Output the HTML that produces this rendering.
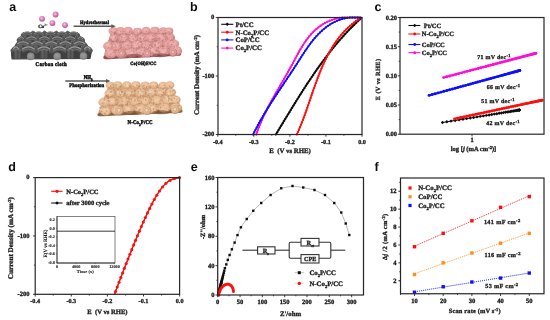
<!DOCTYPE html>
<html><head><meta charset="utf-8"><style>
html,body{margin:0;padding:0;background:#fff;width:550px;height:320px;overflow:hidden}
svg{display:block}
text{text-rendering:geometricPrecision}
</style></head><body>
<svg width="550" height="320" viewBox="0 0 550 320">
<defs><filter id="soft" x="-0.01" y="-0.01" width="1.02" height="1.02"><feGaussianBlur stdDeviation="0.3"/></filter></defs>
<rect width="550" height="320" fill="#fff"/>
<g filter="url(#soft)">
<defs>
<linearGradient id="gArch" x1="0" y1="0" x2="0" y2="1"><stop offset="0" stop-color="#8e8e8e"/><stop offset="0.35" stop-color="#737373"/><stop offset="0.8" stop-color="#555"/><stop offset="1" stop-color="#444"/></linearGradient>
<linearGradient id="gKnob" x1="0" y1="0" x2="1" y2="0"><stop offset="0" stop-color="#3a3a3a"/><stop offset="0.3" stop-color="#626262"/><stop offset="0.5" stop-color="#4e4e4e"/><stop offset="0.7" stop-color="#5c5c5c"/><stop offset="1" stop-color="#333"/></linearGradient>
<radialGradient id="gP" cx="0.45" cy="0.42" r="0.6"><stop offset="0" stop-color="#f0b6b3"/><stop offset="0.65" stop-color="#e39f9c"/><stop offset="1" stop-color="#c07a77"/></radialGradient>
<radialGradient id="gPd" cx="0.42" cy="0.38" r="0.62"><stop offset="0" stop-color="#e8a6a3"/><stop offset="0.55" stop-color="#cf8582"/><stop offset="1" stop-color="#9c5c5a"/></radialGradient>
<radialGradient id="gO" cx="0.45" cy="0.42" r="0.6"><stop offset="0" stop-color="#f4d0ad"/><stop offset="0.65" stop-color="#e6ba93"/><stop offset="1" stop-color="#c39670"/></radialGradient>
<radialGradient id="gOd" cx="0.42" cy="0.38" r="0.62"><stop offset="0" stop-color="#ecc39d"/><stop offset="0.55" stop-color="#d6a67e"/><stop offset="1" stop-color="#9e7552"/></radialGradient>
<radialGradient id="gS" cx="0.42" cy="0.38" r="0.62"><stop offset="0" stop-color="#f6c6e2"/><stop offset="0.55" stop-color="#e07ab8"/><stop offset="1" stop-color="#b8508e"/></radialGradient>
<radialGradient id="gFc" cx="0.45" cy="0.4" r="0.6"><stop offset="0" stop-color="#9c9c9c"/><stop offset="1" stop-color="#7c7c7c"/></radialGradient>
<radialGradient id="gFp" cx="0.45" cy="0.45" r="0.6"><stop offset="0" stop-color="#f2c0bd"/><stop offset="0.55" stop-color="#e2a09d"/><stop offset="1" stop-color="#b06c69"/></radialGradient>
<radialGradient id="gFo" cx="0.45" cy="0.45" r="0.6"><stop offset="0" stop-color="#f5d9bc"/><stop offset="0.55" stop-color="#e6bd96"/><stop offset="1" stop-color="#b38862"/></radialGradient>
</defs>
<polygon points="23.5,32.5 77,32.5 91.5,51 90,58.3 12,58.8 11.5,52" fill="#404040" stroke="#404040" stroke-width="1.2" stroke-linejoin="round"/>
<ellipse cx="33.03" cy="33.8" rx="2.08" ry="3.15" fill="url(#gKnob)"/>
<path d="M31.62 32.07 Q33.03 29.91 34.44 32.07" stroke="#747474" stroke-width="0.8" fill="none"/>
<ellipse cx="44.61" cy="33.8" rx="2.08" ry="3.15" fill="url(#gKnob)"/>
<path d="M43.2 32.07 Q44.61 29.91 46.02 32.07" stroke="#747474" stroke-width="0.8" fill="none"/>
<ellipse cx="56.19" cy="33.8" rx="2.08" ry="3.15" fill="url(#gKnob)"/>
<path d="M54.78 32.07 Q56.19 29.91 57.6 32.07" stroke="#747474" stroke-width="0.8" fill="none"/>
<ellipse cx="67.77" cy="33.8" rx="2.08" ry="3.15" fill="url(#gKnob)"/>
<path d="M66.36 32.07 Q67.77 29.91 69.18 32.07" stroke="#747474" stroke-width="0.8" fill="none"/>
<path d="M22.61 35 Q27.24 31.51 31.87 35" stroke="#545454" stroke-width="3.65" fill="none" stroke-linecap="round"/>
<path d="M22.91 33.5 Q27.24 29.91 31.57 33.5" stroke="#9c9c9c" stroke-width="0.91" fill="none" stroke-linecap="round"/>
<path d="M22.91 35.4 Q27.24 32.31 31.57 35.4" stroke="#6e6e6e" stroke-width="0.83" fill="none" stroke-linecap="round"/>
<path d="M34.19 35 Q38.82 31.51 43.45 35" stroke="#545454" stroke-width="3.65" fill="none" stroke-linecap="round"/>
<path d="M34.49 33.5 Q38.82 29.91 43.15 33.5" stroke="#9c9c9c" stroke-width="0.91" fill="none" stroke-linecap="round"/>
<path d="M34.49 35.4 Q38.82 32.31 43.15 35.4" stroke="#6e6e6e" stroke-width="0.83" fill="none" stroke-linecap="round"/>
<path d="M45.77 35 Q50.4 31.51 55.03 35" stroke="#545454" stroke-width="3.65" fill="none" stroke-linecap="round"/>
<path d="M46.07 33.5 Q50.4 29.91 54.73 33.5" stroke="#9c9c9c" stroke-width="0.91" fill="none" stroke-linecap="round"/>
<path d="M46.07 35.4 Q50.4 32.31 54.73 35.4" stroke="#6e6e6e" stroke-width="0.83" fill="none" stroke-linecap="round"/>
<path d="M57.35 35 Q61.98 31.51 66.61 35" stroke="#545454" stroke-width="3.65" fill="none" stroke-linecap="round"/>
<path d="M57.65 33.5 Q61.98 29.91 66.31 33.5" stroke="#9c9c9c" stroke-width="0.91" fill="none" stroke-linecap="round"/>
<path d="M57.65 35.4 Q61.98 32.31 66.31 35.4" stroke="#6e6e6e" stroke-width="0.83" fill="none" stroke-linecap="round"/>
<path d="M68.93 35 Q73.56 31.51 78.19 35" stroke="#545454" stroke-width="3.65" fill="none" stroke-linecap="round"/>
<path d="M69.23 33.5 Q73.56 29.91 77.89 33.5" stroke="#9c9c9c" stroke-width="0.91" fill="none" stroke-linecap="round"/>
<path d="M69.23 35.4 Q73.56 32.31 77.89 35.4" stroke="#6e6e6e" stroke-width="0.83" fill="none" stroke-linecap="round"/>
<ellipse cx="25.05" cy="38.93" rx="2.28" ry="3.46" fill="url(#gKnob)"/>
<path d="M23.5 37.07 Q25.05 34.7 26.6 37.07" stroke="#747474" stroke-width="0.8" fill="none"/>
<ellipse cx="37.93" cy="38.93" rx="2.28" ry="3.46" fill="url(#gKnob)"/>
<path d="M36.38 37.07 Q37.93 34.7 39.48 37.07" stroke="#747474" stroke-width="0.8" fill="none"/>
<ellipse cx="50.8" cy="38.93" rx="2.28" ry="3.46" fill="url(#gKnob)"/>
<path d="M49.26 37.07 Q50.8 34.7 52.35 37.07" stroke="#747474" stroke-width="0.8" fill="none"/>
<ellipse cx="63.68" cy="38.93" rx="2.28" ry="3.46" fill="url(#gKnob)"/>
<path d="M62.13 37.07 Q63.68 34.7 65.23 37.07" stroke="#747474" stroke-width="0.8" fill="none"/>
<ellipse cx="76.56" cy="38.93" rx="2.28" ry="3.46" fill="url(#gKnob)"/>
<path d="M75.01 37.07 Q76.56 34.7 78.11 37.07" stroke="#747474" stroke-width="0.8" fill="none"/>
<path d="M18.62 40.13 Q21.19 36.4 23.77 40.13" stroke="#545454" stroke-width="4.01" fill="none" stroke-linecap="round"/>
<path d="M18.92 38.63 Q21.19 34.8 23.47 38.63" stroke="#9c9c9c" stroke-width="1" fill="none" stroke-linecap="round"/>
<path d="M18.92 40.53 Q21.19 37.2 23.47 40.53" stroke="#6e6e6e" stroke-width="0.91" fill="none" stroke-linecap="round"/>
<path d="M26.34 40.13 Q31.49 36.4 36.64 40.13" stroke="#545454" stroke-width="4.01" fill="none" stroke-linecap="round"/>
<path d="M26.64 38.63 Q31.49 34.8 36.34 38.63" stroke="#9c9c9c" stroke-width="1" fill="none" stroke-linecap="round"/>
<path d="M26.64 40.53 Q31.49 37.2 36.34 40.53" stroke="#6e6e6e" stroke-width="0.91" fill="none" stroke-linecap="round"/>
<path d="M39.22 40.13 Q44.37 36.4 49.52 40.13" stroke="#545454" stroke-width="4.01" fill="none" stroke-linecap="round"/>
<path d="M39.52 38.63 Q44.37 34.8 49.22 38.63" stroke="#9c9c9c" stroke-width="1" fill="none" stroke-linecap="round"/>
<path d="M39.52 40.53 Q44.37 37.2 49.22 40.53" stroke="#6e6e6e" stroke-width="0.91" fill="none" stroke-linecap="round"/>
<path d="M52.09 40.13 Q57.24 36.4 62.39 40.13" stroke="#545454" stroke-width="4.01" fill="none" stroke-linecap="round"/>
<path d="M52.39 38.63 Q57.24 34.8 62.09 38.63" stroke="#9c9c9c" stroke-width="1" fill="none" stroke-linecap="round"/>
<path d="M52.39 40.53 Q57.24 37.2 62.09 40.53" stroke="#6e6e6e" stroke-width="0.91" fill="none" stroke-linecap="round"/>
<path d="M64.97 40.13 Q70.12 36.4 75.27 40.13" stroke="#545454" stroke-width="4.01" fill="none" stroke-linecap="round"/>
<path d="M65.27 38.63 Q70.12 34.8 74.97 38.63" stroke="#9c9c9c" stroke-width="1" fill="none" stroke-linecap="round"/>
<path d="M65.27 40.53 Q70.12 37.2 74.97 40.53" stroke="#6e6e6e" stroke-width="0.91" fill="none" stroke-linecap="round"/>
<path d="M77.84 40.13 Q80.42 36.4 83 40.13" stroke="#545454" stroke-width="4.01" fill="none" stroke-linecap="round"/>
<path d="M78.14 38.63 Q80.42 34.8 82.7 38.63" stroke="#9c9c9c" stroke-width="1" fill="none" stroke-linecap="round"/>
<path d="M78.14 40.53 Q80.42 37.2 82.7 40.53" stroke="#6e6e6e" stroke-width="0.91" fill="none" stroke-linecap="round"/>
<ellipse cx="29.95" cy="44.06" rx="2.48" ry="3.77" fill="url(#gKnob)"/>
<path d="M28.27 42.07 Q29.95 39.49 31.64 42.07" stroke="#747474" stroke-width="0.8" fill="none"/>
<ellipse cx="44.12" cy="44.06" rx="2.48" ry="3.77" fill="url(#gKnob)"/>
<path d="M42.44 42.07 Q44.12 39.49 45.81 42.07" stroke="#747474" stroke-width="0.8" fill="none"/>
<ellipse cx="58.3" cy="44.06" rx="2.48" ry="3.77" fill="url(#gKnob)"/>
<path d="M56.61 42.07 Q58.3 39.49 59.98 42.07" stroke="#747474" stroke-width="0.8" fill="none"/>
<ellipse cx="72.47" cy="44.06" rx="2.48" ry="3.77" fill="url(#gKnob)"/>
<path d="M70.78 42.07 Q72.47 39.49 74.15 42.07" stroke="#747474" stroke-width="0.8" fill="none"/>
<path d="M17.2 45.26 Q22.87 41.28 28.53 45.26" stroke="#545454" stroke-width="4.36" fill="none" stroke-linecap="round"/>
<path d="M17.5 43.76 Q22.87 39.68 28.23 43.76" stroke="#9c9c9c" stroke-width="1.09" fill="none" stroke-linecap="round"/>
<path d="M17.5 45.66 Q22.87 42.08 28.23 45.66" stroke="#6e6e6e" stroke-width="0.99" fill="none" stroke-linecap="round"/>
<path d="M31.37 45.26 Q37.04 41.28 42.71 45.26" stroke="#545454" stroke-width="4.36" fill="none" stroke-linecap="round"/>
<path d="M31.67 43.76 Q37.04 39.68 42.41 43.76" stroke="#9c9c9c" stroke-width="1.09" fill="none" stroke-linecap="round"/>
<path d="M31.67 45.66 Q37.04 42.08 42.41 45.66" stroke="#6e6e6e" stroke-width="0.99" fill="none" stroke-linecap="round"/>
<path d="M45.54 45.26 Q51.21 41.28 56.88 45.26" stroke="#545454" stroke-width="4.36" fill="none" stroke-linecap="round"/>
<path d="M45.84 43.76 Q51.21 39.68 56.58 43.76" stroke="#9c9c9c" stroke-width="1.09" fill="none" stroke-linecap="round"/>
<path d="M45.84 45.66 Q51.21 42.08 56.58 45.66" stroke="#6e6e6e" stroke-width="0.99" fill="none" stroke-linecap="round"/>
<path d="M59.71 45.26 Q65.38 41.28 71.05 45.26" stroke="#545454" stroke-width="4.36" fill="none" stroke-linecap="round"/>
<path d="M60.01 43.76 Q65.38 39.68 70.75 43.76" stroke="#9c9c9c" stroke-width="1.09" fill="none" stroke-linecap="round"/>
<path d="M60.01 45.66 Q65.38 42.08 70.75 45.66" stroke="#6e6e6e" stroke-width="0.99" fill="none" stroke-linecap="round"/>
<path d="M73.89 45.26 Q79.55 41.28 85.22 45.26" stroke="#545454" stroke-width="4.36" fill="none" stroke-linecap="round"/>
<path d="M74.19 43.76 Q79.55 39.68 84.92 43.76" stroke="#9c9c9c" stroke-width="1.09" fill="none" stroke-linecap="round"/>
<path d="M74.19 45.66 Q79.55 42.08 84.92 45.66" stroke="#6e6e6e" stroke-width="0.99" fill="none" stroke-linecap="round"/>
<ellipse cx="20.6" cy="49.38" rx="2.69" ry="4.09" fill="url(#gKnob)"/>
<path d="M18.77 47.26 Q20.6 44.46 22.43 47.26" stroke="#747474" stroke-width="0.8" fill="none"/>
<ellipse cx="36.11" cy="49.38" rx="2.69" ry="4.09" fill="url(#gKnob)"/>
<path d="M34.28 47.26 Q36.11 44.46 37.94 47.26" stroke="#747474" stroke-width="0.8" fill="none"/>
<ellipse cx="51.63" cy="49.38" rx="2.69" ry="4.09" fill="url(#gKnob)"/>
<path d="M49.8 47.26 Q51.63 44.46 53.46 47.26" stroke="#747474" stroke-width="0.8" fill="none"/>
<ellipse cx="67.15" cy="49.38" rx="2.69" ry="4.09" fill="url(#gKnob)"/>
<path d="M65.32 47.26 Q67.15 44.46 68.98 47.26" stroke="#747474" stroke-width="0.8" fill="none"/>
<ellipse cx="82.66" cy="49.38" rx="2.69" ry="4.09" fill="url(#gKnob)"/>
<path d="M80.83 47.26 Q82.66 44.46 84.49 47.26" stroke="#747474" stroke-width="0.8" fill="none"/>
<path d="M12.84 50.58 Q15.94 46.35 19.05 50.58" stroke="#545454" stroke-width="4.73" fill="none" stroke-linecap="round"/>
<path d="M13.14 49.08 Q15.94 44.75 18.75 49.08" stroke="#9c9c9c" stroke-width="1.18" fill="none" stroke-linecap="round"/>
<path d="M13.14 50.98 Q15.94 47.15 18.75 50.98" stroke="#6e6e6e" stroke-width="1.08" fill="none" stroke-linecap="round"/>
<path d="M22.15 50.58 Q28.36 46.35 34.56 50.58" stroke="#545454" stroke-width="4.73" fill="none" stroke-linecap="round"/>
<path d="M22.45 49.08 Q28.36 44.75 34.26 49.08" stroke="#9c9c9c" stroke-width="1.18" fill="none" stroke-linecap="round"/>
<path d="M22.45 50.98 Q28.36 47.15 34.26 50.98" stroke="#6e6e6e" stroke-width="1.08" fill="none" stroke-linecap="round"/>
<path d="M37.67 50.58 Q43.87 46.35 50.08 50.58" stroke="#545454" stroke-width="4.73" fill="none" stroke-linecap="round"/>
<path d="M37.97 49.08 Q43.87 44.75 49.78 49.08" stroke="#9c9c9c" stroke-width="1.18" fill="none" stroke-linecap="round"/>
<path d="M37.97 50.98 Q43.87 47.15 49.78 50.98" stroke="#6e6e6e" stroke-width="1.08" fill="none" stroke-linecap="round"/>
<path d="M53.18 50.58 Q59.39 46.35 65.59 50.58" stroke="#545454" stroke-width="4.73" fill="none" stroke-linecap="round"/>
<path d="M53.48 49.08 Q59.39 44.75 65.29 49.08" stroke="#9c9c9c" stroke-width="1.18" fill="none" stroke-linecap="round"/>
<path d="M53.48 50.98 Q59.39 47.15 65.29 50.98" stroke="#6e6e6e" stroke-width="1.08" fill="none" stroke-linecap="round"/>
<path d="M68.7 50.58 Q74.9 46.35 81.11 50.58" stroke="#545454" stroke-width="4.73" fill="none" stroke-linecap="round"/>
<path d="M69 49.08 Q74.9 44.75 80.81 49.08" stroke="#9c9c9c" stroke-width="1.18" fill="none" stroke-linecap="round"/>
<path d="M69 50.98 Q74.9 47.15 80.81 50.98" stroke="#6e6e6e" stroke-width="1.08" fill="none" stroke-linecap="round"/>
<path d="M84.21 50.58 Q87.32 46.35 90.42 50.58" stroke="#545454" stroke-width="4.73" fill="none" stroke-linecap="round"/>
<path d="M84.51 49.08 Q87.32 44.75 90.12 49.08" stroke="#9c9c9c" stroke-width="1.18" fill="none" stroke-linecap="round"/>
<path d="M84.51 50.98 Q87.32 47.15 90.12 50.98" stroke="#6e6e6e" stroke-width="1.08" fill="none" stroke-linecap="round"/>
<rect x="12.9" y="49" width="9.4" height="9.6" rx="3.5" fill="url(#gKnob)"/>
<path d="M13.8 50.5 Q17.6 48.4 21.4 50.5" stroke="#808080" stroke-width="0.8" fill="none"/>
<rect x="39.6" y="49" width="9.4" height="9.6" rx="3.5" fill="url(#gKnob)"/>
<path d="M40.5 50.5 Q44.3 48.4 48.1 50.5" stroke="#808080" stroke-width="0.8" fill="none"/>
<rect x="65.9" y="49" width="9.4" height="9.6" rx="3.5" fill="url(#gKnob)"/>
<path d="M66.8 50.5 Q70.6 48.4 74.4 50.5" stroke="#808080" stroke-width="0.8" fill="none"/>
<circle cx="30.7" cy="56.4" r="3.8" fill="url(#gFc)"/>
<circle cx="57.2" cy="56.4" r="3.8" fill="url(#gFc)"/>
<circle cx="83.5" cy="56" r="3.8" fill="url(#gFc)"/>
<polygon points="112.4,31.63 170.22,31.42 179.38,52.38 105.02,55.79" fill="#d48e8b" stroke="#d48e8b" stroke-width="2" stroke-linejoin="round"/>
<polyline points="105.05,57.53 108.77,57.35 112.49,57.17 116.21,56.99 119.93,56.82 123.65,56.64 127.37,56.46 131.09,56.28 134.81,56.11 138.53,55.93 142.25,55.75 145.97,55.57 149.69,55.39 153.41,55.22 157.13,55.04 160.85,54.86 164.57,54.68 168.29,54.51 172.01,54.33 175.73,54.15 179.45,53.97" fill="none" stroke="#8f5250" stroke-width="3.6" stroke-linecap="round"/>
<ellipse cx="113.37" cy="30.97" rx="4.84" ry="3.77" fill="url(#gP)"/>
<ellipse cx="120.46" cy="30.95" rx="4.92" ry="3.84" fill="url(#gP)"/>
<ellipse cx="128.08" cy="30.72" rx="4.93" ry="3.85" fill="url(#gP)"/>
<ellipse cx="137.54" cy="31.05" rx="4.39" ry="3.42" fill="url(#gP)"/>
<ellipse cx="146.03" cy="30.51" rx="4.67" ry="3.64" fill="url(#gP)"/>
<ellipse cx="154.87" cy="30.31" rx="4.46" ry="3.48" fill="url(#gP)"/>
<ellipse cx="163.23" cy="31.02" rx="4.82" ry="3.76" fill="url(#gP)"/>
<ellipse cx="168.92" cy="30.91" rx="4.41" ry="3.44" fill="url(#gP)"/>
<ellipse cx="113.96" cy="38.16" rx="4.77" ry="3.72" fill="url(#gP)"/>
<ellipse cx="123.67" cy="38.06" rx="4.93" ry="3.84" fill="url(#gP)"/>
<ellipse cx="133.21" cy="38.42" rx="4.98" ry="3.89" fill="url(#gP)"/>
<ellipse cx="142.59" cy="37.99" rx="5.26" ry="4.11" fill="url(#gP)"/>
<ellipse cx="151.09" cy="38.15" rx="5.27" ry="4.11" fill="url(#gP)"/>
<ellipse cx="161.41" cy="37.94" rx="4.99" ry="3.89" fill="url(#gP)"/>
<ellipse cx="170.09" cy="37.19" rx="4.88" ry="3.8" fill="url(#gP)"/>
<ellipse cx="108.81" cy="46.07" rx="5.71" ry="4.45" fill="url(#gP)"/>
<ellipse cx="116.51" cy="46.13" rx="5.5" ry="4.29" fill="url(#gP)"/>
<ellipse cx="126.98" cy="45.92" rx="5.61" ry="4.38" fill="url(#gP)"/>
<ellipse cx="137.08" cy="45.34" rx="5.79" ry="4.52" fill="url(#gP)"/>
<ellipse cx="146.87" cy="45.42" rx="5.25" ry="4.09" fill="url(#gP)"/>
<ellipse cx="157.8" cy="44.99" rx="5.24" ry="4.09" fill="url(#gP)"/>
<ellipse cx="167.95" cy="44.29" rx="5.69" ry="4.44" fill="url(#gP)"/>
<ellipse cx="173.78" cy="43.83" rx="5.37" ry="4.19" fill="url(#gP)"/>
<ellipse cx="110.84" cy="53.59" rx="6.34" ry="4.95" fill="url(#gP)"/>
<ellipse cx="121.6" cy="53.72" rx="5.98" ry="4.67" fill="url(#gP)"/>
<ellipse cx="131.71" cy="52.92" rx="6.36" ry="4.96" fill="url(#gP)"/>
<ellipse cx="142.21" cy="52.63" rx="6.38" ry="4.97" fill="url(#gP)"/>
<ellipse cx="153.9" cy="51.59" rx="6.51" ry="5.07" fill="url(#gP)"/>
<ellipse cx="163.77" cy="51.37" rx="6.22" ry="4.85" fill="url(#gP)"/>
<ellipse cx="175.56" cy="50.9" rx="6.49" ry="5.06" fill="url(#gP)"/>
<circle cx="144.53" cy="37.87" r="0.5" fill="#a96461" opacity="0.5"/>
<circle cx="163.14" cy="45.2" r="0.85" fill="#a96461" opacity="0.5"/>
<circle cx="120.54" cy="31.29" r="0.62" fill="#b56e6b" opacity="0.5"/>
<circle cx="135.41" cy="36.1" r="0.52" fill="#b56e6b" opacity="0.5"/>
<circle cx="124.02" cy="47.1" r="0.38" fill="#c07774" opacity="0.5"/>
<circle cx="166.69" cy="30.78" r="0.52" fill="#edb3b0" opacity="0.5"/>
<circle cx="119.62" cy="55.94" r="0.82" fill="#b56e6b" opacity="0.5"/>
<circle cx="151.67" cy="49.6" r="0.43" fill="#f7d2cf" opacity="0.5"/>
<circle cx="133.5" cy="31.52" r="0.5" fill="#edb3b0" opacity="0.5"/>
<circle cx="138.62" cy="55.51" r="0.84" fill="#c07774" opacity="0.5"/>
<circle cx="138.54" cy="42.46" r="0.59" fill="#a96461" opacity="0.5"/>
<circle cx="127.58" cy="40.55" r="0.41" fill="#c07774" opacity="0.5"/>
<circle cx="164.18" cy="42.85" r="0.66" fill="#c07774" opacity="0.5"/>
<circle cx="141.54" cy="38.58" r="0.6" fill="#f7d2cf" opacity="0.5"/>
<circle cx="142.86" cy="43.86" r="0.53" fill="#b56e6b" opacity="0.5"/>
<circle cx="163.1" cy="48.82" r="0.68" fill="#b56e6b" opacity="0.5"/>
<circle cx="158.93" cy="38.86" r="0.77" fill="#a96461" opacity="0.5"/>
<circle cx="124.08" cy="55.72" r="0.83" fill="#a96461" opacity="0.5"/>
<circle cx="131.27" cy="34.63" r="0.59" fill="#f7d2cf" opacity="0.5"/>
<circle cx="159.65" cy="37.93" r="0.58" fill="#a96461" opacity="0.5"/>
<circle cx="164.54" cy="45.65" r="0.52" fill="#a96461" opacity="0.5"/>
<circle cx="152.51" cy="48.31" r="0.53" fill="#edb3b0" opacity="0.5"/>
<circle cx="167.93" cy="50.95" r="0.84" fill="#edb3b0" opacity="0.5"/>
<circle cx="173.41" cy="42.26" r="0.84" fill="#b56e6b" opacity="0.5"/>
<circle cx="121.53" cy="39.58" r="0.49" fill="#edb3b0" opacity="0.5"/>
<circle cx="111.64" cy="48.05" r="0.44" fill="#edb3b0" opacity="0.5"/>
<circle cx="161.56" cy="44.12" r="0.5" fill="#edb3b0" opacity="0.5"/>
<circle cx="146.12" cy="51.81" r="0.71" fill="#a96461" opacity="0.5"/>
<circle cx="111.55" cy="34.34" r="0.66" fill="#edb3b0" opacity="0.5"/>
<circle cx="118.57" cy="50.14" r="0.67" fill="#c07774" opacity="0.5"/>
<circle cx="110.33" cy="42.75" r="0.43" fill="#c07774" opacity="0.5"/>
<circle cx="165.8" cy="32.65" r="0.59" fill="#c07774" opacity="0.5"/>
<circle cx="144.93" cy="40.46" r="0.54" fill="#a96461" opacity="0.5"/>
<circle cx="149.73" cy="44.72" r="0.71" fill="#c07774" opacity="0.5"/>
<circle cx="133.23" cy="39.05" r="0.78" fill="#a96461" opacity="0.5"/>
<circle cx="168.4" cy="46.53" r="0.54" fill="#b56e6b" opacity="0.5"/>
<circle cx="108.96" cy="46.61" r="0.5" fill="#f7d2cf" opacity="0.5"/>
<circle cx="143.17" cy="54.07" r="0.83" fill="#a96461" opacity="0.5"/>
<circle cx="163.21" cy="40.13" r="0.67" fill="#b56e6b" opacity="0.5"/>
<circle cx="133.18" cy="33.67" r="0.54" fill="#b56e6b" opacity="0.5"/>
<circle cx="139.98" cy="35.07" r="0.65" fill="#c07774" opacity="0.5"/>
<circle cx="130.87" cy="53.14" r="0.54" fill="#f7d2cf" opacity="0.5"/>
<circle cx="128.93" cy="53.82" r="0.42" fill="#b56e6b" opacity="0.5"/>
<circle cx="151.93" cy="52.17" r="0.56" fill="#edb3b0" opacity="0.5"/>
<circle cx="174.58" cy="41.64" r="0.84" fill="#edb3b0" opacity="0.5"/>
<circle cx="132.97" cy="54.79" r="0.65" fill="#c07774" opacity="0.5"/>
<circle cx="123.7" cy="55.74" r="0.48" fill="#edb3b0" opacity="0.5"/>
<circle cx="105.42" cy="55.64" r="0.6" fill="#a96461" opacity="0.5"/>
<circle cx="127.07" cy="42.47" r="0.68" fill="#f7d2cf" opacity="0.5"/>
<circle cx="171.3" cy="35.8" r="0.74" fill="#f7d2cf" opacity="0.5"/>
<circle cx="161.11" cy="30.32" r="0.63" fill="#b56e6b" opacity="0.5"/>
<circle cx="124.14" cy="42.47" r="0.47" fill="#f7d2cf" opacity="0.5"/>
<circle cx="126.74" cy="34.06" r="0.5" fill="#a96461" opacity="0.5"/>
<circle cx="149.13" cy="41.84" r="0.79" fill="#b56e6b" opacity="0.5"/>
<circle cx="165.27" cy="30.39" r="0.5" fill="#c07774" opacity="0.5"/>
<circle cx="143.8" cy="38.48" r="0.72" fill="#a96461" opacity="0.5"/>
<circle cx="110.15" cy="39.48" r="0.42" fill="#b56e6b" opacity="0.5"/>
<circle cx="107.05" cy="45.04" r="0.79" fill="#f7d2cf" opacity="0.5"/>
<circle cx="144.03" cy="30.37" r="0.65" fill="#edb3b0" opacity="0.5"/>
<circle cx="156.7" cy="53.5" r="0.78" fill="#edb3b0" opacity="0.5"/>
<circle cx="165.13" cy="41.46" r="0.8" fill="#c07774" opacity="0.5"/>
<circle cx="139.45" cy="49.32" r="0.77" fill="#a96461" opacity="0.5"/>
<circle cx="154.89" cy="40.66" r="0.67" fill="#a96461" opacity="0.5"/>
<circle cx="139.75" cy="37.91" r="0.59" fill="#c07774" opacity="0.5"/>
<circle cx="145.13" cy="42.53" r="0.62" fill="#a96461" opacity="0.5"/>
<circle cx="136.6" cy="43.87" r="0.38" fill="#f7d2cf" opacity="0.5"/>
<circle cx="121.97" cy="51.6" r="0.68" fill="#f7d2cf" opacity="0.5"/>
<circle cx="107.44" cy="49.59" r="0.85" fill="#f7d2cf" opacity="0.5"/>
<circle cx="153.64" cy="31.2" r="0.46" fill="#f7d2cf" opacity="0.5"/>
<circle cx="153.38" cy="53.63" r="0.85" fill="#c07774" opacity="0.5"/>
<circle cx="155.67" cy="40.77" r="0.66" fill="#c07774" opacity="0.5"/>
<circle cx="135.97" cy="34.14" r="0.46" fill="#b56e6b" opacity="0.5"/>
<circle cx="145.89" cy="46.6" r="0.49" fill="#f7d2cf" opacity="0.5"/>
<circle cx="145.81" cy="32.97" r="0.79" fill="#edb3b0" opacity="0.5"/>
<circle cx="116.88" cy="41.53" r="0.69" fill="#a96461" opacity="0.5"/>
<circle cx="140.9" cy="38.97" r="0.81" fill="#a96461" opacity="0.5"/>
<circle cx="117.85" cy="37.87" r="0.67" fill="#b56e6b" opacity="0.5"/>
<circle cx="142.6" cy="53.06" r="0.62" fill="#b56e6b" opacity="0.5"/>
<circle cx="124.11" cy="31.67" r="0.48" fill="#c07774" opacity="0.5"/>
<circle cx="159.13" cy="42.63" r="0.75" fill="#c07774" opacity="0.5"/>
<circle cx="166.5" cy="40.88" r="0.44" fill="#edb3b0" opacity="0.5"/>
<circle cx="157.18" cy="46.09" r="0.64" fill="#f7d2cf" opacity="0.5"/>
<circle cx="107.23" cy="53.37" r="0.65" fill="#b56e6b" opacity="0.5"/>
<circle cx="122.41" cy="53.08" r="0.83" fill="#edb3b0" opacity="0.5"/>
<circle cx="114.5" cy="44.22" r="0.71" fill="#b56e6b" opacity="0.5"/>
<circle cx="113.25" cy="34.07" r="0.69" fill="#edb3b0" opacity="0.5"/>
<circle cx="124.07" cy="33.06" r="0.76" fill="#edb3b0" opacity="0.5"/>
<circle cx="116.25" cy="46.67" r="0.77" fill="#a96461" opacity="0.5"/>
<circle cx="126.14" cy="54.31" r="0.75" fill="#a96461" opacity="0.5"/>
<circle cx="133.1" cy="48.65" r="0.67" fill="#a96461" opacity="0.5"/>
<circle cx="162.35" cy="40.5" r="0.61" fill="#a96461" opacity="0.5"/>
<circle cx="148.33" cy="44.34" r="0.55" fill="#c07774" opacity="0.5"/>
<circle cx="116.67" cy="30.89" r="0.45" fill="#c07774" opacity="0.5"/>
<circle cx="141.43" cy="53.79" r="0.35" fill="#a96461" opacity="0.5"/>
<circle cx="139.89" cy="52.65" r="0.81" fill="#b56e6b" opacity="0.5"/>
<circle cx="129.63" cy="42.01" r="0.43" fill="#c07774" opacity="0.5"/>
<circle cx="118.83" cy="39.97" r="0.78" fill="#edb3b0" opacity="0.5"/>
<circle cx="139.68" cy="44.06" r="0.49" fill="#f7d2cf" opacity="0.5"/>
<circle cx="119.41" cy="37.64" r="0.37" fill="#c07774" opacity="0.5"/>
<circle cx="167.89" cy="38.22" r="0.51" fill="#a96461" opacity="0.5"/>
<circle cx="114.42" cy="30.59" r="0.59" fill="#edb3b0" opacity="0.5"/>
<circle cx="169.21" cy="32.79" r="0.5" fill="#a96461" opacity="0.5"/>
<circle cx="154.7" cy="48.02" r="0.37" fill="#c07774" opacity="0.5"/>
<circle cx="156.92" cy="44.11" r="0.66" fill="#f7d2cf" opacity="0.5"/>
<circle cx="171.81" cy="46.84" r="0.44" fill="#a96461" opacity="0.5"/>
<circle cx="132.78" cy="31.73" r="0.43" fill="#edb3b0" opacity="0.5"/>
<circle cx="123.26" cy="47.69" r="0.67" fill="#f7d2cf" opacity="0.5"/>
<circle cx="136.88" cy="54.98" r="0.58" fill="#f7d2cf" opacity="0.5"/>
<circle cx="138.55" cy="47.39" r="0.37" fill="#c07774" opacity="0.5"/>
<circle cx="145.98" cy="54.91" r="0.63" fill="#b56e6b" opacity="0.5"/>
<circle cx="173.91" cy="47" r="0.8" fill="#c07774" opacity="0.5"/>
<circle cx="141.51" cy="53.75" r="0.69" fill="#f7d2cf" opacity="0.5"/>
<circle cx="151.69" cy="42.34" r="0.37" fill="#f7d2cf" opacity="0.5"/>
<circle cx="164.4" cy="40.75" r="0.79" fill="#f7d2cf" opacity="0.5"/>
<circle cx="170.17" cy="34.61" r="0.67" fill="#b56e6b" opacity="0.5"/>
<circle cx="121.37" cy="36.19" r="0.75" fill="#a96461" opacity="0.5"/>
<circle cx="110.32" cy="56.48" r="0.65" fill="#c07774" opacity="0.5"/>
<circle cx="164.35" cy="35.15" r="0.57" fill="#f7d2cf" opacity="0.5"/>
<circle cx="132.03" cy="40.95" r="0.61" fill="#edb3b0" opacity="0.5"/>
<circle cx="118.97" cy="30.33" r="0.69" fill="#a96461" opacity="0.5"/>
<circle cx="172.59" cy="53.89" r="0.41" fill="#b56e6b" opacity="0.5"/>
<circle cx="129.67" cy="32.28" r="0.76" fill="#a96461" opacity="0.5"/>
<circle cx="129.65" cy="33.38" r="0.59" fill="#f7d2cf" opacity="0.5"/>
<circle cx="156.66" cy="49.67" r="0.68" fill="#b56e6b" opacity="0.5"/>
<circle cx="126.3" cy="42.9" r="0.37" fill="#c07774" opacity="0.5"/>
<circle cx="121.92" cy="37.57" r="0.79" fill="#a96461" opacity="0.5"/>
<circle cx="110.52" cy="50.72" r="0.73" fill="#edb3b0" opacity="0.5"/>
<circle cx="146.39" cy="52.53" r="0.64" fill="#c07774" opacity="0.5"/>
<circle cx="137.77" cy="50.88" r="0.71" fill="#f7d2cf" opacity="0.5"/>
<circle cx="154.6" cy="36.59" r="0.63" fill="#edb3b0" opacity="0.5"/>
<circle cx="129.81" cy="37.97" r="0.48" fill="#c07774" opacity="0.5"/>
<circle cx="153.03" cy="37.05" r="0.62" fill="#f7d2cf" opacity="0.5"/>
<circle cx="155.85" cy="30.68" r="0.38" fill="#f7d2cf" opacity="0.5"/>
<circle cx="116.98" cy="39.54" r="0.82" fill="#a96461" opacity="0.5"/>
<circle cx="148.7" cy="35.76" r="0.41" fill="#edb3b0" opacity="0.5"/>
<circle cx="121.71" cy="39.48" r="0.64" fill="#c07774" opacity="0.5"/>
<circle cx="165.8" cy="47.55" r="0.48" fill="#f7d2cf" opacity="0.5"/>
<circle cx="149.42" cy="45.74" r="0.57" fill="#c07774" opacity="0.5"/>
<circle cx="174.5" cy="48.86" r="0.52" fill="#f7d2cf" opacity="0.5"/>
<circle cx="137.99" cy="35.83" r="0.57" fill="#b56e6b" opacity="0.5"/>
<circle cx="137.71" cy="49.62" r="0.62" fill="#c07774" opacity="0.5"/>
<circle cx="175.02" cy="44.07" r="0.41" fill="#f7d2cf" opacity="0.5"/>
<circle cx="167.23" cy="46.49" r="0.84" fill="#c07774" opacity="0.5"/>
<circle cx="108.98" cy="45.62" r="0.7" fill="#edb3b0" opacity="0.5"/>
<circle cx="131.75" cy="42.02" r="0.49" fill="#c07774" opacity="0.5"/>
<circle cx="120.88" cy="44.88" r="0.73" fill="#a96461" opacity="0.5"/>
<circle cx="160.65" cy="38.91" r="0.76" fill="#c07774" opacity="0.5"/>
<circle cx="154.55" cy="52.48" r="0.66" fill="#f7d2cf" opacity="0.5"/>
<circle cx="135.15" cy="33.68" r="0.6" fill="#c07774" opacity="0.5"/>
<circle cx="112.12" cy="34.59" r="0.73" fill="#f7d2cf" opacity="0.5"/>
<circle cx="125.53" cy="54.09" r="0.59" fill="#a96461" opacity="0.5"/>
<circle cx="139.71" cy="43.59" r="0.75" fill="#f7d2cf" opacity="0.5"/>
<circle cx="133.76" cy="30.26" r="0.65" fill="#b56e6b" opacity="0.5"/>
<circle cx="151.05" cy="50.25" r="0.51" fill="#f7d2cf" opacity="0.5"/>
<circle cx="110.44" cy="38.46" r="0.6" fill="#edb3b0" opacity="0.5"/>
<circle cx="145.24" cy="47.39" r="0.84" fill="#edb3b0" opacity="0.5"/>
<circle cx="166.22" cy="52.34" r="0.69" fill="#b56e6b" opacity="0.5"/>
<circle cx="144.77" cy="50.14" r="0.83" fill="#a96461" opacity="0.5"/>
<circle cx="106.71" cy="50.89" r="0.49" fill="#c07774" opacity="0.5"/>
<circle cx="115.16" cy="32.35" r="0.66" fill="#a96461" opacity="0.5"/>
<circle cx="169.95" cy="52.59" r="0.5" fill="#edb3b0" opacity="0.5"/>
<circle cx="169.49" cy="36.53" r="0.39" fill="#c07774" opacity="0.5"/>
<circle cx="160.14" cy="46.35" r="0.8" fill="#a96461" opacity="0.5"/>
<circle cx="156.12" cy="50.67" r="0.66" fill="#b56e6b" opacity="0.5"/>
<circle cx="121.59" cy="43.65" r="0.47" fill="#f7d2cf" opacity="0.5"/>
<circle cx="174.9" cy="42.83" r="0.83" fill="#edb3b0" opacity="0.5"/>
<circle cx="153.08" cy="39.34" r="0.8" fill="#b56e6b" opacity="0.5"/>
<circle cx="170.96" cy="44.62" r="0.51" fill="#edb3b0" opacity="0.5"/>
<circle cx="168.09" cy="51.41" r="0.47" fill="#a96461" opacity="0.5"/>
<circle cx="115.35" cy="37.88" r="0.75" fill="#a96461" opacity="0.5"/>
<circle cx="109.85" cy="55.58" r="0.67" fill="#f7d2cf" opacity="0.5"/>
<circle cx="158.61" cy="35.47" r="0.63" fill="#f7d2cf" opacity="0.5"/>
<circle cx="150.92" cy="45.92" r="0.71" fill="#b56e6b" opacity="0.5"/>
<circle cx="136.04" cy="40.91" r="0.65" fill="#b56e6b" opacity="0.5"/>
<circle cx="124.38" cy="41" r="0.65" fill="#f7d2cf" opacity="0.5"/>
<circle cx="171.15" cy="34.42" r="0.42" fill="#f7d2cf" opacity="0.5"/>
<circle cx="127.51" cy="44.49" r="0.44" fill="#b56e6b" opacity="0.5"/>
<circle cx="119.98" cy="45.75" r="0.71" fill="#a96461" opacity="0.5"/>
<circle cx="111.58" cy="43.07" r="0.83" fill="#b56e6b" opacity="0.5"/>
<circle cx="128.49" cy="52.13" r="0.81" fill="#edb3b0" opacity="0.5"/>
<circle cx="122.35" cy="48.36" r="0.77" fill="#edb3b0" opacity="0.5"/>
<circle cx="106.07" cy="48.28" r="0.4" fill="#f7d2cf" opacity="0.5"/>
<circle cx="117.17" cy="46.4" r="0.64" fill="#f7d2cf" opacity="0.5"/>
<circle cx="137.69" cy="38.25" r="0.71" fill="#c07774" opacity="0.5"/>
<circle cx="174.76" cy="52.76" r="0.53" fill="#f7d2cf" opacity="0.5"/>
<circle cx="161.5" cy="34.73" r="0.54" fill="#a96461" opacity="0.5"/>
<circle cx="138.95" cy="47.35" r="0.47" fill="#f7d2cf" opacity="0.5"/>
<circle cx="171.92" cy="41.05" r="0.41" fill="#f7d2cf" opacity="0.5"/>
<circle cx="148.12" cy="39.36" r="0.6" fill="#f7d2cf" opacity="0.5"/>
<circle cx="177.62" cy="52.34" r="0.6" fill="#f7d2cf" opacity="0.5"/>
<circle cx="173.74" cy="46.9" r="0.41" fill="#f7d2cf" opacity="0.5"/>
<circle cx="140.21" cy="39" r="0.81" fill="#c07774" opacity="0.5"/>
<circle cx="133.82" cy="37.49" r="0.67" fill="#edb3b0" opacity="0.5"/>
<circle cx="157.84" cy="32.16" r="0.5" fill="#f7d2cf" opacity="0.5"/>
<circle cx="129.88" cy="52.01" r="0.57" fill="#b56e6b" opacity="0.5"/>
<circle cx="120.63" cy="56.01" r="0.68" fill="#a96461" opacity="0.5"/>
<circle cx="113.74" cy="37.3" r="0.63" fill="#f7d2cf" opacity="0.5"/>
<circle cx="137.14" cy="34.61" r="0.78" fill="#edb3b0" opacity="0.5"/>
<circle cx="124.32" cy="41.9" r="0.76" fill="#c07774" opacity="0.5"/>
<circle cx="105.63" cy="50.82" r="0.76" fill="#a96461" opacity="0.5"/>
<circle cx="108.27" cy="45.25" r="0.78" fill="#edb3b0" opacity="0.5"/>
<circle cx="109.75" cy="56.14" r="0.84" fill="#c07774" opacity="0.5"/>
<circle cx="137.79" cy="42.06" r="0.83" fill="#f7d2cf" opacity="0.5"/>
<circle cx="149.44" cy="50.97" r="0.6" fill="#edb3b0" opacity="0.5"/>
<circle cx="111.61" cy="40.6" r="0.57" fill="#b56e6b" opacity="0.5"/>
<circle cx="149.25" cy="52.56" r="0.67" fill="#b56e6b" opacity="0.5"/>
<circle cx="113.02" cy="30.64" r="0.76" fill="#edb3b0" opacity="0.5"/>
<circle cx="163.64" cy="40.44" r="0.36" fill="#edb3b0" opacity="0.5"/>
<circle cx="161.41" cy="34.03" r="0.42" fill="#a96461" opacity="0.5"/>
<circle cx="160.68" cy="40.26" r="0.85" fill="#f7d2cf" opacity="0.5"/>
<circle cx="122.5" cy="41.12" r="0.42" fill="#a96461" opacity="0.5"/>
<circle cx="132.98" cy="30.06" r="0.73" fill="#f7d2cf" opacity="0.5"/>
<circle cx="157.28" cy="31.88" r="0.37" fill="#edb3b0" opacity="0.5"/>
<circle cx="135.7" cy="33.84" r="0.72" fill="#f7d2cf" opacity="0.5"/>
<circle cx="141.16" cy="38.06" r="0.42" fill="#edb3b0" opacity="0.5"/>
<circle cx="122.11" cy="54.22" r="0.37" fill="#b56e6b" opacity="0.5"/>
<circle cx="120.31" cy="41.38" r="0.42" fill="#a96461" opacity="0.5"/>
<circle cx="151.77" cy="38.28" r="0.43" fill="#c07774" opacity="0.5"/>
<circle cx="143.64" cy="54.65" r="0.4" fill="#b56e6b" opacity="0.5"/>
<circle cx="114.1" cy="47.24" r="0.5" fill="#a96461" opacity="0.5"/>
<circle cx="170.17" cy="43.06" r="0.83" fill="#edb3b0" opacity="0.5"/>
<circle cx="123.64" cy="44.96" r="0.36" fill="#a96461" opacity="0.5"/>
<circle cx="108.96" cy="40.46" r="0.59" fill="#c07774" opacity="0.5"/>
<circle cx="153.74" cy="30.2" r="0.56" fill="#c07774" opacity="0.5"/>
<circle cx="142.16" cy="45.47" r="0.38" fill="#a96461" opacity="0.5"/>
<circle cx="141.32" cy="30.97" r="0.79" fill="#edb3b0" opacity="0.5"/>
<circle cx="161.16" cy="43.57" r="0.58" fill="#edb3b0" opacity="0.5"/>
<circle cx="153.98" cy="52.91" r="0.63" fill="#a96461" opacity="0.5"/>
<circle cx="126.04" cy="45.27" r="0.82" fill="#b56e6b" opacity="0.5"/>
<circle cx="173.58" cy="37.11" r="0.65" fill="#c07774" opacity="0.5"/>
<circle cx="154.93" cy="45.91" r="0.72" fill="#f7d2cf" opacity="0.5"/>
<circle cx="143.57" cy="39.81" r="0.5" fill="#b56e6b" opacity="0.5"/>
<circle cx="145.94" cy="50.87" r="0.58" fill="#c07774" opacity="0.5"/>
<circle cx="114.8" cy="30.1" r="0.45" fill="#b56e6b" opacity="0.5"/>
<circle cx="138.48" cy="31.53" r="0.41" fill="#f7d2cf" opacity="0.5"/>
<circle cx="167.38" cy="38.95" r="0.48" fill="#a96461" opacity="0.5"/>
<circle cx="125.48" cy="50.52" r="0.48" fill="#f7d2cf" opacity="0.5"/>
<circle cx="165.29" cy="45.1" r="0.43" fill="#edb3b0" opacity="0.5"/>
<circle cx="162.9" cy="47.04" r="0.79" fill="#b56e6b" opacity="0.5"/>
<circle cx="137.5" cy="52.95" r="0.65" fill="#c07774" opacity="0.5"/>
<circle cx="147.13" cy="52.64" r="0.63" fill="#a96461" opacity="0.5"/>
<circle cx="111.27" cy="31.18" r="0.6" fill="#b56e6b" opacity="0.5"/>
<circle cx="164.01" cy="30.95" r="0.56" fill="#b56e6b" opacity="0.5"/>
<circle cx="135.7" cy="43.64" r="0.66" fill="#edb3b0" opacity="0.5"/>
<circle cx="120.86" cy="55.04" r="0.7" fill="#f7d2cf" opacity="0.5"/>
<circle cx="157.31" cy="44.52" r="0.38" fill="#f7d2cf" opacity="0.5"/>
<circle cx="139.06" cy="46.54" r="0.71" fill="#b56e6b" opacity="0.5"/>
<circle cx="111.13" cy="47.33" r="0.41" fill="#a96461" opacity="0.5"/>
<circle cx="158.02" cy="36.31" r="0.5" fill="#a96461" opacity="0.5"/>
<circle cx="166.57" cy="37.73" r="0.58" fill="#edb3b0" opacity="0.5"/>
<circle cx="119.35" cy="35.76" r="0.51" fill="#a96461" opacity="0.5"/>
<circle cx="149.34" cy="41.41" r="0.53" fill="#c07774" opacity="0.5"/>
<circle cx="113.17" cy="41.44" r="0.61" fill="#b56e6b" opacity="0.5"/>
<circle cx="134.72" cy="35.06" r="0.43" fill="#edb3b0" opacity="0.5"/>
<circle cx="142.35" cy="53.7" r="0.81" fill="#a96461" opacity="0.5"/>
<circle cx="118.43" cy="37.14" r="0.6" fill="#edb3b0" opacity="0.5"/>
<circle cx="170.41" cy="35.13" r="0.68" fill="#c07774" opacity="0.5"/>
<circle cx="136.1" cy="50.11" r="0.5" fill="#a96461" opacity="0.5"/>
<circle cx="116.05" cy="36.95" r="0.77" fill="#a96461" opacity="0.5"/>
<circle cx="142.85" cy="42.31" r="0.83" fill="#f7d2cf" opacity="0.5"/>
<circle cx="113.8" cy="50.61" r="0.4" fill="#a96461" opacity="0.5"/>
<circle cx="165.76" cy="36.82" r="0.44" fill="#b56e6b" opacity="0.5"/>
<circle cx="161.07" cy="43.21" r="0.67" fill="#c07774" opacity="0.5"/>
<circle cx="156.05" cy="36.39" r="0.78" fill="#edb3b0" opacity="0.5"/>
<circle cx="166.73" cy="37.47" r="0.71" fill="#a96461" opacity="0.5"/>
<circle cx="135.38" cy="52.33" r="0.38" fill="#f7d2cf" opacity="0.5"/>
<circle cx="114.92" cy="31.06" r="0.75" fill="#f7d2cf" opacity="0.5"/>
<circle cx="169.15" cy="42.09" r="0.58" fill="#f7d2cf" opacity="0.5"/>
<circle cx="112.69" cy="41.36" r="0.62" fill="#b56e6b" opacity="0.5"/>
<circle cx="152.86" cy="46.9" r="0.82" fill="#a96461" opacity="0.5"/>
<circle cx="172.23" cy="41.05" r="0.44" fill="#f7d2cf" opacity="0.5"/>
<circle cx="123.85" cy="46.17" r="0.39" fill="#f7d2cf" opacity="0.5"/>
<circle cx="175.77" cy="42.78" r="0.41" fill="#edb3b0" opacity="0.5"/>
<circle cx="128.5" cy="41.83" r="0.37" fill="#edb3b0" opacity="0.5"/>
<circle cx="171.71" cy="53.49" r="0.54" fill="#c07774" opacity="0.5"/>
<circle cx="152.36" cy="52.83" r="0.79" fill="#a96461" opacity="0.5"/>
<circle cx="154.37" cy="31.75" r="0.38" fill="#a96461" opacity="0.5"/>
<circle cx="171.75" cy="41.06" r="0.63" fill="#edb3b0" opacity="0.5"/>
<circle cx="163.13" cy="45.41" r="0.49" fill="#a96461" opacity="0.5"/>
<circle cx="157.34" cy="36.26" r="0.55" fill="#edb3b0" opacity="0.5"/>
<circle cx="154.4" cy="32.42" r="0.45" fill="#b56e6b" opacity="0.5"/>
<circle cx="156.19" cy="47.95" r="0.57" fill="#f7d2cf" opacity="0.5"/>
<circle cx="124.28" cy="36.58" r="0.71" fill="#f7d2cf" opacity="0.5"/>
<circle cx="125.1" cy="42.18" r="0.75" fill="#c07774" opacity="0.5"/>
<circle cx="140.36" cy="37.57" r="0.66" fill="#a96461" opacity="0.5"/>
<circle cx="155.58" cy="43.36" r="0.41" fill="#b56e6b" opacity="0.5"/>
<circle cx="159.08" cy="38.2" r="0.59" fill="#b56e6b" opacity="0.5"/>
<circle cx="167.93" cy="51.07" r="0.81" fill="#b56e6b" opacity="0.5"/>
<circle cx="127.16" cy="38.73" r="0.42" fill="#a96461" opacity="0.5"/>
<circle cx="136.26" cy="40.63" r="0.49" fill="#c07774" opacity="0.5"/>
<circle cx="118.79" cy="55.2" r="0.35" fill="#f7d2cf" opacity="0.5"/>
<circle cx="170.76" cy="37.41" r="0.68" fill="#edb3b0" opacity="0.5"/>
<circle cx="136.17" cy="51.48" r="0.52" fill="#edb3b0" opacity="0.5"/>
<circle cx="157.77" cy="42.37" r="0.74" fill="#b56e6b" opacity="0.5"/>
<circle cx="107.67" cy="45.66" r="0.62" fill="#f7d2cf" opacity="0.5"/>
<circle cx="140.54" cy="41.84" r="0.37" fill="#a96461" opacity="0.5"/>
<circle cx="144.15" cy="42.07" r="0.72" fill="#f7d2cf" opacity="0.5"/>
<circle cx="120.43" cy="34.54" r="0.47" fill="#b56e6b" opacity="0.5"/>
<circle cx="165.46" cy="45.71" r="0.56" fill="#edb3b0" opacity="0.5"/>
<circle cx="167.87" cy="45.5" r="0.45" fill="#f7d2cf" opacity="0.5"/>
<circle cx="125.04" cy="31.76" r="0.54" fill="#b56e6b" opacity="0.5"/>
<circle cx="146.76" cy="35.59" r="0.54" fill="#f7d2cf" opacity="0.5"/>
<circle cx="149.11" cy="48.93" r="0.74" fill="#edb3b0" opacity="0.5"/>
<circle cx="159.29" cy="51.86" r="0.77" fill="#b56e6b" opacity="0.5"/>
<circle cx="119.64" cy="31.51" r="0.44" fill="#f7d2cf" opacity="0.5"/>
<circle cx="121.75" cy="34.56" r="0.8" fill="#edb3b0" opacity="0.5"/>
<circle cx="139.54" cy="37.36" r="0.36" fill="#f7d2cf" opacity="0.5"/>
<circle cx="163.73" cy="48.62" r="0.58" fill="#b56e6b" opacity="0.5"/>
<circle cx="150.24" cy="45.05" r="0.45" fill="#b56e6b" opacity="0.5"/>
<circle cx="152" cy="41.01" r="0.45" fill="#b56e6b" opacity="0.5"/>
<circle cx="112.83" cy="39.16" r="0.62" fill="#f7d2cf" opacity="0.5"/>
<circle cx="166.01" cy="34.12" r="0.35" fill="#edb3b0" opacity="0.5"/>
<circle cx="136.87" cy="37.68" r="0.55" fill="#edb3b0" opacity="0.5"/>
<circle cx="158.34" cy="32.79" r="0.69" fill="#edb3b0" opacity="0.5"/>
<circle cx="122.6" cy="40.63" r="0.42" fill="#edb3b0" opacity="0.5"/>
<circle cx="171.56" cy="36.48" r="0.73" fill="#b56e6b" opacity="0.5"/>
<circle cx="156.64" cy="51.19" r="0.73" fill="#a96461" opacity="0.5"/>
<circle cx="170.38" cy="51.99" r="0.76" fill="#edb3b0" opacity="0.5"/>
<circle cx="169.8" cy="43.38" r="0.72" fill="#edb3b0" opacity="0.5"/>
<circle cx="120.9" cy="45.4" r="0.45" fill="#f7d2cf" opacity="0.5"/>
<circle cx="144.59" cy="51.2" r="0.67" fill="#a96461" opacity="0.5"/>
<circle cx="155.84" cy="40.64" r="0.66" fill="#c07774" opacity="0.5"/>
<circle cx="119.62" cy="44.44" r="0.82" fill="#edb3b0" opacity="0.5"/>
<circle cx="159.54" cy="47.14" r="0.83" fill="#edb3b0" opacity="0.5"/>
<circle cx="163.64" cy="37.86" r="0.59" fill="#f7d2cf" opacity="0.5"/>
<circle cx="132" cy="55.54" r="0.53" fill="#b56e6b" opacity="0.5"/>
<circle cx="166.57" cy="36.33" r="0.58" fill="#b56e6b" opacity="0.5"/>
<circle cx="171.52" cy="44.47" r="0.56" fill="#b56e6b" opacity="0.5"/>
<circle cx="134.33" cy="44.39" r="0.46" fill="#f7d2cf" opacity="0.5"/>
<circle cx="126.79" cy="51.32" r="0.74" fill="#f7d2cf" opacity="0.5"/>
<circle cx="140.35" cy="32.12" r="0.51" fill="#b56e6b" opacity="0.5"/>
<circle cx="113.91" cy="38.75" r="0.51" fill="#c07774" opacity="0.5"/>
<circle cx="168.32" cy="48.71" r="0.66" fill="#a96461" opacity="0.5"/>
<circle cx="163.48" cy="52.54" r="0.73" fill="#f7d2cf" opacity="0.5"/>
<circle cx="168.67" cy="46.34" r="0.37" fill="#f7d2cf" opacity="0.5"/>
<circle cx="142.62" cy="41.88" r="0.5" fill="#edb3b0" opacity="0.5"/>
<circle cx="136.49" cy="45.79" r="0.39" fill="#b56e6b" opacity="0.5"/>
<circle cx="152.77" cy="36.02" r="0.77" fill="#a96461" opacity="0.5"/>
<circle cx="146.88" cy="31.82" r="0.5" fill="#edb3b0" opacity="0.5"/>
<circle cx="114.78" cy="39.28" r="0.39" fill="#edb3b0" opacity="0.5"/>
<circle cx="131.37" cy="35.42" r="0.58" fill="#f7d2cf" opacity="0.5"/>
<circle cx="111.92" cy="53.14" r="0.37" fill="#a96461" opacity="0.5"/>
<circle cx="175.67" cy="46.55" r="0.65" fill="#f7d2cf" opacity="0.5"/>
<circle cx="167.17" cy="37.4" r="0.76" fill="#edb3b0" opacity="0.5"/>
<circle cx="141.76" cy="38.79" r="0.4" fill="#b56e6b" opacity="0.5"/>
<circle cx="142.92" cy="52.34" r="0.68" fill="#edb3b0" opacity="0.5"/>
<circle cx="149.41" cy="40.11" r="0.41" fill="#edb3b0" opacity="0.5"/>
<circle cx="112.76" cy="38.7" r="0.5" fill="#f7d2cf" opacity="0.5"/>
<circle cx="132.32" cy="45.59" r="0.4" fill="#b56e6b" opacity="0.5"/>
<circle cx="110.51" cy="33.89" r="0.37" fill="#a96461" opacity="0.5"/>
<circle cx="113.31" cy="50.24" r="0.38" fill="#f7d2cf" opacity="0.5"/>
<circle cx="112.1" cy="46.85" r="0.57" fill="#a96461" opacity="0.5"/>
<circle cx="123.49" cy="41.42" r="0.43" fill="#a96461" opacity="0.5"/>
<circle cx="129.81" cy="48.01" r="0.63" fill="#b56e6b" opacity="0.5"/>
<circle cx="134.56" cy="42" r="0.77" fill="#edb3b0" opacity="0.5"/>
<circle cx="119.6" cy="42.6" r="0.77" fill="#a96461" opacity="0.5"/>
<circle cx="113.73" cy="41.76" r="0.54" fill="#a96461" opacity="0.5"/>
<circle cx="163.91" cy="52.91" r="0.55" fill="#f7d2cf" opacity="0.5"/>
<circle cx="169.89" cy="53.96" r="0.42" fill="#c07774" opacity="0.5"/>
<circle cx="162.73" cy="43.14" r="0.49" fill="#a96461" opacity="0.5"/>
<circle cx="119.62" cy="40.93" r="0.51" fill="#edb3b0" opacity="0.5"/>
<circle cx="122.13" cy="34.12" r="0.61" fill="#b56e6b" opacity="0.5"/>
<circle cx="116.09" cy="40.12" r="0.76" fill="#c07774" opacity="0.5"/>
<circle cx="151.77" cy="36.03" r="0.79" fill="#edb3b0" opacity="0.5"/>
<circle cx="151.51" cy="30.65" r="0.74" fill="#f7d2cf" opacity="0.5"/>
<circle cx="128.76" cy="38.83" r="0.52" fill="#b56e6b" opacity="0.5"/>
<circle cx="162.33" cy="30.3" r="0.6" fill="#c07774" opacity="0.5"/>
<circle cx="126.04" cy="43.78" r="0.81" fill="#f7d2cf" opacity="0.5"/>
<circle cx="174.14" cy="37.77" r="0.46" fill="#a96461" opacity="0.5"/>
<circle cx="138.6" cy="30.83" r="0.73" fill="#f7d2cf" opacity="0.5"/>
<circle cx="113.65" cy="48.59" r="0.47" fill="#f7d2cf" opacity="0.5"/>
<circle cx="114.25" cy="32.96" r="0.81" fill="#b56e6b" opacity="0.5"/>
<circle cx="166.81" cy="48.87" r="0.56" fill="#a96461" opacity="0.5"/>
<circle cx="159.76" cy="37.45" r="0.44" fill="#edb3b0" opacity="0.5"/>
<circle cx="156.88" cy="42.05" r="0.73" fill="#f7d2cf" opacity="0.5"/>
<circle cx="139.54" cy="35.91" r="0.71" fill="#f7d2cf" opacity="0.5"/>
<circle cx="159.75" cy="52.33" r="0.46" fill="#b56e6b" opacity="0.5"/>
<circle cx="151.61" cy="32.4" r="0.37" fill="#edb3b0" opacity="0.5"/>
<circle cx="125.32" cy="42.01" r="0.72" fill="#f7d2cf" opacity="0.5"/>
<circle cx="169.55" cy="37.6" r="0.83" fill="#c07774" opacity="0.5"/>
<circle cx="141.11" cy="51.26" r="0.65" fill="#f7d2cf" opacity="0.5"/>
<circle cx="129.7" cy="40.21" r="0.48" fill="#a96461" opacity="0.5"/>
<circle cx="120.82" cy="52.2" r="0.5" fill="#b56e6b" opacity="0.5"/>
<circle cx="120" cy="30.24" r="0.45" fill="#b56e6b" opacity="0.5"/>
<circle cx="170.55" cy="43.45" r="0.46" fill="#f7d2cf" opacity="0.5"/>
<circle cx="120.75" cy="47.57" r="0.46" fill="#b56e6b" opacity="0.5"/>
<circle cx="162.86" cy="33.34" r="0.41" fill="#c07774" opacity="0.5"/>
<circle cx="148.62" cy="47.63" r="0.59" fill="#b56e6b" opacity="0.5"/>
<circle cx="168.33" cy="45.08" r="0.39" fill="#a96461" opacity="0.5"/>
<circle cx="120.28" cy="42.35" r="0.68" fill="#b56e6b" opacity="0.5"/>
<circle cx="154.47" cy="45.8" r="0.59" fill="#b56e6b" opacity="0.5"/>
<circle cx="143.73" cy="51.2" r="0.36" fill="#a96461" opacity="0.5"/>
<circle cx="120.25" cy="34.24" r="0.54" fill="#a96461" opacity="0.5"/>
<circle cx="167.46" cy="50.53" r="0.67" fill="#b56e6b" opacity="0.5"/>
<circle cx="116.76" cy="41.91" r="0.67" fill="#b56e6b" opacity="0.5"/>
<circle cx="158.98" cy="44.93" r="0.81" fill="#f7d2cf" opacity="0.5"/>
<circle cx="119.51" cy="44.49" r="0.48" fill="#c07774" opacity="0.5"/>
<circle cx="118.86" cy="40.65" r="0.39" fill="#a96461" opacity="0.5"/>
<circle cx="131.22" cy="48" r="0.47" fill="#b56e6b" opacity="0.5"/>
<circle cx="150.13" cy="53.55" r="0.57" fill="#edb3b0" opacity="0.5"/>
<circle cx="125.08" cy="42.6" r="0.84" fill="#edb3b0" opacity="0.5"/>
<circle cx="135.03" cy="52.91" r="0.82" fill="#edb3b0" opacity="0.5"/>
<circle cx="108.36" cy="56.66" r="0.66" fill="#edb3b0" opacity="0.5"/>
<circle cx="110.27" cy="43.66" r="0.52" fill="#a96461" opacity="0.5"/>
<circle cx="153.92" cy="39.07" r="0.75" fill="#b56e6b" opacity="0.5"/>
<circle cx="152.6" cy="34.02" r="0.7" fill="#edb3b0" opacity="0.5"/>
<circle cx="157.13" cy="47.31" r="0.63" fill="#c07774" opacity="0.5"/>
<circle cx="162.38" cy="46.04" r="0.73" fill="#a96461" opacity="0.5"/>
<circle cx="122.93" cy="42.97" r="0.78" fill="#b56e6b" opacity="0.5"/>
<circle cx="118" cy="51.54" r="0.82" fill="#edb3b0" opacity="0.5"/>
<circle cx="137.82" cy="44.48" r="0.51" fill="#c07774" opacity="0.5"/>
<circle cx="158.63" cy="53.49" r="0.41" fill="#f7d2cf" opacity="0.5"/>
<circle cx="138.02" cy="41.96" r="0.78" fill="#f7d2cf" opacity="0.5"/>
<circle cx="117.43" cy="42.97" r="0.69" fill="#b56e6b" opacity="0.5"/>
<circle cx="118.91" cy="32.98" r="0.76" fill="#f7d2cf" opacity="0.5"/>
<circle cx="112.18" cy="41.49" r="0.82" fill="#c07774" opacity="0.5"/>
<circle cx="158.53" cy="38.14" r="0.62" fill="#edb3b0" opacity="0.5"/>
<circle cx="153.84" cy="45.76" r="0.71" fill="#a96461" opacity="0.5"/>
<circle cx="174.15" cy="41.65" r="0.77" fill="#edb3b0" opacity="0.5"/>
<circle cx="167.55" cy="37.72" r="0.51" fill="#b56e6b" opacity="0.5"/>
<circle cx="141.27" cy="31.07" r="0.62" fill="#c07774" opacity="0.5"/>
<circle cx="123.23" cy="55.53" r="0.76" fill="#c07774" opacity="0.5"/>
<circle cx="123.34" cy="47.56" r="0.6" fill="#b56e6b" opacity="0.5"/>
<circle cx="168.6" cy="35.55" r="0.48" fill="#edb3b0" opacity="0.5"/>
<circle cx="133.01" cy="30" r="0.75" fill="#f7d2cf" opacity="0.5"/>
<circle cx="124.37" cy="37.55" r="0.82" fill="#c07774" opacity="0.5"/>
<circle cx="132.06" cy="36.47" r="0.4" fill="#a96461" opacity="0.5"/>
<circle cx="145.32" cy="36.36" r="0.61" fill="#b56e6b" opacity="0.5"/>
<circle cx="126.85" cy="33.77" r="0.4" fill="#f7d2cf" opacity="0.5"/>
<circle cx="128.84" cy="33.79" r="0.51" fill="#c07774" opacity="0.5"/>
<circle cx="168.63" cy="31.03" r="0.54" fill="#edb3b0" opacity="0.5"/>
<circle cx="113.28" cy="52.34" r="0.71" fill="#b56e6b" opacity="0.5"/>
<circle cx="159.69" cy="49.85" r="0.51" fill="#f7d2cf" opacity="0.5"/>
<circle cx="145.18" cy="33.48" r="0.53" fill="#c07774" opacity="0.5"/>
<circle cx="176.98" cy="50.47" r="0.39" fill="#a96461" opacity="0.5"/>
<circle cx="136.69" cy="43.34" r="0.59" fill="#edb3b0" opacity="0.5"/>
<circle cx="160.69" cy="54.26" r="0.5" fill="#f7d2cf" opacity="0.5"/>
<circle cx="159.44" cy="35.94" r="0.4" fill="#edb3b0" opacity="0.5"/>
<circle cx="147.82" cy="46.07" r="0.66" fill="#b56e6b" opacity="0.5"/>
<circle cx="143.62" cy="47.01" r="0.61" fill="#edb3b0" opacity="0.5"/>
<circle cx="133" cy="33.81" r="0.36" fill="#f7d2cf" opacity="0.5"/>
<circle cx="149.6" cy="40.3" r="0.52" fill="#edb3b0" opacity="0.5"/>
<circle cx="124.02" cy="38.26" r="0.48" fill="#edb3b0" opacity="0.5"/>
<circle cx="122.94" cy="42.86" r="0.38" fill="#a96461" opacity="0.5"/>
<circle cx="110.77" cy="53.94" r="0.62" fill="#b56e6b" opacity="0.5"/>
<circle cx="174.76" cy="40.18" r="0.82" fill="#edb3b0" opacity="0.5"/>
<circle cx="151.39" cy="31.25" r="0.61" fill="#edb3b0" opacity="0.5"/>
<circle cx="164.77" cy="33.61" r="0.47" fill="#a96461" opacity="0.5"/>
<circle cx="111.5" cy="44.07" r="0.46" fill="#c07774" opacity="0.5"/>
<circle cx="176.49" cy="52.96" r="0.64" fill="#edb3b0" opacity="0.5"/>
<circle cx="166.45" cy="40.67" r="0.78" fill="#c07774" opacity="0.5"/>
<circle cx="140.83" cy="52.52" r="0.39" fill="#a96461" opacity="0.5"/>
<circle cx="139.19" cy="47.03" r="0.77" fill="#a96461" opacity="0.5"/>
<circle cx="173.64" cy="47.26" r="0.61" fill="#f7d2cf" opacity="0.5"/>
<circle cx="152.25" cy="39.19" r="0.69" fill="#a96461" opacity="0.5"/>
<circle cx="110.99" cy="39.41" r="0.74" fill="#a96461" opacity="0.5"/>
<circle cx="165.07" cy="39.17" r="0.54" fill="#edb3b0" opacity="0.5"/>
<circle cx="125.94" cy="40.8" r="0.65" fill="#c07774" opacity="0.5"/>
<circle cx="161.41" cy="52.77" r="0.52" fill="#f7d2cf" opacity="0.5"/>
<circle cx="108.46" cy="51.01" r="0.73" fill="#edb3b0" opacity="0.5"/>
<circle cx="149.6" cy="41.87" r="0.56" fill="#f7d2cf" opacity="0.5"/>
<circle cx="121.84" cy="35.81" r="0.63" fill="#f7d2cf" opacity="0.5"/>
<circle cx="133.54" cy="38.12" r="0.52" fill="#c07774" opacity="0.5"/>
<circle cx="135.82" cy="37.16" r="0.6" fill="#a96461" opacity="0.5"/>
<circle cx="117.24" cy="53.49" r="0.73" fill="#f7d2cf" opacity="0.5"/>
<circle cx="130.68" cy="32.26" r="0.53" fill="#edb3b0" opacity="0.5"/>
<circle cx="128.28" cy="37.89" r="0.51" fill="#b56e6b" opacity="0.5"/>
<circle cx="156.54" cy="48.82" r="0.59" fill="#c07774" opacity="0.5"/>
<circle cx="172.06" cy="40.39" r="0.82" fill="#a96461" opacity="0.5"/>
<circle cx="150.42" cy="44.68" r="0.45" fill="#b56e6b" opacity="0.5"/>
<circle cx="136.15" cy="34.03" r="0.7" fill="#f7d2cf" opacity="0.5"/>
<circle cx="147.31" cy="47.54" r="0.77" fill="#f7d2cf" opacity="0.5"/>
<circle cx="167.35" cy="43.43" r="0.69" fill="#edb3b0" opacity="0.5"/>
<circle cx="165.73" cy="32.73" r="0.46" fill="#b56e6b" opacity="0.5"/>
<circle cx="172.55" cy="34.32" r="0.84" fill="#b56e6b" opacity="0.5"/>
<circle cx="128.82" cy="48.17" r="0.65" fill="#c07774" opacity="0.5"/>
<circle cx="154.59" cy="33.4" r="0.49" fill="#edb3b0" opacity="0.5"/>
<circle cx="150.61" cy="48.36" r="0.71" fill="#a96461" opacity="0.5"/>
<circle cx="129.95" cy="30.9" r="0.68" fill="#a96461" opacity="0.5"/>
<circle cx="139.8" cy="44.31" r="0.48" fill="#c07774" opacity="0.5"/>
<circle cx="114.91" cy="32.94" r="0.4" fill="#b56e6b" opacity="0.5"/>
<circle cx="135.28" cy="46.61" r="0.78" fill="#f7d2cf" opacity="0.5"/>
<circle cx="175.31" cy="41.69" r="0.37" fill="#edb3b0" opacity="0.5"/>
<circle cx="148.27" cy="38.03" r="0.48" fill="#b56e6b" opacity="0.5"/>
<circle cx="169.06" cy="53.84" r="0.45" fill="#b56e6b" opacity="0.5"/>
<circle cx="174.4" cy="46.82" r="0.42" fill="#edb3b0" opacity="0.5"/>
<circle cx="156.94" cy="38.56" r="0.66" fill="#c07774" opacity="0.5"/>
<circle cx="147.58" cy="35.86" r="0.54" fill="#f7d2cf" opacity="0.5"/>
<circle cx="114.97" cy="50.29" r="0.8" fill="#c07774" opacity="0.5"/>
<circle cx="137.63" cy="31.93" r="0.4" fill="#f7d2cf" opacity="0.5"/>
<circle cx="142.69" cy="35.3" r="0.84" fill="#b56e6b" opacity="0.5"/>
<circle cx="122.18" cy="49.27" r="0.6" fill="#edb3b0" opacity="0.5"/>
<circle cx="141.16" cy="32.78" r="0.62" fill="#c07774" opacity="0.5"/>
<circle cx="150.32" cy="52.7" r="0.77" fill="#b56e6b" opacity="0.5"/>
<circle cx="111.09" cy="33.77" r="0.67" fill="#edb3b0" opacity="0.5"/>
<circle cx="118.93" cy="30.89" r="0.56" fill="#f7d2cf" opacity="0.5"/>
<circle cx="176.3" cy="43.89" r="0.68" fill="#edb3b0" opacity="0.5"/>
<circle cx="141.34" cy="50.72" r="0.76" fill="#a96461" opacity="0.5"/>
<circle cx="140.34" cy="53.88" r="0.41" fill="#edb3b0" opacity="0.5"/>
<circle cx="159.2" cy="53.13" r="0.45" fill="#f7d2cf" opacity="0.5"/>
<circle cx="163.16" cy="42.91" r="0.51" fill="#c07774" opacity="0.5"/>
<circle cx="153.63" cy="45.88" r="0.52" fill="#f7d2cf" opacity="0.5"/>
<circle cx="134.46" cy="33.21" r="0.39" fill="#f7d2cf" opacity="0.5"/>
<circle cx="163.39" cy="33.51" r="0.8" fill="#c07774" opacity="0.5"/>
<circle cx="170.26" cy="40.4" r="0.54" fill="#a96461" opacity="0.5"/>
<circle cx="147.74" cy="34.77" r="0.39" fill="#c07774" opacity="0.5"/>
<circle cx="154.73" cy="54.14" r="0.48" fill="#a96461" opacity="0.5"/>
<circle cx="159.64" cy="52.17" r="0.54" fill="#b56e6b" opacity="0.5"/>
<circle cx="166.28" cy="37.69" r="0.65" fill="#c07774" opacity="0.5"/>
<circle cx="119.03" cy="35.39" r="0.37" fill="#c07774" opacity="0.5"/>
<circle cx="108.28" cy="40.17" r="0.6" fill="#a96461" opacity="0.5"/>
<circle cx="141.23" cy="41.47" r="0.69" fill="#f7d2cf" opacity="0.5"/>
<circle cx="128.95" cy="45.14" r="0.37" fill="#b56e6b" opacity="0.5"/>
<circle cx="165" cy="31.51" r="0.63" fill="#f7d2cf" opacity="0.5"/>
<circle cx="161.41" cy="32.33" r="0.59" fill="#f7d2cf" opacity="0.5"/>
<circle cx="171.89" cy="50.26" r="0.8" fill="#b56e6b" opacity="0.5"/>
<circle cx="150.28" cy="51.36" r="0.54" fill="#c07774" opacity="0.5"/>
<circle cx="113.63" cy="50.48" r="0.59" fill="#c07774" opacity="0.5"/>
<circle cx="126.33" cy="39.54" r="0.58" fill="#b56e6b" opacity="0.5"/>
<circle cx="119.83" cy="56.06" r="0.79" fill="#c07774" opacity="0.5"/>
<circle cx="115.36" cy="45.81" r="0.36" fill="#edb3b0" opacity="0.5"/>
<circle cx="171.01" cy="52.31" r="0.45" fill="#edb3b0" opacity="0.5"/>
<circle cx="122.35" cy="44.39" r="0.82" fill="#edb3b0" opacity="0.5"/>
<circle cx="118.59" cy="40.23" r="0.44" fill="#a96461" opacity="0.5"/>
<circle cx="144.6" cy="47.41" r="0.84" fill="#a96461" opacity="0.5"/>
<circle cx="131.78" cy="51.62" r="0.44" fill="#a96461" opacity="0.5"/>
<circle cx="137.08" cy="34.28" r="0.75" fill="#c07774" opacity="0.5"/>
<circle cx="107.94" cy="56.2" r="0.62" fill="#b56e6b" opacity="0.5"/>
<circle cx="178.78" cy="48.81" r="0.8" fill="#f7d2cf" opacity="0.5"/>
<circle cx="170.7" cy="32.88" r="0.48" fill="#c07774" opacity="0.5"/>
<circle cx="159.22" cy="36.5" r="0.82" fill="#edb3b0" opacity="0.5"/>
<circle cx="169.13" cy="35.41" r="0.74" fill="#edb3b0" opacity="0.5"/>
<circle cx="124.53" cy="34.63" r="0.48" fill="#c07774" opacity="0.5"/>
<circle cx="158.8" cy="38.97" r="0.7" fill="#c07774" opacity="0.5"/>
<circle cx="136.94" cy="30.8" r="0.52" fill="#a96461" opacity="0.5"/>
<circle cx="124.37" cy="32.92" r="0.71" fill="#f7d2cf" opacity="0.5"/>
<circle cx="158.25" cy="44.13" r="0.69" fill="#a96461" opacity="0.5"/>
<circle cx="155.05" cy="44.87" r="0.75" fill="#a96461" opacity="0.5"/>
<circle cx="139" cy="42.64" r="0.39" fill="#b56e6b" opacity="0.5"/>
<circle cx="158.58" cy="50.41" r="0.59" fill="#b56e6b" opacity="0.5"/>
<circle cx="176.62" cy="53.7" r="0.83" fill="#a96461" opacity="0.5"/>
<circle cx="113.14" cy="31.97" r="0.56" fill="#a96461" opacity="0.5"/>
<circle cx="132.1" cy="55.77" r="0.4" fill="#c07774" opacity="0.5"/>
<circle cx="125.72" cy="33.34" r="0.84" fill="#c07774" opacity="0.5"/>
<circle cx="115.24" cy="32.13" r="0.66" fill="#a96461" opacity="0.5"/>
<circle cx="114.5" cy="52.27" r="0.79" fill="#b56e6b" opacity="0.5"/>
<circle cx="158.46" cy="47.91" r="0.67" fill="#a96461" opacity="0.5"/>
<circle cx="116.58" cy="37.62" r="0.57" fill="#edb3b0" opacity="0.5"/>
<circle cx="163.19" cy="45.29" r="0.41" fill="#f7d2cf" opacity="0.5"/>
<circle cx="173.21" cy="38.69" r="0.6" fill="#c07774" opacity="0.5"/>
<circle cx="126.6" cy="34.27" r="0.56" fill="#a96461" opacity="0.5"/>
<circle cx="171.96" cy="44.46" r="0.7" fill="#a96461" opacity="0.5"/>
<circle cx="113.76" cy="38.94" r="0.76" fill="#edb3b0" opacity="0.5"/>
<circle cx="155.22" cy="45.58" r="0.8" fill="#b56e6b" opacity="0.5"/>
<circle cx="148.15" cy="39.61" r="0.79" fill="#b56e6b" opacity="0.5"/>
<circle cx="128.8" cy="30.73" r="0.61" fill="#edb3b0" opacity="0.5"/>
<circle cx="108.44" cy="43.52" r="0.67" fill="#f7d2cf" opacity="0.5"/>
<circle cx="130.45" cy="36.2" r="0.63" fill="#edb3b0" opacity="0.5"/>
<circle cx="127.88" cy="42.3" r="0.74" fill="#edb3b0" opacity="0.5"/>
<circle cx="131.08" cy="46.04" r="0.42" fill="#b56e6b" opacity="0.5"/>
<circle cx="166.39" cy="36.19" r="0.44" fill="#c07774" opacity="0.5"/>
<circle cx="171.46" cy="46.74" r="0.48" fill="#c07774" opacity="0.5"/>
<circle cx="141.1" cy="41.46" r="0.84" fill="#c07774" opacity="0.5"/>
<circle cx="135.79" cy="43.53" r="0.44" fill="#c07774" opacity="0.5"/>
<circle cx="162.17" cy="44.34" r="0.74" fill="#f7d2cf" opacity="0.5"/>
<circle cx="172.29" cy="34.89" r="0.66" fill="#edb3b0" opacity="0.5"/>
<circle cx="175.81" cy="44.51" r="0.42" fill="#f7d2cf" opacity="0.5"/>
<circle cx="137.73" cy="48.03" r="0.8" fill="#c07774" opacity="0.5"/>
<circle cx="156.53" cy="41.17" r="0.68" fill="#a96461" opacity="0.5"/>
<circle cx="110.34" cy="48.9" r="0.74" fill="#c07774" opacity="0.5"/>
<circle cx="156.33" cy="40.8" r="0.6" fill="#a96461" opacity="0.5"/>
<circle cx="114.6" cy="33.91" r="0.7" fill="#a96461" opacity="0.5"/>
<circle cx="168.83" cy="33.51" r="0.39" fill="#f7d2cf" opacity="0.5"/>
<circle cx="124.08" cy="52.69" r="0.47" fill="#c07774" opacity="0.5"/>
<circle cx="161.45" cy="49.05" r="0.56" fill="#edb3b0" opacity="0.5"/>
<circle cx="141.03" cy="40.04" r="0.5" fill="#edb3b0" opacity="0.5"/>
<circle cx="125.83" cy="30.21" r="0.36" fill="#c07774" opacity="0.5"/>
<circle cx="164.03" cy="36.58" r="0.82" fill="#b56e6b" opacity="0.5"/>
<circle cx="111.33" cy="46.84" r="0.46" fill="#edb3b0" opacity="0.5"/>
<circle cx="112.74" cy="44.93" r="0.67" fill="#b56e6b" opacity="0.5"/>
<circle cx="166.64" cy="35.95" r="0.55" fill="#edb3b0" opacity="0.5"/>
<circle cx="118.51" cy="51.3" r="0.78" fill="#b56e6b" opacity="0.5"/>
<circle cx="168.25" cy="34.78" r="0.69" fill="#b56e6b" opacity="0.5"/>
<circle cx="173.64" cy="37.7" r="0.57" fill="#b56e6b" opacity="0.5"/>
<circle cx="162.76" cy="33.39" r="0.83" fill="#a96461" opacity="0.5"/>
<circle cx="154.34" cy="36.53" r="0.63" fill="#b56e6b" opacity="0.5"/>
<circle cx="122.3" cy="31.35" r="0.74" fill="#c07774" opacity="0.5"/>
<circle cx="133.72" cy="51.23" r="0.79" fill="#a96461" opacity="0.5"/>
<circle cx="109.48" cy="38.5" r="0.79" fill="#c07774" opacity="0.5"/>
<circle cx="175.16" cy="39.79" r="0.52" fill="#c07774" opacity="0.5"/>
<circle cx="134.75" cy="36.36" r="0.5" fill="#b56e6b" opacity="0.5"/>
<circle cx="141.22" cy="33.35" r="0.68" fill="#c07774" opacity="0.5"/>
<circle cx="155.1" cy="50.03" r="0.6" fill="#b56e6b" opacity="0.5"/>
<circle cx="136.82" cy="46.99" r="0.69" fill="#f7d2cf" opacity="0.5"/>
<circle cx="125.48" cy="49.89" r="0.43" fill="#a96461" opacity="0.5"/>
<circle cx="160.31" cy="35.06" r="0.7" fill="#f7d2cf" opacity="0.5"/>
<circle cx="158.35" cy="38.36" r="0.61" fill="#c07774" opacity="0.5"/>
<circle cx="133.91" cy="52.44" r="0.49" fill="#c07774" opacity="0.5"/>
<circle cx="128.74" cy="41.47" r="0.44" fill="#f7d2cf" opacity="0.5"/>
<circle cx="117.2" cy="30.48" r="0.65" fill="#a96461" opacity="0.5"/>
<circle cx="137.3" cy="43.73" r="0.61" fill="#a96461" opacity="0.5"/>
<circle cx="132.25" cy="40.54" r="0.76" fill="#f7d2cf" opacity="0.5"/>
<circle cx="125.38" cy="52.96" r="0.45" fill="#c07774" opacity="0.5"/>
<circle cx="161.33" cy="42.34" r="0.73" fill="#f7d2cf" opacity="0.5"/>
<circle cx="115.67" cy="51.93" r="0.48" fill="#c07774" opacity="0.5"/>
<circle cx="161.98" cy="48.56" r="0.5" fill="#b56e6b" opacity="0.5"/>
<circle cx="133.62" cy="48.92" r="0.38" fill="#a96461" opacity="0.5"/>
<circle cx="163.89" cy="34.35" r="0.82" fill="#a96461" opacity="0.5"/>
<circle cx="172.24" cy="53.84" r="0.64" fill="#c07774" opacity="0.5"/>
<circle cx="158.52" cy="47.27" r="0.81" fill="#c07774" opacity="0.5"/>
<circle cx="147.4" cy="51.12" r="0.74" fill="#edb3b0" opacity="0.5"/>
<circle cx="142.19" cy="47.6" r="0.46" fill="#c07774" opacity="0.5"/>
<circle cx="166.97" cy="44.16" r="0.85" fill="#c07774" opacity="0.5"/>
<circle cx="161.13" cy="44.85" r="0.62" fill="#a96461" opacity="0.5"/>
<circle cx="123.02" cy="38.58" r="0.61" fill="#edb3b0" opacity="0.5"/>
<circle cx="108.48" cy="47.37" r="0.66" fill="#b56e6b" opacity="0.5"/>
<circle cx="141.17" cy="41.57" r="0.66" fill="#a96461" opacity="0.5"/>
<circle cx="141.27" cy="52.94" r="0.74" fill="#f7d2cf" opacity="0.5"/>
<circle cx="158.36" cy="47.62" r="0.44" fill="#c07774" opacity="0.5"/>
<circle cx="171.62" cy="50.51" r="0.83" fill="#c07774" opacity="0.5"/>
<circle cx="122.06" cy="51.47" r="0.55" fill="#c07774" opacity="0.5"/>
<circle cx="111.23" cy="34.81" r="0.7" fill="#c07774" opacity="0.5"/>
<circle cx="131.59" cy="45.52" r="0.56" fill="#c07774" opacity="0.5"/>
<circle cx="123.67" cy="46.51" r="0.62" fill="#b56e6b" opacity="0.5"/>
<circle cx="173.5" cy="40.85" r="0.55" fill="#c07774" opacity="0.5"/>
<circle cx="114.92" cy="31.98" r="0.69" fill="#b56e6b" opacity="0.5"/>
<circle cx="146.45" cy="47.32" r="0.67" fill="#c07774" opacity="0.5"/>
<circle cx="136.74" cy="40.05" r="0.43" fill="#edb3b0" opacity="0.5"/>
<circle cx="164.63" cy="45.54" r="0.35" fill="#a96461" opacity="0.5"/>
<circle cx="125.99" cy="48.37" r="0.63" fill="#a96461" opacity="0.5"/>
<circle cx="146.53" cy="31.41" r="0.73" fill="#b56e6b" opacity="0.5"/>
<circle cx="126.93" cy="48.87" r="0.42" fill="#f7d2cf" opacity="0.5"/>
<circle cx="177.42" cy="53.19" r="0.46" fill="#a96461" opacity="0.5"/>
<circle cx="112.47" cy="35.07" r="0.44" fill="#b56e6b" opacity="0.5"/>
<circle cx="130.82" cy="33.23" r="0.39" fill="#f7d2cf" opacity="0.5"/>
<circle cx="154.3" cy="38.81" r="0.56" fill="#a96461" opacity="0.5"/>
<circle cx="115.96" cy="41.48" r="0.52" fill="#b56e6b" opacity="0.5"/>
<circle cx="150.62" cy="46.14" r="0.5" fill="#f7d2cf" opacity="0.5"/>
<circle cx="157.89" cy="50.75" r="0.81" fill="#c07774" opacity="0.5"/>
<circle cx="131.53" cy="45.81" r="0.41" fill="#a96461" opacity="0.5"/>
<circle cx="123.07" cy="52.75" r="0.43" fill="#a96461" opacity="0.5"/>
<circle cx="136.86" cy="35.02" r="0.61" fill="#c07774" opacity="0.5"/>
<circle cx="125.08" cy="41.88" r="0.66" fill="#b56e6b" opacity="0.5"/>
<circle cx="176.31" cy="46.25" r="0.49" fill="#b56e6b" opacity="0.5"/>
<circle cx="128.02" cy="45.69" r="0.82" fill="#a96461" opacity="0.5"/>
<circle cx="161.02" cy="34.67" r="0.5" fill="#f7d2cf" opacity="0.5"/>
<circle cx="170.32" cy="44.01" r="0.53" fill="#edb3b0" opacity="0.5"/>
<circle cx="138.83" cy="47.81" r="0.84" fill="#b56e6b" opacity="0.5"/>
<circle cx="162.88" cy="46.76" r="0.69" fill="#b56e6b" opacity="0.5"/>
<circle cx="136.44" cy="48.08" r="0.79" fill="#a96461" opacity="0.5"/>
<circle cx="167.55" cy="46.94" r="0.53" fill="#edb3b0" opacity="0.5"/>
<circle cx="111.8" cy="37.54" r="0.77" fill="#edb3b0" opacity="0.5"/>
<circle cx="165.77" cy="53.41" r="0.41" fill="#c07774" opacity="0.5"/>
<circle cx="160.89" cy="40.54" r="0.51" fill="#c07774" opacity="0.5"/>
<circle cx="157.33" cy="41.45" r="0.45" fill="#edb3b0" opacity="0.5"/>
<circle cx="123.17" cy="45.65" r="0.63" fill="#f7d2cf" opacity="0.5"/>
<circle cx="107.85" cy="48.36" r="0.61" fill="#b56e6b" opacity="0.5"/>
<circle cx="164.24" cy="49.95" r="0.52" fill="#edb3b0" opacity="0.5"/>
<circle cx="110.33" cy="42.73" r="0.45" fill="#f7d2cf" opacity="0.5"/>
<circle cx="168.3" cy="31.79" r="0.7" fill="#a96461" opacity="0.5"/>
<circle cx="129.8" cy="48.86" r="0.4" fill="#c07774" opacity="0.5"/>
<circle cx="144.2" cy="34.15" r="0.61" fill="#c07774" opacity="0.5"/>
<circle cx="153.43" cy="45.82" r="0.77" fill="#f7d2cf" opacity="0.5"/>
<circle cx="143.18" cy="44.79" r="0.6" fill="#edb3b0" opacity="0.5"/>
<circle cx="130.9" cy="50.85" r="0.37" fill="#f7d2cf" opacity="0.5"/>
<circle cx="109.74" cy="42.72" r="0.55" fill="#f7d2cf" opacity="0.5"/>
<circle cx="115.44" cy="45.41" r="0.64" fill="#c07774" opacity="0.5"/>
<circle cx="168.35" cy="34.63" r="0.85" fill="#edb3b0" opacity="0.5"/>
<circle cx="145.66" cy="53.68" r="0.58" fill="#c07774" opacity="0.5"/>
<circle cx="157.96" cy="35.24" r="0.77" fill="#f7d2cf" opacity="0.5"/>
<circle cx="136.82" cy="42.96" r="0.71" fill="#f7d2cf" opacity="0.5"/>
<circle cx="135.05" cy="34.85" r="0.5" fill="#b56e6b" opacity="0.5"/>
<circle cx="126.27" cy="36.58" r="0.64" fill="#b56e6b" opacity="0.5"/>
<circle cx="140.89" cy="52.47" r="0.41" fill="#c07774" opacity="0.5"/>
<circle cx="145" cy="44.97" r="0.43" fill="#f7d2cf" opacity="0.5"/>
<circle cx="117.73" cy="30.73" r="0.56" fill="#f7d2cf" opacity="0.5"/>
<circle cx="166.03" cy="50.19" r="0.72" fill="#f7d2cf" opacity="0.5"/>
<circle cx="114.23" cy="45.18" r="0.78" fill="#f7d2cf" opacity="0.5"/>
<circle cx="174.06" cy="47.12" r="0.62" fill="#a96461" opacity="0.5"/>
<circle cx="171.59" cy="32.55" r="0.63" fill="#c07774" opacity="0.5"/>
<circle cx="126.1" cy="50.35" r="0.5" fill="#edb3b0" opacity="0.5"/>
<circle cx="172.38" cy="52.32" r="0.59" fill="#b56e6b" opacity="0.5"/>
<circle cx="169.09" cy="34.3" r="0.63" fill="#a96461" opacity="0.5"/>
<circle cx="126.87" cy="40.39" r="0.62" fill="#f7d2cf" opacity="0.5"/>
<circle cx="166.94" cy="34.32" r="0.58" fill="#f7d2cf" opacity="0.5"/>
<circle cx="117.84" cy="48.94" r="0.78" fill="#edb3b0" opacity="0.5"/>
<circle cx="165.6" cy="32.07" r="0.39" fill="#a96461" opacity="0.5"/>
<circle cx="152.37" cy="48.32" r="0.53" fill="#f7d2cf" opacity="0.5"/>
<circle cx="131.65" cy="50.34" r="0.55" fill="#b56e6b" opacity="0.5"/>
<circle cx="117.35" cy="37.7" r="0.46" fill="#b56e6b" opacity="0.5"/>
<circle cx="113.66" cy="45.67" r="0.44" fill="#edb3b0" opacity="0.5"/>
<circle cx="163.06" cy="53.01" r="0.38" fill="#f7d2cf" opacity="0.5"/>
<circle cx="110.36" cy="54.5" r="0.42" fill="#a96461" opacity="0.5"/>
<circle cx="109.98" cy="56.37" r="0.72" fill="#c07774" opacity="0.5"/>
<circle cx="138.03" cy="50.86" r="0.37" fill="#f7d2cf" opacity="0.5"/>
<circle cx="139.22" cy="49.77" r="0.71" fill="#f7d2cf" opacity="0.5"/>
<circle cx="145.69" cy="44.81" r="0.8" fill="#b56e6b" opacity="0.5"/>
<circle cx="167.87" cy="42.79" r="0.83" fill="#c07774" opacity="0.5"/>
<circle cx="167.5" cy="45.42" r="0.5" fill="#c07774" opacity="0.5"/>
<circle cx="167.16" cy="36.81" r="0.6" fill="#c07774" opacity="0.5"/>
<ellipse cx="134.5" cy="55.8" rx="8.26" ry="2.0" fill="#7a3c3a" opacity="0.55"/>
<ellipse cx="160.3" cy="55.2" rx="8.26" ry="2.0" fill="#7a3c3a" opacity="0.55"/>
<circle cx="121.6" cy="53.6" r="4.0" fill="url(#gFp)"/>
<circle cx="121.3" cy="53.3" r="1.8" fill="none" stroke="#7a3c3a" stroke-width="0.6" opacity="0.35"/>
<circle cx="147.4" cy="53.6" r="4.0" fill="url(#gFp)"/>
<circle cx="147.1" cy="53.3" r="1.8" fill="none" stroke="#7a3c3a" stroke-width="0.6" opacity="0.35"/>
<circle cx="173.2" cy="52.4" r="4.0" fill="url(#gFp)"/>
<circle cx="172.9" cy="52.1" r="1.8" fill="none" stroke="#7a3c3a" stroke-width="0.6" opacity="0.35"/>
<polygon points="109.31,86.18 170.22,85.97 180.69,109.25 99.28,112.66" fill="#d9a67d" stroke="#d9a67d" stroke-width="2" stroke-linejoin="round"/>
<polyline points="99.2,114.53 103.28,114.35 107.36,114.17 111.44,113.99 115.52,113.82 119.6,113.64 123.68,113.46 127.76,113.28 131.84,113.11 135.92,112.93 140,112.75 144.08,112.57 148.16,112.39 152.24,112.22 156.32,112.04 160.4,111.86 164.48,111.68 168.56,111.51 172.64,111.33 176.72,111.15 180.8,110.97" fill="none" stroke="#8c6242" stroke-width="3.6" stroke-linecap="round"/>
<ellipse cx="110.22" cy="85.15" rx="4.41" ry="3.44" fill="url(#gO)"/>
<ellipse cx="117.76" cy="84.84" rx="4.64" ry="3.62" fill="url(#gO)"/>
<ellipse cx="126.95" cy="84.89" rx="4.68" ry="3.65" fill="url(#gO)"/>
<ellipse cx="135.78" cy="84.84" rx="4.56" ry="3.56" fill="url(#gO)"/>
<ellipse cx="145.04" cy="85.15" rx="4.79" ry="3.74" fill="url(#gO)"/>
<ellipse cx="153.54" cy="84.97" rx="4.39" ry="3.42" fill="url(#gO)"/>
<ellipse cx="163.12" cy="85.5" rx="4.7" ry="3.67" fill="url(#gO)"/>
<ellipse cx="169.58" cy="85.06" rx="4.8" ry="3.75" fill="url(#gO)"/>
<ellipse cx="109.74" cy="93.51" rx="5.26" ry="4.1" fill="url(#gO)"/>
<ellipse cx="120.53" cy="93.45" rx="4.84" ry="3.77" fill="url(#gO)"/>
<ellipse cx="130.01" cy="93.11" rx="4.98" ry="3.88" fill="url(#gO)"/>
<ellipse cx="140.7" cy="92.94" rx="5.42" ry="4.22" fill="url(#gO)"/>
<ellipse cx="150.82" cy="92.65" rx="5.05" ry="3.94" fill="url(#gO)"/>
<ellipse cx="160.39" cy="92.46" rx="5.08" ry="3.96" fill="url(#gO)"/>
<ellipse cx="170.93" cy="92.37" rx="5.21" ry="4.06" fill="url(#gO)"/>
<ellipse cx="104.3" cy="102.25" rx="5.94" ry="4.63" fill="url(#gO)"/>
<ellipse cx="112.8" cy="101.55" rx="5.3" ry="4.13" fill="url(#gO)"/>
<ellipse cx="124.12" cy="101.24" rx="5.3" ry="4.13" fill="url(#gO)"/>
<ellipse cx="134.98" cy="101.65" rx="5.56" ry="4.34" fill="url(#gO)"/>
<ellipse cx="145.78" cy="101.11" rx="5.3" ry="4.14" fill="url(#gO)"/>
<ellipse cx="156.91" cy="100.42" rx="5.71" ry="4.46" fill="url(#gO)"/>
<ellipse cx="168.28" cy="100" rx="5.67" ry="4.42" fill="url(#gO)"/>
<ellipse cx="175.17" cy="99.87" rx="5.44" ry="4.25" fill="url(#gO)"/>
<ellipse cx="105.78" cy="110.94" rx="5.79" ry="4.52" fill="url(#gO)"/>
<ellipse cx="117.22" cy="110.43" rx="5.89" ry="4.6" fill="url(#gO)"/>
<ellipse cx="128.9" cy="109.23" rx="6" ry="4.68" fill="url(#gO)"/>
<ellipse cx="140.77" cy="109.2" rx="6.36" ry="4.96" fill="url(#gO)"/>
<ellipse cx="151.86" cy="108.54" rx="6.43" ry="5.02" fill="url(#gO)"/>
<ellipse cx="164.25" cy="108.16" rx="6.03" ry="4.71" fill="url(#gO)"/>
<ellipse cx="176.52" cy="107.79" rx="5.7" ry="4.45" fill="url(#gO)"/>
<circle cx="160.96" cy="93.22" r="0.41" fill="#f0c9a3" opacity="0.5"/>
<circle cx="120.53" cy="92.21" r="0.5" fill="#fbe3c8" opacity="0.5"/>
<circle cx="123.83" cy="99.28" r="0.36" fill="#fbe3c8" opacity="0.5"/>
<circle cx="162.65" cy="106.13" r="0.52" fill="#f0c9a3" opacity="0.5"/>
<circle cx="160.91" cy="99.64" r="0.56" fill="#fbe3c8" opacity="0.5"/>
<circle cx="117.33" cy="112.31" r="0.6" fill="#f0c9a3" opacity="0.5"/>
<circle cx="174.33" cy="99.12" r="0.68" fill="#b98a63" opacity="0.5"/>
<circle cx="113.11" cy="109" r="0.36" fill="#a67852" opacity="0.5"/>
<circle cx="175.51" cy="105.71" r="0.82" fill="#a67852" opacity="0.5"/>
<circle cx="177.11" cy="100.26" r="0.37" fill="#fbe3c8" opacity="0.5"/>
<circle cx="135.96" cy="106.53" r="0.66" fill="#a67852" opacity="0.5"/>
<circle cx="173.01" cy="93.7" r="0.59" fill="#b98a63" opacity="0.5"/>
<circle cx="121.28" cy="112.07" r="0.5" fill="#aa7c55" opacity="0.5"/>
<circle cx="112.14" cy="96.73" r="0.7" fill="#b98a63" opacity="0.5"/>
<circle cx="158.8" cy="94.73" r="0.68" fill="#b98a63" opacity="0.5"/>
<circle cx="122.66" cy="101.59" r="0.6" fill="#aa7c55" opacity="0.5"/>
<circle cx="113.9" cy="85.83" r="0.41" fill="#aa7c55" opacity="0.5"/>
<circle cx="164.17" cy="106.42" r="0.74" fill="#b98a63" opacity="0.5"/>
<circle cx="122.05" cy="84.78" r="0.59" fill="#b98a63" opacity="0.5"/>
<circle cx="146.77" cy="99.46" r="0.44" fill="#fbe3c8" opacity="0.5"/>
<circle cx="138.48" cy="110.92" r="0.38" fill="#aa7c55" opacity="0.5"/>
<circle cx="151.37" cy="100.31" r="0.79" fill="#aa7c55" opacity="0.5"/>
<circle cx="143.2" cy="98.95" r="0.67" fill="#aa7c55" opacity="0.5"/>
<circle cx="164.36" cy="107.96" r="0.62" fill="#aa7c55" opacity="0.5"/>
<circle cx="124.14" cy="105.2" r="0.4" fill="#b98a63" opacity="0.5"/>
<circle cx="154.48" cy="96.74" r="0.79" fill="#f0c9a3" opacity="0.5"/>
<circle cx="157.69" cy="102.8" r="0.54" fill="#fbe3c8" opacity="0.5"/>
<circle cx="165.74" cy="90.54" r="0.66" fill="#aa7c55" opacity="0.5"/>
<circle cx="163.92" cy="85.36" r="0.39" fill="#aa7c55" opacity="0.5"/>
<circle cx="107.09" cy="96.54" r="0.38" fill="#aa7c55" opacity="0.5"/>
<circle cx="116.09" cy="102.1" r="0.39" fill="#b98a63" opacity="0.5"/>
<circle cx="103.74" cy="102.94" r="0.62" fill="#aa7c55" opacity="0.5"/>
<circle cx="101.94" cy="107.44" r="0.39" fill="#a67852" opacity="0.5"/>
<circle cx="126.75" cy="97.67" r="0.65" fill="#f0c9a3" opacity="0.5"/>
<circle cx="180.35" cy="110.23" r="0.4" fill="#b98a63" opacity="0.5"/>
<circle cx="129.45" cy="90.99" r="0.45" fill="#b98a63" opacity="0.5"/>
<circle cx="121.41" cy="87.61" r="0.39" fill="#fbe3c8" opacity="0.5"/>
<circle cx="149.26" cy="86.66" r="0.72" fill="#fbe3c8" opacity="0.5"/>
<circle cx="137.45" cy="99.05" r="0.79" fill="#a67852" opacity="0.5"/>
<circle cx="113.1" cy="84.56" r="0.69" fill="#aa7c55" opacity="0.5"/>
<circle cx="106.41" cy="91.93" r="0.36" fill="#aa7c55" opacity="0.5"/>
<circle cx="107.93" cy="107.93" r="0.8" fill="#fbe3c8" opacity="0.5"/>
<circle cx="138.11" cy="93.24" r="0.67" fill="#b98a63" opacity="0.5"/>
<circle cx="151.8" cy="88.01" r="0.75" fill="#fbe3c8" opacity="0.5"/>
<circle cx="178.18" cy="104.99" r="0.82" fill="#f0c9a3" opacity="0.5"/>
<circle cx="171.34" cy="108.83" r="0.36" fill="#fbe3c8" opacity="0.5"/>
<circle cx="135.46" cy="96.14" r="0.6" fill="#a67852" opacity="0.5"/>
<circle cx="127.49" cy="108.27" r="0.57" fill="#f0c9a3" opacity="0.5"/>
<circle cx="110.34" cy="93.28" r="0.66" fill="#f0c9a3" opacity="0.5"/>
<circle cx="144.85" cy="96.58" r="0.51" fill="#b98a63" opacity="0.5"/>
<circle cx="110.89" cy="87.12" r="0.62" fill="#a67852" opacity="0.5"/>
<circle cx="115.39" cy="105.11" r="0.82" fill="#b98a63" opacity="0.5"/>
<circle cx="105.02" cy="113.14" r="0.65" fill="#aa7c55" opacity="0.5"/>
<circle cx="174.24" cy="102.04" r="0.46" fill="#f0c9a3" opacity="0.5"/>
<circle cx="142.8" cy="93.72" r="0.68" fill="#fbe3c8" opacity="0.5"/>
<circle cx="134.46" cy="90.82" r="0.73" fill="#a67852" opacity="0.5"/>
<circle cx="162.1" cy="97.88" r="0.71" fill="#f0c9a3" opacity="0.5"/>
<circle cx="123.74" cy="99.74" r="0.46" fill="#fbe3c8" opacity="0.5"/>
<circle cx="173.78" cy="92.63" r="0.42" fill="#fbe3c8" opacity="0.5"/>
<circle cx="117.7" cy="87.2" r="0.67" fill="#f0c9a3" opacity="0.5"/>
<circle cx="131.34" cy="109.58" r="0.78" fill="#aa7c55" opacity="0.5"/>
<circle cx="140.46" cy="94.38" r="0.45" fill="#a67852" opacity="0.5"/>
<circle cx="171.31" cy="99.39" r="0.74" fill="#aa7c55" opacity="0.5"/>
<circle cx="118.17" cy="89.4" r="0.69" fill="#a67852" opacity="0.5"/>
<circle cx="104.46" cy="98.63" r="0.8" fill="#f0c9a3" opacity="0.5"/>
<circle cx="157.48" cy="91.77" r="0.61" fill="#b98a63" opacity="0.5"/>
<circle cx="138.2" cy="112.26" r="0.52" fill="#b98a63" opacity="0.5"/>
<circle cx="157.45" cy="93.8" r="0.38" fill="#aa7c55" opacity="0.5"/>
<circle cx="124.14" cy="94.31" r="0.44" fill="#aa7c55" opacity="0.5"/>
<circle cx="161.61" cy="102.41" r="0.58" fill="#fbe3c8" opacity="0.5"/>
<circle cx="127.26" cy="105.74" r="0.8" fill="#b98a63" opacity="0.5"/>
<circle cx="120.57" cy="90.28" r="0.56" fill="#aa7c55" opacity="0.5"/>
<circle cx="169.46" cy="111.04" r="0.6" fill="#a67852" opacity="0.5"/>
<circle cx="104.44" cy="108.3" r="0.79" fill="#f0c9a3" opacity="0.5"/>
<circle cx="134.98" cy="104.88" r="0.63" fill="#b98a63" opacity="0.5"/>
<circle cx="175.19" cy="109.86" r="0.8" fill="#fbe3c8" opacity="0.5"/>
<circle cx="123.31" cy="91.53" r="0.83" fill="#f0c9a3" opacity="0.5"/>
<circle cx="116.38" cy="99.86" r="0.52" fill="#aa7c55" opacity="0.5"/>
<circle cx="116.46" cy="113.31" r="0.38" fill="#fbe3c8" opacity="0.5"/>
<circle cx="166.79" cy="99.88" r="0.68" fill="#b98a63" opacity="0.5"/>
<circle cx="127.24" cy="104.59" r="0.5" fill="#a67852" opacity="0.5"/>
<circle cx="106.34" cy="96.44" r="0.58" fill="#b98a63" opacity="0.5"/>
<circle cx="169.68" cy="85.5" r="0.77" fill="#b98a63" opacity="0.5"/>
<circle cx="170.11" cy="103.26" r="0.81" fill="#aa7c55" opacity="0.5"/>
<circle cx="130.48" cy="105.89" r="0.43" fill="#aa7c55" opacity="0.5"/>
<circle cx="129.83" cy="111.67" r="0.42" fill="#f0c9a3" opacity="0.5"/>
<circle cx="133.26" cy="105.55" r="0.4" fill="#aa7c55" opacity="0.5"/>
<circle cx="174.56" cy="98.05" r="0.54" fill="#a67852" opacity="0.5"/>
<circle cx="162.21" cy="107.3" r="0.36" fill="#aa7c55" opacity="0.5"/>
<circle cx="120.19" cy="86.11" r="0.58" fill="#aa7c55" opacity="0.5"/>
<circle cx="168.14" cy="87.12" r="0.45" fill="#fbe3c8" opacity="0.5"/>
<circle cx="155.04" cy="91.31" r="0.46" fill="#a67852" opacity="0.5"/>
<circle cx="115.07" cy="102.94" r="0.54" fill="#a67852" opacity="0.5"/>
<circle cx="149.59" cy="93.27" r="0.63" fill="#b98a63" opacity="0.5"/>
<circle cx="102.54" cy="106.43" r="0.39" fill="#b98a63" opacity="0.5"/>
<circle cx="119.83" cy="91.9" r="0.53" fill="#f0c9a3" opacity="0.5"/>
<circle cx="144.46" cy="103.97" r="0.4" fill="#fbe3c8" opacity="0.5"/>
<circle cx="133.19" cy="96.46" r="0.38" fill="#b98a63" opacity="0.5"/>
<circle cx="145.27" cy="98.47" r="0.53" fill="#f0c9a3" opacity="0.5"/>
<circle cx="153.42" cy="108.93" r="0.71" fill="#a67852" opacity="0.5"/>
<circle cx="140.98" cy="95.8" r="0.84" fill="#b98a63" opacity="0.5"/>
<circle cx="126.15" cy="97.5" r="0.57" fill="#a67852" opacity="0.5"/>
<circle cx="174.59" cy="95.5" r="0.38" fill="#fbe3c8" opacity="0.5"/>
<circle cx="128.76" cy="105.12" r="0.56" fill="#b98a63" opacity="0.5"/>
<circle cx="130.18" cy="95.05" r="0.6" fill="#f0c9a3" opacity="0.5"/>
<circle cx="154.68" cy="86.13" r="0.75" fill="#fbe3c8" opacity="0.5"/>
<circle cx="150.35" cy="96" r="0.5" fill="#fbe3c8" opacity="0.5"/>
<circle cx="110.73" cy="92.04" r="0.84" fill="#b98a63" opacity="0.5"/>
<circle cx="178.63" cy="110.14" r="0.65" fill="#b98a63" opacity="0.5"/>
<circle cx="119.61" cy="104.93" r="0.41" fill="#aa7c55" opacity="0.5"/>
<circle cx="145.03" cy="89.96" r="0.4" fill="#aa7c55" opacity="0.5"/>
<circle cx="140.41" cy="103.69" r="0.84" fill="#b98a63" opacity="0.5"/>
<circle cx="108.02" cy="99.88" r="0.42" fill="#a67852" opacity="0.5"/>
<circle cx="160.21" cy="108.46" r="0.5" fill="#b98a63" opacity="0.5"/>
<circle cx="122.84" cy="105.38" r="0.67" fill="#aa7c55" opacity="0.5"/>
<circle cx="125.39" cy="103.9" r="0.38" fill="#f0c9a3" opacity="0.5"/>
<circle cx="142.41" cy="104.14" r="0.39" fill="#fbe3c8" opacity="0.5"/>
<circle cx="160.68" cy="107.13" r="0.39" fill="#a67852" opacity="0.5"/>
<circle cx="138.23" cy="100.87" r="0.65" fill="#aa7c55" opacity="0.5"/>
<circle cx="176.3" cy="97.17" r="0.62" fill="#f0c9a3" opacity="0.5"/>
<circle cx="173.27" cy="99.61" r="0.7" fill="#fbe3c8" opacity="0.5"/>
<circle cx="135.18" cy="100.84" r="0.7" fill="#aa7c55" opacity="0.5"/>
<circle cx="157.59" cy="88.98" r="0.77" fill="#fbe3c8" opacity="0.5"/>
<circle cx="126.42" cy="105.46" r="0.83" fill="#aa7c55" opacity="0.5"/>
<circle cx="174.99" cy="92.86" r="0.43" fill="#b98a63" opacity="0.5"/>
<circle cx="177.61" cy="102.61" r="0.52" fill="#a67852" opacity="0.5"/>
<circle cx="106.36" cy="107.5" r="0.8" fill="#a67852" opacity="0.5"/>
<circle cx="171.6" cy="91.11" r="0.65" fill="#fbe3c8" opacity="0.5"/>
<circle cx="159.82" cy="86.26" r="0.47" fill="#f0c9a3" opacity="0.5"/>
<circle cx="125.11" cy="95.21" r="0.37" fill="#aa7c55" opacity="0.5"/>
<circle cx="116.29" cy="108.54" r="0.64" fill="#fbe3c8" opacity="0.5"/>
<circle cx="106.27" cy="107.21" r="0.35" fill="#a67852" opacity="0.5"/>
<circle cx="171.17" cy="105.01" r="0.72" fill="#f0c9a3" opacity="0.5"/>
<circle cx="117.48" cy="86.94" r="0.41" fill="#fbe3c8" opacity="0.5"/>
<circle cx="163.65" cy="88.63" r="0.48" fill="#a67852" opacity="0.5"/>
<circle cx="116.4" cy="104.6" r="0.6" fill="#b98a63" opacity="0.5"/>
<circle cx="142.55" cy="95.75" r="0.58" fill="#a67852" opacity="0.5"/>
<circle cx="133.45" cy="86.9" r="0.84" fill="#a67852" opacity="0.5"/>
<circle cx="155.12" cy="89.39" r="0.65" fill="#fbe3c8" opacity="0.5"/>
<circle cx="131.19" cy="97.33" r="0.65" fill="#fbe3c8" opacity="0.5"/>
<circle cx="162.01" cy="94.8" r="0.8" fill="#aa7c55" opacity="0.5"/>
<circle cx="128.36" cy="90.71" r="0.53" fill="#b98a63" opacity="0.5"/>
<circle cx="167.88" cy="86.61" r="0.35" fill="#fbe3c8" opacity="0.5"/>
<circle cx="145.37" cy="110.63" r="0.69" fill="#b98a63" opacity="0.5"/>
<circle cx="143.33" cy="102.55" r="0.66" fill="#fbe3c8" opacity="0.5"/>
<circle cx="121.39" cy="101.2" r="0.53" fill="#b98a63" opacity="0.5"/>
<circle cx="125.76" cy="90.33" r="0.43" fill="#aa7c55" opacity="0.5"/>
<circle cx="160.93" cy="87.68" r="0.63" fill="#b98a63" opacity="0.5"/>
<circle cx="159.24" cy="84.87" r="0.65" fill="#b98a63" opacity="0.5"/>
<circle cx="149" cy="95.46" r="0.71" fill="#f0c9a3" opacity="0.5"/>
<circle cx="154.37" cy="100.43" r="0.39" fill="#f0c9a3" opacity="0.5"/>
<circle cx="116.66" cy="87.55" r="0.43" fill="#aa7c55" opacity="0.5"/>
<circle cx="138.22" cy="91.7" r="0.82" fill="#a67852" opacity="0.5"/>
<circle cx="109.35" cy="101.43" r="0.67" fill="#a67852" opacity="0.5"/>
<circle cx="99.89" cy="107.73" r="0.72" fill="#aa7c55" opacity="0.5"/>
<circle cx="141.79" cy="107.97" r="0.45" fill="#a67852" opacity="0.5"/>
<circle cx="153.63" cy="102.57" r="0.77" fill="#b98a63" opacity="0.5"/>
<circle cx="115.3" cy="106.55" r="0.71" fill="#fbe3c8" opacity="0.5"/>
<circle cx="100.67" cy="109.97" r="0.72" fill="#fbe3c8" opacity="0.5"/>
<circle cx="163.54" cy="92.4" r="0.62" fill="#a67852" opacity="0.5"/>
<circle cx="134.58" cy="112.04" r="0.69" fill="#b98a63" opacity="0.5"/>
<circle cx="140.61" cy="86.99" r="0.46" fill="#fbe3c8" opacity="0.5"/>
<circle cx="102.31" cy="109.04" r="0.71" fill="#b98a63" opacity="0.5"/>
<circle cx="152.32" cy="100.59" r="0.74" fill="#fbe3c8" opacity="0.5"/>
<circle cx="143.23" cy="91.82" r="0.42" fill="#a67852" opacity="0.5"/>
<circle cx="103.91" cy="105" r="0.73" fill="#b98a63" opacity="0.5"/>
<circle cx="156.46" cy="109.74" r="0.47" fill="#aa7c55" opacity="0.5"/>
<circle cx="109.11" cy="85.97" r="0.7" fill="#fbe3c8" opacity="0.5"/>
<circle cx="129.94" cy="86.47" r="0.85" fill="#b98a63" opacity="0.5"/>
<circle cx="151.68" cy="99.86" r="0.62" fill="#f0c9a3" opacity="0.5"/>
<circle cx="125.51" cy="105.26" r="0.65" fill="#f0c9a3" opacity="0.5"/>
<circle cx="119.58" cy="98.02" r="0.57" fill="#a67852" opacity="0.5"/>
<circle cx="137.84" cy="90.23" r="0.43" fill="#f0c9a3" opacity="0.5"/>
<circle cx="112.16" cy="95.39" r="0.52" fill="#b98a63" opacity="0.5"/>
<circle cx="149.49" cy="102.83" r="0.38" fill="#b98a63" opacity="0.5"/>
<circle cx="128.81" cy="111.89" r="0.77" fill="#aa7c55" opacity="0.5"/>
<circle cx="113.38" cy="92.5" r="0.46" fill="#f0c9a3" opacity="0.5"/>
<circle cx="160.4" cy="95.08" r="0.67" fill="#a67852" opacity="0.5"/>
<circle cx="164.45" cy="98.14" r="0.53" fill="#a67852" opacity="0.5"/>
<circle cx="115.17" cy="109.91" r="0.52" fill="#fbe3c8" opacity="0.5"/>
<circle cx="172.7" cy="108.89" r="0.84" fill="#f0c9a3" opacity="0.5"/>
<circle cx="133.76" cy="94.64" r="0.68" fill="#aa7c55" opacity="0.5"/>
<circle cx="156.32" cy="89.33" r="0.48" fill="#f0c9a3" opacity="0.5"/>
<circle cx="177" cy="104.77" r="0.47" fill="#f0c9a3" opacity="0.5"/>
<circle cx="120.74" cy="110.66" r="0.38" fill="#f0c9a3" opacity="0.5"/>
<circle cx="134.82" cy="93.55" r="0.41" fill="#f0c9a3" opacity="0.5"/>
<circle cx="148.63" cy="109.85" r="0.52" fill="#a67852" opacity="0.5"/>
<circle cx="104.43" cy="98.49" r="0.56" fill="#b98a63" opacity="0.5"/>
<circle cx="107.7" cy="95.2" r="0.53" fill="#f0c9a3" opacity="0.5"/>
<circle cx="144.26" cy="104.76" r="0.52" fill="#f0c9a3" opacity="0.5"/>
<circle cx="168.69" cy="84.81" r="0.47" fill="#b98a63" opacity="0.5"/>
<circle cx="179.24" cy="110.55" r="0.65" fill="#f0c9a3" opacity="0.5"/>
<circle cx="108.14" cy="96.86" r="0.83" fill="#b98a63" opacity="0.5"/>
<circle cx="130.41" cy="95.35" r="0.77" fill="#aa7c55" opacity="0.5"/>
<circle cx="164.68" cy="87.44" r="0.38" fill="#a67852" opacity="0.5"/>
<circle cx="146.39" cy="92.93" r="0.82" fill="#aa7c55" opacity="0.5"/>
<circle cx="131.53" cy="98.75" r="0.57" fill="#a67852" opacity="0.5"/>
<circle cx="130.64" cy="94.11" r="0.39" fill="#fbe3c8" opacity="0.5"/>
<circle cx="107.55" cy="97.61" r="0.8" fill="#b98a63" opacity="0.5"/>
<circle cx="159.18" cy="90.35" r="0.82" fill="#b98a63" opacity="0.5"/>
<circle cx="153.38" cy="100.05" r="0.8" fill="#aa7c55" opacity="0.5"/>
<circle cx="129.68" cy="86.07" r="0.41" fill="#a67852" opacity="0.5"/>
<circle cx="116.04" cy="84.77" r="0.6" fill="#b98a63" opacity="0.5"/>
<circle cx="160.15" cy="102.27" r="0.46" fill="#f0c9a3" opacity="0.5"/>
<circle cx="103.96" cy="109.96" r="0.38" fill="#f0c9a3" opacity="0.5"/>
<circle cx="163.06" cy="105.38" r="0.75" fill="#aa7c55" opacity="0.5"/>
<circle cx="120.32" cy="94.92" r="0.73" fill="#a67852" opacity="0.5"/>
<circle cx="107.92" cy="93.96" r="0.68" fill="#fbe3c8" opacity="0.5"/>
<circle cx="148.46" cy="84.48" r="0.4" fill="#fbe3c8" opacity="0.5"/>
<circle cx="125.24" cy="103.29" r="0.74" fill="#fbe3c8" opacity="0.5"/>
<circle cx="179.33" cy="103.82" r="0.58" fill="#a67852" opacity="0.5"/>
<circle cx="178.9" cy="106.7" r="0.47" fill="#f0c9a3" opacity="0.5"/>
<circle cx="140.97" cy="100.09" r="0.62" fill="#fbe3c8" opacity="0.5"/>
<circle cx="153.96" cy="85.78" r="0.76" fill="#aa7c55" opacity="0.5"/>
<circle cx="107.82" cy="85.85" r="0.39" fill="#a67852" opacity="0.5"/>
<circle cx="110.46" cy="85.94" r="0.82" fill="#b98a63" opacity="0.5"/>
<circle cx="143.33" cy="95.33" r="0.64" fill="#b98a63" opacity="0.5"/>
<circle cx="120.1" cy="112.94" r="0.84" fill="#aa7c55" opacity="0.5"/>
<circle cx="154.94" cy="90.9" r="0.47" fill="#b98a63" opacity="0.5"/>
<circle cx="136.1" cy="105.88" r="0.81" fill="#fbe3c8" opacity="0.5"/>
<circle cx="168.92" cy="97.58" r="0.39" fill="#f0c9a3" opacity="0.5"/>
<circle cx="125.87" cy="85.15" r="0.39" fill="#fbe3c8" opacity="0.5"/>
<circle cx="121.11" cy="100.54" r="0.47" fill="#f0c9a3" opacity="0.5"/>
<circle cx="159.73" cy="108.3" r="0.66" fill="#fbe3c8" opacity="0.5"/>
<circle cx="112.44" cy="95.45" r="0.41" fill="#b98a63" opacity="0.5"/>
<circle cx="158.3" cy="104.85" r="0.38" fill="#b98a63" opacity="0.5"/>
<circle cx="119.22" cy="107.72" r="0.78" fill="#fbe3c8" opacity="0.5"/>
<circle cx="108.54" cy="98.32" r="0.8" fill="#aa7c55" opacity="0.5"/>
<circle cx="119.56" cy="94.54" r="0.52" fill="#a67852" opacity="0.5"/>
<circle cx="139.56" cy="110.62" r="0.83" fill="#a67852" opacity="0.5"/>
<circle cx="105.22" cy="113.86" r="0.69" fill="#a67852" opacity="0.5"/>
<circle cx="163.99" cy="92.42" r="0.42" fill="#aa7c55" opacity="0.5"/>
<circle cx="114.57" cy="97.69" r="0.64" fill="#a67852" opacity="0.5"/>
<circle cx="112.42" cy="105.43" r="0.59" fill="#a67852" opacity="0.5"/>
<circle cx="114.17" cy="100.11" r="0.73" fill="#f0c9a3" opacity="0.5"/>
<circle cx="134.42" cy="101.59" r="0.76" fill="#b98a63" opacity="0.5"/>
<circle cx="140.76" cy="87.24" r="0.73" fill="#fbe3c8" opacity="0.5"/>
<circle cx="137.06" cy="85.39" r="0.83" fill="#aa7c55" opacity="0.5"/>
<circle cx="125.88" cy="102.3" r="0.39" fill="#b98a63" opacity="0.5"/>
<circle cx="170.14" cy="85.6" r="0.7" fill="#f0c9a3" opacity="0.5"/>
<circle cx="152.68" cy="96.3" r="0.54" fill="#aa7c55" opacity="0.5"/>
<circle cx="172.06" cy="103.15" r="0.83" fill="#aa7c55" opacity="0.5"/>
<circle cx="151.03" cy="105.69" r="0.7" fill="#aa7c55" opacity="0.5"/>
<circle cx="112.4" cy="99.85" r="0.79" fill="#f0c9a3" opacity="0.5"/>
<circle cx="113.4" cy="99.78" r="0.37" fill="#f0c9a3" opacity="0.5"/>
<circle cx="175.54" cy="108.21" r="0.67" fill="#b98a63" opacity="0.5"/>
<circle cx="111.29" cy="110.3" r="0.75" fill="#f0c9a3" opacity="0.5"/>
<circle cx="115.4" cy="92.34" r="0.61" fill="#aa7c55" opacity="0.5"/>
<circle cx="140.76" cy="96.3" r="0.77" fill="#b98a63" opacity="0.5"/>
<circle cx="134.5" cy="96.05" r="0.45" fill="#aa7c55" opacity="0.5"/>
<circle cx="104.53" cy="105.23" r="0.44" fill="#fbe3c8" opacity="0.5"/>
<circle cx="143.93" cy="85.35" r="0.83" fill="#b98a63" opacity="0.5"/>
<circle cx="173.8" cy="106.52" r="0.39" fill="#a67852" opacity="0.5"/>
<circle cx="132.95" cy="93.18" r="0.53" fill="#fbe3c8" opacity="0.5"/>
<circle cx="161.87" cy="103.36" r="0.44" fill="#f0c9a3" opacity="0.5"/>
<circle cx="166.88" cy="89.42" r="0.67" fill="#a67852" opacity="0.5"/>
<circle cx="109.47" cy="108.5" r="0.57" fill="#a67852" opacity="0.5"/>
<circle cx="127.64" cy="101.79" r="0.84" fill="#aa7c55" opacity="0.5"/>
<circle cx="155.8" cy="95.41" r="0.69" fill="#aa7c55" opacity="0.5"/>
<circle cx="116.66" cy="112.41" r="0.49" fill="#a67852" opacity="0.5"/>
<circle cx="171.08" cy="95.49" r="0.72" fill="#aa7c55" opacity="0.5"/>
<circle cx="116.03" cy="97.67" r="0.37" fill="#fbe3c8" opacity="0.5"/>
<circle cx="145.99" cy="100.28" r="0.79" fill="#a67852" opacity="0.5"/>
<circle cx="103.23" cy="101.43" r="0.58" fill="#b98a63" opacity="0.5"/>
<circle cx="141.49" cy="96.59" r="0.57" fill="#fbe3c8" opacity="0.5"/>
<circle cx="160.16" cy="104.78" r="0.58" fill="#aa7c55" opacity="0.5"/>
<circle cx="171.39" cy="87.86" r="0.78" fill="#b98a63" opacity="0.5"/>
<circle cx="177.98" cy="105.41" r="0.64" fill="#aa7c55" opacity="0.5"/>
<circle cx="135.94" cy="112.02" r="0.39" fill="#b98a63" opacity="0.5"/>
<circle cx="166.91" cy="100.25" r="0.55" fill="#f0c9a3" opacity="0.5"/>
<circle cx="149.97" cy="100.79" r="0.6" fill="#aa7c55" opacity="0.5"/>
<circle cx="132.93" cy="97.1" r="0.39" fill="#aa7c55" opacity="0.5"/>
<circle cx="167.84" cy="102.8" r="0.44" fill="#f0c9a3" opacity="0.5"/>
<circle cx="106.27" cy="103.8" r="0.57" fill="#b98a63" opacity="0.5"/>
<circle cx="153.64" cy="103.77" r="0.73" fill="#aa7c55" opacity="0.5"/>
<circle cx="142.7" cy="85.11" r="0.44" fill="#a67852" opacity="0.5"/>
<circle cx="132.45" cy="91.08" r="0.4" fill="#aa7c55" opacity="0.5"/>
<circle cx="171.76" cy="102.04" r="0.57" fill="#fbe3c8" opacity="0.5"/>
<circle cx="152.14" cy="99.16" r="0.55" fill="#f0c9a3" opacity="0.5"/>
<circle cx="134.7" cy="100.52" r="0.52" fill="#b98a63" opacity="0.5"/>
<circle cx="125.51" cy="84.7" r="0.57" fill="#aa7c55" opacity="0.5"/>
<circle cx="108.87" cy="107.4" r="0.54" fill="#b98a63" opacity="0.5"/>
<circle cx="118.67" cy="96.6" r="0.61" fill="#aa7c55" opacity="0.5"/>
<circle cx="140.7" cy="89.87" r="0.83" fill="#a67852" opacity="0.5"/>
<circle cx="155.75" cy="106.43" r="0.38" fill="#aa7c55" opacity="0.5"/>
<circle cx="138.94" cy="103.6" r="0.68" fill="#a67852" opacity="0.5"/>
<circle cx="110.32" cy="96.91" r="0.37" fill="#b98a63" opacity="0.5"/>
<circle cx="167.5" cy="100.67" r="0.51" fill="#fbe3c8" opacity="0.5"/>
<circle cx="144.17" cy="85.26" r="0.55" fill="#b98a63" opacity="0.5"/>
<circle cx="151.01" cy="86.17" r="0.79" fill="#f0c9a3" opacity="0.5"/>
<circle cx="140.43" cy="91.68" r="0.77" fill="#fbe3c8" opacity="0.5"/>
<circle cx="162.69" cy="102.33" r="0.68" fill="#f0c9a3" opacity="0.5"/>
<circle cx="119.3" cy="106.02" r="0.79" fill="#aa7c55" opacity="0.5"/>
<circle cx="124.28" cy="105.49" r="0.68" fill="#fbe3c8" opacity="0.5"/>
<circle cx="154.43" cy="109.15" r="0.6" fill="#f0c9a3" opacity="0.5"/>
<circle cx="131.81" cy="100.95" r="0.78" fill="#b98a63" opacity="0.5"/>
<circle cx="121.65" cy="93.11" r="0.71" fill="#f0c9a3" opacity="0.5"/>
<circle cx="137.76" cy="100.83" r="0.65" fill="#aa7c55" opacity="0.5"/>
<circle cx="131.91" cy="88.71" r="0.61" fill="#aa7c55" opacity="0.5"/>
<circle cx="154.46" cy="85.31" r="0.81" fill="#fbe3c8" opacity="0.5"/>
<circle cx="137.81" cy="102.04" r="0.76" fill="#fbe3c8" opacity="0.5"/>
<circle cx="174.29" cy="110.5" r="0.47" fill="#a67852" opacity="0.5"/>
<circle cx="144.21" cy="88" r="0.76" fill="#aa7c55" opacity="0.5"/>
<circle cx="105.37" cy="93.5" r="0.54" fill="#fbe3c8" opacity="0.5"/>
<circle cx="133.7" cy="109.84" r="0.69" fill="#b98a63" opacity="0.5"/>
<circle cx="170.7" cy="91.36" r="0.76" fill="#a67852" opacity="0.5"/>
<circle cx="170.47" cy="101.56" r="0.82" fill="#fbe3c8" opacity="0.5"/>
<circle cx="144.46" cy="104.99" r="0.47" fill="#a67852" opacity="0.5"/>
<circle cx="106.99" cy="97.75" r="0.81" fill="#b98a63" opacity="0.5"/>
<circle cx="176.02" cy="104.07" r="0.66" fill="#a67852" opacity="0.5"/>
<circle cx="139.45" cy="105.2" r="0.55" fill="#aa7c55" opacity="0.5"/>
<circle cx="164.65" cy="87.89" r="0.53" fill="#f0c9a3" opacity="0.5"/>
<circle cx="155.54" cy="93.13" r="0.39" fill="#b98a63" opacity="0.5"/>
<circle cx="175.38" cy="93.79" r="0.4" fill="#f0c9a3" opacity="0.5"/>
<circle cx="110.78" cy="96.6" r="0.73" fill="#aa7c55" opacity="0.5"/>
<circle cx="131.98" cy="91.65" r="0.8" fill="#aa7c55" opacity="0.5"/>
<circle cx="109.51" cy="107.23" r="0.38" fill="#f0c9a3" opacity="0.5"/>
<circle cx="106.91" cy="107.31" r="0.84" fill="#f0c9a3" opacity="0.5"/>
<circle cx="161.04" cy="99.19" r="0.77" fill="#aa7c55" opacity="0.5"/>
<circle cx="173.15" cy="94.97" r="0.64" fill="#a67852" opacity="0.5"/>
<circle cx="162.74" cy="89.05" r="0.76" fill="#b98a63" opacity="0.5"/>
<circle cx="137.72" cy="103.86" r="0.4" fill="#b98a63" opacity="0.5"/>
<circle cx="130.14" cy="102.71" r="0.64" fill="#a67852" opacity="0.5"/>
<circle cx="156.1" cy="107.08" r="0.64" fill="#b98a63" opacity="0.5"/>
<circle cx="114.44" cy="94.37" r="0.43" fill="#f0c9a3" opacity="0.5"/>
<circle cx="161.52" cy="106.82" r="0.39" fill="#aa7c55" opacity="0.5"/>
<circle cx="175.51" cy="95.38" r="0.54" fill="#f0c9a3" opacity="0.5"/>
<circle cx="174.92" cy="104.43" r="0.69" fill="#fbe3c8" opacity="0.5"/>
<circle cx="131.73" cy="106" r="0.58" fill="#a67852" opacity="0.5"/>
<circle cx="108.4" cy="100.52" r="0.43" fill="#a67852" opacity="0.5"/>
<circle cx="147.71" cy="91.82" r="0.41" fill="#fbe3c8" opacity="0.5"/>
<circle cx="157.2" cy="86.79" r="0.45" fill="#b98a63" opacity="0.5"/>
<circle cx="128.37" cy="90.02" r="0.4" fill="#aa7c55" opacity="0.5"/>
<circle cx="155.64" cy="87.56" r="0.69" fill="#f0c9a3" opacity="0.5"/>
<circle cx="158.37" cy="109.36" r="0.82" fill="#b98a63" opacity="0.5"/>
<circle cx="164.97" cy="89.07" r="0.84" fill="#fbe3c8" opacity="0.5"/>
<circle cx="121.53" cy="92.23" r="0.64" fill="#a67852" opacity="0.5"/>
<circle cx="122.37" cy="106.21" r="0.78" fill="#a67852" opacity="0.5"/>
<circle cx="145.42" cy="99.45" r="0.68" fill="#aa7c55" opacity="0.5"/>
<circle cx="147.83" cy="84.88" r="0.52" fill="#f0c9a3" opacity="0.5"/>
<circle cx="148.45" cy="100.01" r="0.43" fill="#aa7c55" opacity="0.5"/>
<circle cx="164.72" cy="88.16" r="0.77" fill="#a67852" opacity="0.5"/>
<circle cx="104.89" cy="100.74" r="0.51" fill="#aa7c55" opacity="0.5"/>
<circle cx="110.97" cy="111.92" r="0.73" fill="#b98a63" opacity="0.5"/>
<circle cx="102.68" cy="107.77" r="0.63" fill="#fbe3c8" opacity="0.5"/>
<circle cx="110.84" cy="91.26" r="0.4" fill="#aa7c55" opacity="0.5"/>
<circle cx="122.24" cy="95.78" r="0.4" fill="#fbe3c8" opacity="0.5"/>
<circle cx="172.99" cy="98.05" r="0.59" fill="#a67852" opacity="0.5"/>
<circle cx="148.6" cy="86.84" r="0.68" fill="#aa7c55" opacity="0.5"/>
<circle cx="160.2" cy="107.73" r="0.54" fill="#aa7c55" opacity="0.5"/>
<circle cx="122.12" cy="87.05" r="0.41" fill="#f0c9a3" opacity="0.5"/>
<circle cx="158.13" cy="108.46" r="0.8" fill="#fbe3c8" opacity="0.5"/>
<circle cx="177.5" cy="109.31" r="0.71" fill="#a67852" opacity="0.5"/>
<circle cx="137.96" cy="105.64" r="0.53" fill="#aa7c55" opacity="0.5"/>
<circle cx="156.16" cy="104.63" r="0.82" fill="#aa7c55" opacity="0.5"/>
<circle cx="154.36" cy="90.24" r="0.39" fill="#a67852" opacity="0.5"/>
<circle cx="124.34" cy="108.56" r="0.53" fill="#aa7c55" opacity="0.5"/>
<circle cx="115.47" cy="100.76" r="0.75" fill="#a67852" opacity="0.5"/>
<circle cx="108.52" cy="96.39" r="0.79" fill="#aa7c55" opacity="0.5"/>
<circle cx="99.9" cy="108.4" r="0.71" fill="#f0c9a3" opacity="0.5"/>
<circle cx="149.38" cy="85.39" r="0.8" fill="#fbe3c8" opacity="0.5"/>
<circle cx="158.8" cy="86.29" r="0.5" fill="#b98a63" opacity="0.5"/>
<circle cx="142.73" cy="98.56" r="0.44" fill="#fbe3c8" opacity="0.5"/>
<circle cx="151.41" cy="99.52" r="0.5" fill="#aa7c55" opacity="0.5"/>
<circle cx="144.97" cy="110.9" r="0.53" fill="#f0c9a3" opacity="0.5"/>
<circle cx="138.27" cy="110.54" r="0.62" fill="#b98a63" opacity="0.5"/>
<circle cx="121.14" cy="99.02" r="0.83" fill="#b98a63" opacity="0.5"/>
<circle cx="114" cy="101.16" r="0.48" fill="#f0c9a3" opacity="0.5"/>
<circle cx="127.36" cy="104.02" r="0.72" fill="#a67852" opacity="0.5"/>
<circle cx="101.31" cy="109.29" r="0.69" fill="#fbe3c8" opacity="0.5"/>
<circle cx="155.74" cy="91.22" r="0.71" fill="#b98a63" opacity="0.5"/>
<circle cx="111.58" cy="84.89" r="0.53" fill="#aa7c55" opacity="0.5"/>
<circle cx="142.69" cy="91.77" r="0.8" fill="#b98a63" opacity="0.5"/>
<circle cx="155.84" cy="97.46" r="0.52" fill="#f0c9a3" opacity="0.5"/>
<circle cx="124.16" cy="94.93" r="0.68" fill="#b98a63" opacity="0.5"/>
<circle cx="132.54" cy="95.32" r="0.52" fill="#a67852" opacity="0.5"/>
<circle cx="165.18" cy="94.07" r="0.59" fill="#a67852" opacity="0.5"/>
<circle cx="125.3" cy="92.99" r="0.77" fill="#b98a63" opacity="0.5"/>
<circle cx="166.35" cy="108.04" r="0.46" fill="#b98a63" opacity="0.5"/>
<circle cx="150.18" cy="100.92" r="0.56" fill="#f0c9a3" opacity="0.5"/>
<circle cx="127.2" cy="86.39" r="0.81" fill="#fbe3c8" opacity="0.5"/>
<circle cx="121.08" cy="89.41" r="0.41" fill="#aa7c55" opacity="0.5"/>
<circle cx="130.12" cy="101.15" r="0.63" fill="#f0c9a3" opacity="0.5"/>
<circle cx="167.21" cy="110.65" r="0.55" fill="#fbe3c8" opacity="0.5"/>
<circle cx="172.53" cy="105.94" r="0.75" fill="#f0c9a3" opacity="0.5"/>
<circle cx="147.47" cy="97.24" r="0.54" fill="#b98a63" opacity="0.5"/>
<circle cx="154.66" cy="97.69" r="0.51" fill="#f0c9a3" opacity="0.5"/>
<circle cx="149.22" cy="111.12" r="0.7" fill="#aa7c55" opacity="0.5"/>
<circle cx="155.35" cy="110.42" r="0.59" fill="#f0c9a3" opacity="0.5"/>
<circle cx="138.42" cy="100.85" r="0.42" fill="#fbe3c8" opacity="0.5"/>
<circle cx="117.18" cy="111.28" r="0.47" fill="#a67852" opacity="0.5"/>
<circle cx="153.82" cy="88.89" r="0.76" fill="#f0c9a3" opacity="0.5"/>
<circle cx="136.96" cy="101.7" r="0.43" fill="#b98a63" opacity="0.5"/>
<circle cx="126.95" cy="89.8" r="0.36" fill="#aa7c55" opacity="0.5"/>
<circle cx="101.85" cy="111.16" r="0.46" fill="#aa7c55" opacity="0.5"/>
<circle cx="137.11" cy="89.06" r="0.61" fill="#f0c9a3" opacity="0.5"/>
<circle cx="167.99" cy="105.6" r="0.4" fill="#f0c9a3" opacity="0.5"/>
<circle cx="115.77" cy="93.95" r="0.79" fill="#b98a63" opacity="0.5"/>
<circle cx="126.85" cy="97.93" r="0.72" fill="#a67852" opacity="0.5"/>
<circle cx="174.51" cy="108.74" r="0.81" fill="#fbe3c8" opacity="0.5"/>
<circle cx="117.61" cy="91.58" r="0.65" fill="#fbe3c8" opacity="0.5"/>
<circle cx="132.5" cy="88.15" r="0.46" fill="#aa7c55" opacity="0.5"/>
<circle cx="106.53" cy="95.48" r="0.68" fill="#a67852" opacity="0.5"/>
<circle cx="147.58" cy="87.3" r="0.63" fill="#fbe3c8" opacity="0.5"/>
<circle cx="131.26" cy="95.06" r="0.82" fill="#a67852" opacity="0.5"/>
<circle cx="137.1" cy="104.37" r="0.77" fill="#b98a63" opacity="0.5"/>
<circle cx="126.24" cy="99.64" r="0.63" fill="#b98a63" opacity="0.5"/>
<circle cx="157.66" cy="110.84" r="0.7" fill="#b98a63" opacity="0.5"/>
<circle cx="120.79" cy="94.54" r="0.6" fill="#aa7c55" opacity="0.5"/>
<circle cx="143.88" cy="105.99" r="0.44" fill="#aa7c55" opacity="0.5"/>
<circle cx="126.98" cy="94.59" r="0.64" fill="#a67852" opacity="0.5"/>
<circle cx="154.17" cy="98.13" r="0.79" fill="#f0c9a3" opacity="0.5"/>
<circle cx="162.14" cy="109.49" r="0.58" fill="#f0c9a3" opacity="0.5"/>
<circle cx="128.22" cy="86.55" r="0.67" fill="#fbe3c8" opacity="0.5"/>
<circle cx="118.36" cy="91.99" r="0.81" fill="#fbe3c8" opacity="0.5"/>
<circle cx="149.77" cy="107.42" r="0.56" fill="#fbe3c8" opacity="0.5"/>
<circle cx="140.54" cy="102.04" r="0.64" fill="#fbe3c8" opacity="0.5"/>
<circle cx="160.53" cy="107.15" r="0.7" fill="#aa7c55" opacity="0.5"/>
<circle cx="115.9" cy="99.25" r="0.67" fill="#a67852" opacity="0.5"/>
<circle cx="161.96" cy="102.73" r="0.85" fill="#f0c9a3" opacity="0.5"/>
<circle cx="172.59" cy="91.05" r="0.76" fill="#aa7c55" opacity="0.5"/>
<circle cx="145.87" cy="96.77" r="0.65" fill="#aa7c55" opacity="0.5"/>
<circle cx="113.57" cy="107.05" r="0.59" fill="#b98a63" opacity="0.5"/>
<circle cx="161.09" cy="90.23" r="0.64" fill="#a67852" opacity="0.5"/>
<circle cx="120.35" cy="86.39" r="0.84" fill="#a67852" opacity="0.5"/>
<circle cx="121.69" cy="105.35" r="0.76" fill="#aa7c55" opacity="0.5"/>
<circle cx="120.85" cy="89.94" r="0.52" fill="#b98a63" opacity="0.5"/>
<circle cx="156.77" cy="91.98" r="0.51" fill="#b98a63" opacity="0.5"/>
<circle cx="168.42" cy="96.65" r="0.55" fill="#f0c9a3" opacity="0.5"/>
<circle cx="104.88" cy="101.78" r="0.85" fill="#fbe3c8" opacity="0.5"/>
<circle cx="126.83" cy="93.22" r="0.55" fill="#f0c9a3" opacity="0.5"/>
<circle cx="121.81" cy="100.64" r="0.63" fill="#a67852" opacity="0.5"/>
<circle cx="170" cy="105.72" r="0.78" fill="#a67852" opacity="0.5"/>
<circle cx="179.09" cy="102.92" r="0.48" fill="#f0c9a3" opacity="0.5"/>
<circle cx="130.75" cy="91.47" r="0.38" fill="#a67852" opacity="0.5"/>
<circle cx="148.41" cy="90.63" r="0.65" fill="#b98a63" opacity="0.5"/>
<circle cx="175.76" cy="109.35" r="0.56" fill="#b98a63" opacity="0.5"/>
<circle cx="122.04" cy="98.43" r="0.55" fill="#aa7c55" opacity="0.5"/>
<circle cx="173.8" cy="103.1" r="0.6" fill="#a67852" opacity="0.5"/>
<circle cx="159.58" cy="98.7" r="0.75" fill="#f0c9a3" opacity="0.5"/>
<circle cx="176.89" cy="99.67" r="0.57" fill="#aa7c55" opacity="0.5"/>
<circle cx="111.34" cy="91.47" r="0.66" fill="#aa7c55" opacity="0.5"/>
<circle cx="108.19" cy="94.56" r="0.66" fill="#a67852" opacity="0.5"/>
<circle cx="114.49" cy="85.76" r="0.5" fill="#fbe3c8" opacity="0.5"/>
<circle cx="129.88" cy="87.81" r="0.4" fill="#b98a63" opacity="0.5"/>
<circle cx="126.88" cy="84.65" r="0.81" fill="#fbe3c8" opacity="0.5"/>
<circle cx="104.08" cy="107.05" r="0.7" fill="#a67852" opacity="0.5"/>
<circle cx="104.2" cy="99.99" r="0.7" fill="#a67852" opacity="0.5"/>
<circle cx="119.9" cy="105.56" r="0.69" fill="#b98a63" opacity="0.5"/>
<circle cx="140.91" cy="89.21" r="0.61" fill="#b98a63" opacity="0.5"/>
<circle cx="152.07" cy="86.27" r="0.42" fill="#aa7c55" opacity="0.5"/>
<circle cx="132.46" cy="88.91" r="0.72" fill="#f0c9a3" opacity="0.5"/>
<circle cx="157.14" cy="107.82" r="0.54" fill="#f0c9a3" opacity="0.5"/>
<circle cx="107.21" cy="95.25" r="0.6" fill="#a67852" opacity="0.5"/>
<circle cx="130.34" cy="90.92" r="0.63" fill="#b98a63" opacity="0.5"/>
<circle cx="144.76" cy="109.87" r="0.5" fill="#f0c9a3" opacity="0.5"/>
<circle cx="109.04" cy="87.81" r="0.73" fill="#a67852" opacity="0.5"/>
<circle cx="159.24" cy="86.83" r="0.66" fill="#f0c9a3" opacity="0.5"/>
<circle cx="176.55" cy="107.06" r="0.45" fill="#aa7c55" opacity="0.5"/>
<circle cx="108.1" cy="85.95" r="0.55" fill="#fbe3c8" opacity="0.5"/>
<circle cx="140.96" cy="87.21" r="0.64" fill="#f0c9a3" opacity="0.5"/>
<circle cx="144.37" cy="88.41" r="0.5" fill="#f0c9a3" opacity="0.5"/>
<circle cx="114.09" cy="91.58" r="0.62" fill="#b98a63" opacity="0.5"/>
<circle cx="162.83" cy="87.06" r="0.39" fill="#f0c9a3" opacity="0.5"/>
<circle cx="123.28" cy="100.13" r="0.58" fill="#aa7c55" opacity="0.5"/>
<circle cx="163.28" cy="91.18" r="0.63" fill="#f0c9a3" opacity="0.5"/>
<circle cx="164.33" cy="106.64" r="0.72" fill="#fbe3c8" opacity="0.5"/>
<circle cx="125.65" cy="89.64" r="0.38" fill="#fbe3c8" opacity="0.5"/>
<circle cx="149.75" cy="102.67" r="0.58" fill="#aa7c55" opacity="0.5"/>
<circle cx="109.74" cy="105.34" r="0.61" fill="#aa7c55" opacity="0.5"/>
<circle cx="167.44" cy="105.09" r="0.83" fill="#f0c9a3" opacity="0.5"/>
<circle cx="153.07" cy="104.64" r="0.74" fill="#aa7c55" opacity="0.5"/>
<circle cx="151.43" cy="98.04" r="0.6" fill="#f0c9a3" opacity="0.5"/>
<circle cx="107.13" cy="96.1" r="0.79" fill="#a67852" opacity="0.5"/>
<circle cx="112.64" cy="89.87" r="0.62" fill="#fbe3c8" opacity="0.5"/>
<circle cx="138.4" cy="85.37" r="0.73" fill="#f0c9a3" opacity="0.5"/>
<circle cx="146.28" cy="108.66" r="0.49" fill="#aa7c55" opacity="0.5"/>
<circle cx="121.44" cy="91.66" r="0.57" fill="#b98a63" opacity="0.5"/>
<circle cx="152.51" cy="107.93" r="0.37" fill="#fbe3c8" opacity="0.5"/>
<circle cx="178.91" cy="106.01" r="0.48" fill="#a67852" opacity="0.5"/>
<circle cx="99.95" cy="107.37" r="0.57" fill="#aa7c55" opacity="0.5"/>
<circle cx="116.72" cy="85.01" r="0.8" fill="#b98a63" opacity="0.5"/>
<circle cx="122.96" cy="112.37" r="0.5" fill="#fbe3c8" opacity="0.5"/>
<circle cx="147.2" cy="102.32" r="0.44" fill="#b98a63" opacity="0.5"/>
<circle cx="170.77" cy="92.56" r="0.5" fill="#b98a63" opacity="0.5"/>
<circle cx="148.1" cy="93.79" r="0.63" fill="#aa7c55" opacity="0.5"/>
<circle cx="154.43" cy="100.43" r="0.39" fill="#f0c9a3" opacity="0.5"/>
<circle cx="179.41" cy="105.37" r="0.52" fill="#a67852" opacity="0.5"/>
<circle cx="106.91" cy="108.21" r="0.53" fill="#fbe3c8" opacity="0.5"/>
<circle cx="141.53" cy="89.57" r="0.68" fill="#f0c9a3" opacity="0.5"/>
<circle cx="135.05" cy="90.41" r="0.68" fill="#aa7c55" opacity="0.5"/>
<circle cx="133.06" cy="87.58" r="0.78" fill="#fbe3c8" opacity="0.5"/>
<circle cx="176.91" cy="108.75" r="0.77" fill="#aa7c55" opacity="0.5"/>
<circle cx="107.07" cy="113.65" r="0.78" fill="#fbe3c8" opacity="0.5"/>
<circle cx="130.21" cy="107.49" r="0.49" fill="#aa7c55" opacity="0.5"/>
<circle cx="121.72" cy="109.59" r="0.38" fill="#fbe3c8" opacity="0.5"/>
<circle cx="139.09" cy="109.82" r="0.83" fill="#aa7c55" opacity="0.5"/>
<circle cx="121.95" cy="91.69" r="0.85" fill="#aa7c55" opacity="0.5"/>
<circle cx="160.38" cy="95.15" r="0.84" fill="#f0c9a3" opacity="0.5"/>
<circle cx="145.71" cy="111.08" r="0.66" fill="#a67852" opacity="0.5"/>
<circle cx="134.38" cy="95.51" r="0.45" fill="#a67852" opacity="0.5"/>
<circle cx="145.86" cy="110.74" r="0.43" fill="#aa7c55" opacity="0.5"/>
<circle cx="156.45" cy="94.07" r="0.43" fill="#a67852" opacity="0.5"/>
<circle cx="163.27" cy="92.79" r="0.47" fill="#a67852" opacity="0.5"/>
<circle cx="148.65" cy="110.97" r="0.74" fill="#b98a63" opacity="0.5"/>
<circle cx="143.18" cy="87.31" r="0.35" fill="#fbe3c8" opacity="0.5"/>
<circle cx="125.62" cy="89.86" r="0.56" fill="#fbe3c8" opacity="0.5"/>
<circle cx="135.09" cy="110.79" r="0.68" fill="#aa7c55" opacity="0.5"/>
<circle cx="159.83" cy="100.96" r="0.51" fill="#aa7c55" opacity="0.5"/>
<circle cx="106.23" cy="104.06" r="0.72" fill="#f0c9a3" opacity="0.5"/>
<circle cx="153.85" cy="95.62" r="0.38" fill="#f0c9a3" opacity="0.5"/>
<circle cx="139.89" cy="99.43" r="0.81" fill="#fbe3c8" opacity="0.5"/>
<circle cx="105.28" cy="107.35" r="0.55" fill="#aa7c55" opacity="0.5"/>
<circle cx="172.07" cy="109.44" r="0.55" fill="#b98a63" opacity="0.5"/>
<circle cx="125.62" cy="104.31" r="0.83" fill="#b98a63" opacity="0.5"/>
<circle cx="144.84" cy="89.43" r="0.64" fill="#b98a63" opacity="0.5"/>
<circle cx="106.46" cy="111.05" r="0.84" fill="#aa7c55" opacity="0.5"/>
<circle cx="154.03" cy="97.93" r="0.49" fill="#b98a63" opacity="0.5"/>
<circle cx="149.04" cy="92.84" r="0.59" fill="#fbe3c8" opacity="0.5"/>
<circle cx="104.71" cy="107.3" r="0.79" fill="#f0c9a3" opacity="0.5"/>
<circle cx="170.16" cy="98.02" r="0.53" fill="#aa7c55" opacity="0.5"/>
<circle cx="156.07" cy="86.77" r="0.67" fill="#b98a63" opacity="0.5"/>
<circle cx="127.7" cy="99.15" r="0.63" fill="#f0c9a3" opacity="0.5"/>
<circle cx="162.4" cy="94.73" r="0.68" fill="#b98a63" opacity="0.5"/>
<circle cx="158" cy="96" r="0.36" fill="#f0c9a3" opacity="0.5"/>
<circle cx="168.28" cy="98.56" r="0.55" fill="#aa7c55" opacity="0.5"/>
<circle cx="138.81" cy="86.36" r="0.73" fill="#a67852" opacity="0.5"/>
<circle cx="167.29" cy="98.88" r="0.81" fill="#fbe3c8" opacity="0.5"/>
<circle cx="137.66" cy="88.92" r="0.7" fill="#a67852" opacity="0.5"/>
<circle cx="169.41" cy="98.1" r="0.56" fill="#b98a63" opacity="0.5"/>
<circle cx="171.69" cy="86.26" r="0.5" fill="#f0c9a3" opacity="0.5"/>
<circle cx="167.83" cy="87.81" r="0.51" fill="#aa7c55" opacity="0.5"/>
<circle cx="168.59" cy="96.04" r="0.62" fill="#aa7c55" opacity="0.5"/>
<circle cx="116.07" cy="95.49" r="0.46" fill="#f0c9a3" opacity="0.5"/>
<circle cx="169.89" cy="86.47" r="0.82" fill="#a67852" opacity="0.5"/>
<circle cx="141.45" cy="92.99" r="0.54" fill="#fbe3c8" opacity="0.5"/>
<circle cx="116.45" cy="107.69" r="0.73" fill="#b98a63" opacity="0.5"/>
<circle cx="103.64" cy="101.85" r="0.51" fill="#fbe3c8" opacity="0.5"/>
<circle cx="167.71" cy="108.52" r="0.77" fill="#f0c9a3" opacity="0.5"/>
<circle cx="140.29" cy="109.28" r="0.72" fill="#b98a63" opacity="0.5"/>
<circle cx="110.85" cy="99.32" r="0.41" fill="#fbe3c8" opacity="0.5"/>
<circle cx="166.02" cy="110.51" r="0.64" fill="#f0c9a3" opacity="0.5"/>
<circle cx="124.56" cy="94.07" r="0.73" fill="#b98a63" opacity="0.5"/>
<circle cx="140.03" cy="94.26" r="0.41" fill="#f0c9a3" opacity="0.5"/>
<circle cx="145.69" cy="92.28" r="0.83" fill="#a67852" opacity="0.5"/>
<circle cx="169.09" cy="96.24" r="0.7" fill="#f0c9a3" opacity="0.5"/>
<circle cx="110.68" cy="111.09" r="0.74" fill="#aa7c55" opacity="0.5"/>
<circle cx="176.21" cy="103.95" r="0.67" fill="#fbe3c8" opacity="0.5"/>
<circle cx="174.03" cy="90.49" r="0.77" fill="#aa7c55" opacity="0.5"/>
<circle cx="145.44" cy="92.15" r="0.59" fill="#b98a63" opacity="0.5"/>
<circle cx="146.81" cy="87.65" r="0.81" fill="#a67852" opacity="0.5"/>
<circle cx="128.7" cy="98.44" r="0.7" fill="#b98a63" opacity="0.5"/>
<circle cx="175.22" cy="106.26" r="0.67" fill="#a67852" opacity="0.5"/>
<circle cx="149.51" cy="98.35" r="0.61" fill="#aa7c55" opacity="0.5"/>
<circle cx="169.01" cy="98.88" r="0.82" fill="#aa7c55" opacity="0.5"/>
<circle cx="133.89" cy="103.17" r="0.81" fill="#f0c9a3" opacity="0.5"/>
<circle cx="166.44" cy="93.53" r="0.49" fill="#fbe3c8" opacity="0.5"/>
<circle cx="143.75" cy="96.94" r="0.77" fill="#b98a63" opacity="0.5"/>
<circle cx="106.69" cy="106.2" r="0.41" fill="#fbe3c8" opacity="0.5"/>
<circle cx="160.39" cy="100.07" r="0.62" fill="#aa7c55" opacity="0.5"/>
<circle cx="130.07" cy="106.87" r="0.37" fill="#b98a63" opacity="0.5"/>
<circle cx="119.87" cy="85.33" r="0.72" fill="#fbe3c8" opacity="0.5"/>
<circle cx="181.08" cy="109.6" r="0.75" fill="#aa7c55" opacity="0.5"/>
<circle cx="117.25" cy="104.17" r="0.71" fill="#aa7c55" opacity="0.5"/>
<circle cx="97.99" cy="113.38" r="0.72" fill="#fbe3c8" opacity="0.5"/>
<circle cx="167.65" cy="85.83" r="0.42" fill="#f0c9a3" opacity="0.5"/>
<circle cx="126" cy="110.23" r="0.43" fill="#aa7c55" opacity="0.5"/>
<circle cx="119.41" cy="103.73" r="0.84" fill="#fbe3c8" opacity="0.5"/>
<circle cx="104.55" cy="113.23" r="0.39" fill="#aa7c55" opacity="0.5"/>
<circle cx="168.47" cy="100.4" r="0.63" fill="#aa7c55" opacity="0.5"/>
<circle cx="138.97" cy="100.15" r="0.44" fill="#aa7c55" opacity="0.5"/>
<circle cx="108.64" cy="95.41" r="0.39" fill="#b98a63" opacity="0.5"/>
<circle cx="165.99" cy="92.48" r="0.64" fill="#a67852" opacity="0.5"/>
<circle cx="114.67" cy="89.41" r="0.36" fill="#a67852" opacity="0.5"/>
<circle cx="168.41" cy="100.81" r="0.56" fill="#b98a63" opacity="0.5"/>
<circle cx="103.8" cy="107.4" r="0.52" fill="#aa7c55" opacity="0.5"/>
<circle cx="146.05" cy="91.68" r="0.58" fill="#fbe3c8" opacity="0.5"/>
<circle cx="149.87" cy="86.2" r="0.62" fill="#a67852" opacity="0.5"/>
<circle cx="126.13" cy="93.81" r="0.52" fill="#fbe3c8" opacity="0.5"/>
<circle cx="164.18" cy="90.65" r="0.71" fill="#fbe3c8" opacity="0.5"/>
<circle cx="115.49" cy="84.69" r="0.43" fill="#fbe3c8" opacity="0.5"/>
<circle cx="146.51" cy="86.77" r="0.55" fill="#aa7c55" opacity="0.5"/>
<circle cx="140.14" cy="111.85" r="0.41" fill="#f0c9a3" opacity="0.5"/>
<circle cx="120.6" cy="108.39" r="0.54" fill="#b98a63" opacity="0.5"/>
<circle cx="114.43" cy="84.88" r="0.36" fill="#fbe3c8" opacity="0.5"/>
<circle cx="106.88" cy="99.69" r="0.36" fill="#b98a63" opacity="0.5"/>
<circle cx="141.34" cy="88.23" r="0.68" fill="#fbe3c8" opacity="0.5"/>
<circle cx="125.47" cy="101.89" r="0.8" fill="#b98a63" opacity="0.5"/>
<circle cx="124.09" cy="109.6" r="0.6" fill="#f0c9a3" opacity="0.5"/>
<circle cx="122.99" cy="91.99" r="0.64" fill="#a67852" opacity="0.5"/>
<circle cx="104.14" cy="102.46" r="0.36" fill="#a67852" opacity="0.5"/>
<circle cx="124.99" cy="112.26" r="0.65" fill="#a67852" opacity="0.5"/>
<circle cx="162.7" cy="91.65" r="0.44" fill="#b98a63" opacity="0.5"/>
<circle cx="141.51" cy="102.24" r="0.73" fill="#aa7c55" opacity="0.5"/>
<circle cx="150.81" cy="87.14" r="0.79" fill="#a67852" opacity="0.5"/>
<circle cx="124.82" cy="93.59" r="0.64" fill="#aa7c55" opacity="0.5"/>
<circle cx="148.68" cy="100.79" r="0.74" fill="#b98a63" opacity="0.5"/>
<circle cx="101.35" cy="111.46" r="0.83" fill="#a67852" opacity="0.5"/>
<circle cx="143.88" cy="94.32" r="0.5" fill="#a67852" opacity="0.5"/>
<circle cx="119.84" cy="93.27" r="0.8" fill="#fbe3c8" opacity="0.5"/>
<circle cx="178.05" cy="100.37" r="0.75" fill="#f0c9a3" opacity="0.5"/>
<circle cx="108.88" cy="99.78" r="0.71" fill="#fbe3c8" opacity="0.5"/>
<circle cx="153.73" cy="109.09" r="0.51" fill="#aa7c55" opacity="0.5"/>
<circle cx="150.33" cy="99.75" r="0.72" fill="#fbe3c8" opacity="0.5"/>
<circle cx="127.24" cy="85.63" r="0.51" fill="#fbe3c8" opacity="0.5"/>
<circle cx="158.57" cy="93.23" r="0.76" fill="#f0c9a3" opacity="0.5"/>
<circle cx="169.74" cy="91.11" r="0.64" fill="#b98a63" opacity="0.5"/>
<circle cx="103.81" cy="101.5" r="0.58" fill="#fbe3c8" opacity="0.5"/>
<circle cx="163.78" cy="96.02" r="0.43" fill="#aa7c55" opacity="0.5"/>
<circle cx="151.21" cy="100.23" r="0.41" fill="#fbe3c8" opacity="0.5"/>
<circle cx="119.96" cy="99.75" r="0.41" fill="#f0c9a3" opacity="0.5"/>
<circle cx="156.37" cy="106.08" r="0.36" fill="#a67852" opacity="0.5"/>
<circle cx="125.4" cy="101.87" r="0.57" fill="#fbe3c8" opacity="0.5"/>
<circle cx="116.01" cy="101.08" r="0.61" fill="#b98a63" opacity="0.5"/>
<circle cx="148.43" cy="107.31" r="0.77" fill="#fbe3c8" opacity="0.5"/>
<circle cx="151.17" cy="99.47" r="0.72" fill="#aa7c55" opacity="0.5"/>
<circle cx="143.4" cy="88.67" r="0.44" fill="#b98a63" opacity="0.5"/>
<circle cx="164.98" cy="96.34" r="0.68" fill="#fbe3c8" opacity="0.5"/>
<circle cx="147.13" cy="93.09" r="0.47" fill="#fbe3c8" opacity="0.5"/>
<circle cx="116.38" cy="94.91" r="0.37" fill="#b98a63" opacity="0.5"/>
<circle cx="148.88" cy="95.51" r="0.76" fill="#aa7c55" opacity="0.5"/>
<circle cx="107.87" cy="84.81" r="0.76" fill="#f0c9a3" opacity="0.5"/>
<circle cx="152.55" cy="90.25" r="0.51" fill="#fbe3c8" opacity="0.5"/>
<circle cx="112.25" cy="104.71" r="0.51" fill="#b98a63" opacity="0.5"/>
<circle cx="115.54" cy="95.14" r="0.37" fill="#aa7c55" opacity="0.5"/>
<circle cx="119.28" cy="98.47" r="0.67" fill="#fbe3c8" opacity="0.5"/>
<circle cx="115.2" cy="84.99" r="0.84" fill="#aa7c55" opacity="0.5"/>
<circle cx="131.27" cy="93.57" r="0.36" fill="#a67852" opacity="0.5"/>
<circle cx="170.86" cy="97.21" r="0.71" fill="#fbe3c8" opacity="0.5"/>
<circle cx="102.52" cy="109.85" r="0.59" fill="#fbe3c8" opacity="0.5"/>
<circle cx="130.25" cy="111.36" r="0.69" fill="#fbe3c8" opacity="0.5"/>
<circle cx="113.46" cy="89.78" r="0.79" fill="#b98a63" opacity="0.5"/>
<circle cx="156.98" cy="110.11" r="0.47" fill="#b98a63" opacity="0.5"/>
<circle cx="168.56" cy="93.42" r="0.82" fill="#fbe3c8" opacity="0.5"/>
<circle cx="139.5" cy="85.63" r="0.68" fill="#aa7c55" opacity="0.5"/>
<circle cx="177.59" cy="107.67" r="0.58" fill="#a67852" opacity="0.5"/>
<circle cx="149.68" cy="108.29" r="0.83" fill="#a67852" opacity="0.5"/>
<circle cx="131.79" cy="92.92" r="0.58" fill="#a67852" opacity="0.5"/>
<circle cx="168.41" cy="96.53" r="0.85" fill="#aa7c55" opacity="0.5"/>
<circle cx="138.92" cy="110.54" r="0.56" fill="#f0c9a3" opacity="0.5"/>
<circle cx="129.54" cy="85.33" r="0.47" fill="#aa7c55" opacity="0.5"/>
<circle cx="154.2" cy="87.99" r="0.38" fill="#f0c9a3" opacity="0.5"/>
<circle cx="151.83" cy="86.87" r="0.42" fill="#f0c9a3" opacity="0.5"/>
<circle cx="144.57" cy="98.02" r="0.73" fill="#f0c9a3" opacity="0.5"/>
<circle cx="139.84" cy="102.74" r="0.43" fill="#fbe3c8" opacity="0.5"/>
<circle cx="128.74" cy="103.78" r="0.77" fill="#fbe3c8" opacity="0.5"/>
<circle cx="149.51" cy="87.83" r="0.52" fill="#a67852" opacity="0.5"/>
<circle cx="136.26" cy="108.01" r="0.83" fill="#b98a63" opacity="0.5"/>
<circle cx="108.58" cy="100.57" r="0.79" fill="#a67852" opacity="0.5"/>
<circle cx="115.96" cy="85.91" r="0.44" fill="#b98a63" opacity="0.5"/>
<circle cx="131.97" cy="107.51" r="0.5" fill="#a67852" opacity="0.5"/>
<circle cx="119.03" cy="91" r="0.66" fill="#aa7c55" opacity="0.5"/>
<circle cx="133.9" cy="89.28" r="0.4" fill="#fbe3c8" opacity="0.5"/>
<circle cx="129.2" cy="105.9" r="0.53" fill="#b98a63" opacity="0.5"/>
<circle cx="150.99" cy="105.14" r="0.41" fill="#aa7c55" opacity="0.5"/>
<circle cx="156.62" cy="98.53" r="0.54" fill="#b98a63" opacity="0.5"/>
<circle cx="132.94" cy="103.46" r="0.44" fill="#a67852" opacity="0.5"/>
<circle cx="147.23" cy="90.16" r="0.6" fill="#a67852" opacity="0.5"/>
<circle cx="131.13" cy="99.45" r="0.64" fill="#aa7c55" opacity="0.5"/>
<circle cx="124.49" cy="89.86" r="0.52" fill="#f0c9a3" opacity="0.5"/>
<circle cx="176.09" cy="96.47" r="0.5" fill="#aa7c55" opacity="0.5"/>
<circle cx="104.62" cy="98.75" r="0.7" fill="#aa7c55" opacity="0.5"/>
<circle cx="134.56" cy="87.87" r="0.43" fill="#aa7c55" opacity="0.5"/>
<circle cx="156.33" cy="100.51" r="0.46" fill="#fbe3c8" opacity="0.5"/>
<circle cx="170.41" cy="104.31" r="0.7" fill="#a67852" opacity="0.5"/>
<circle cx="121.39" cy="91.83" r="0.77" fill="#b98a63" opacity="0.5"/>
<circle cx="150.94" cy="94" r="0.73" fill="#b98a63" opacity="0.5"/>
<circle cx="153.82" cy="92.4" r="0.71" fill="#fbe3c8" opacity="0.5"/>
<circle cx="172.31" cy="99.9" r="0.8" fill="#b98a63" opacity="0.5"/>
<circle cx="168.94" cy="94.33" r="0.7" fill="#fbe3c8" opacity="0.5"/>
<circle cx="102.28" cy="103.19" r="0.8" fill="#aa7c55" opacity="0.5"/>
<circle cx="111.15" cy="109.79" r="0.47" fill="#aa7c55" opacity="0.5"/>
<circle cx="148.34" cy="94.9" r="0.68" fill="#a67852" opacity="0.5"/>
<circle cx="104.22" cy="102.95" r="0.42" fill="#a67852" opacity="0.5"/>
<circle cx="141.23" cy="91.72" r="0.54" fill="#a67852" opacity="0.5"/>
<circle cx="122.99" cy="89.92" r="0.4" fill="#fbe3c8" opacity="0.5"/>
<circle cx="143.04" cy="86.54" r="0.62" fill="#a67852" opacity="0.5"/>
<circle cx="124.59" cy="103.84" r="0.79" fill="#f0c9a3" opacity="0.5"/>
<circle cx="145.39" cy="110.03" r="0.45" fill="#fbe3c8" opacity="0.5"/>
<circle cx="136.27" cy="108.13" r="0.38" fill="#a67852" opacity="0.5"/>
<circle cx="152.03" cy="93.01" r="0.51" fill="#f0c9a3" opacity="0.5"/>
<circle cx="165" cy="85.52" r="0.46" fill="#a67852" opacity="0.5"/>
<circle cx="135.18" cy="85.47" r="0.6" fill="#fbe3c8" opacity="0.5"/>
<circle cx="99.85" cy="110.51" r="0.46" fill="#b98a63" opacity="0.5"/>
<circle cx="148.11" cy="87.4" r="0.68" fill="#f0c9a3" opacity="0.5"/>
<circle cx="119.46" cy="92.91" r="0.57" fill="#a67852" opacity="0.5"/>
<circle cx="163.89" cy="93.85" r="0.59" fill="#a67852" opacity="0.5"/>
<circle cx="108.93" cy="92.39" r="0.39" fill="#a67852" opacity="0.5"/>
<circle cx="144.71" cy="107.55" r="0.43" fill="#aa7c55" opacity="0.5"/>
<circle cx="134.86" cy="99.56" r="0.75" fill="#aa7c55" opacity="0.5"/>
<circle cx="138.37" cy="97.87" r="0.66" fill="#b98a63" opacity="0.5"/>
<circle cx="107.35" cy="87.84" r="0.74" fill="#fbe3c8" opacity="0.5"/>
<circle cx="157.65" cy="84.59" r="0.65" fill="#aa7c55" opacity="0.5"/>
<circle cx="157.6" cy="87.19" r="0.64" fill="#aa7c55" opacity="0.5"/>
<circle cx="163.73" cy="106.27" r="0.67" fill="#f0c9a3" opacity="0.5"/>
<circle cx="144.55" cy="94.92" r="0.38" fill="#fbe3c8" opacity="0.5"/>
<circle cx="138.71" cy="85.32" r="0.63" fill="#f0c9a3" opacity="0.5"/>
<circle cx="163.8" cy="85.06" r="0.76" fill="#b98a63" opacity="0.5"/>
<circle cx="147.16" cy="93.32" r="0.61" fill="#fbe3c8" opacity="0.5"/>
<circle cx="153.99" cy="96.89" r="0.48" fill="#b98a63" opacity="0.5"/>
<ellipse cx="133.1" cy="112.8" rx="8.9" ry="2.0" fill="#6e4a2c" opacity="0.55"/>
<ellipse cx="161.1" cy="112.3" rx="9.02" ry="2.0" fill="#6e4a2c" opacity="0.55"/>
<circle cx="119.2" cy="110.6" r="4.3" fill="url(#gFo)"/>
<circle cx="118.9" cy="110.3" r="1.94" fill="none" stroke="#6e4a2c" stroke-width="0.6" opacity="0.35"/>
<circle cx="147" cy="110.6" r="4.3" fill="url(#gFo)"/>
<circle cx="146.7" cy="110.3" r="1.94" fill="none" stroke="#6e4a2c" stroke-width="0.6" opacity="0.35"/>
<circle cx="175.2" cy="109.6" r="4.3" fill="url(#gFo)"/>
<circle cx="174.9" cy="109.3" r="1.94" fill="none" stroke="#6e4a2c" stroke-width="0.6" opacity="0.35"/>
<circle cx="42" cy="18.8" r="2.9" fill="url(#gS)"/>
<circle cx="55.6" cy="14.5" r="2.9" fill="url(#gS)"/>
<circle cx="52.4" cy="23.1" r="2.9" fill="url(#gS)"/>
<circle cx="65" cy="25.1" r="2.9" fill="url(#gS)"/>
<text font-size="5.0" text-anchor="start" style="font-family:'Liberation Serif',serif;font-weight:bold;stroke:#222;stroke-width:0.32px" fill="#1a1a1a" transform="translate(38.2 27.7)">Co<tspan font-size="3.2" baseline-shift="2.2" style="stroke-width:0.08px">2+</tspan></text>
<text font-size="5.7" text-anchor="middle" style="font-family:'Liberation Serif',serif;font-weight:bold;stroke:#111;stroke-width:0.5px" fill="#1a1a1a" transform="translate(51.3 65.8) scale(0.86 1.0)" letter-spacing="0.38">Carbon cloth</text>
<line x1="73.6" y1="26.3" x2="113" y2="26.3" stroke="#5a5a5a" stroke-width="1.5"/>
<path d="M115.8 26.3 L111.4 24.3 L111.4 28.3 Z" fill="#5a5a5a"/>
<text font-size="5.1" text-anchor="middle" style="font-family:'Liberation Serif',serif;font-weight:bold;stroke:#111;stroke-width:0.5px" fill="#1a1a1a" transform="translate(94.5 24.1) scale(0.86 1.0)" letter-spacing="0.22">Hydrothermal</text>
<text font-size="5.0" text-anchor="middle" style="font-family:'Liberation Serif',serif;font-weight:bold;stroke:#111;stroke-width:0.5px" fill="#1a1a1a" transform="translate(143.4 64.8) scale(0.86 1.0)" letter-spacing="0.15">Co(OH)F/CC</text>
<line x1="65.3" y1="80.9" x2="107.5" y2="80.9" stroke="#5a5a5a" stroke-width="1.5"/>
<path d="M110.4 80.9 L106 78.9 L106 82.9 Z" fill="#5a5a5a"/>
<text font-size="5.6" text-anchor="middle" style="font-family:'Liberation Serif',serif;font-weight:bold;stroke:#111;stroke-width:0.5px" fill="#1a1a1a" transform="translate(88.2 78.8) scale(0.86 1.0)">NH<tspan font-size="3.8" baseline-shift="-1.5">3</tspan></text>
<text font-size="5.5" text-anchor="middle" style="font-family:'Liberation Serif',serif;font-weight:bold;stroke:#111;stroke-width:0.5px" fill="#1a1a1a" transform="translate(86.8 86.9) scale(0.86 1.0)" letter-spacing="0.15">Phosphorization</text>
<text font-size="5.6" text-anchor="middle" style="font-family:'Liberation Serif',serif;font-weight:bold;stroke:#111;stroke-width:0.5px" fill="#1a1a1a" transform="translate(140.1 124.2) scale(0.86 1.0)" letter-spacing="0.15">N-Co<tspan font-size="3.8" baseline-shift="-1.5">2</tspan>P/CC</text>
<text font-size="12.5" text-anchor="start" style="font-family:'Liberation Sans',sans-serif;font-weight:bold" fill="#111" transform="translate(9.3 10.7)">a</text>
<text font-size="12.5" text-anchor="start" style="font-family:'Liberation Sans',sans-serif;font-weight:bold" fill="#111" transform="translate(190 10.8)">b</text>
<text font-size="12.5" text-anchor="start" style="font-family:'Liberation Sans',sans-serif;font-weight:bold" fill="#111" transform="translate(374.4 10.7)">c</text>
<text font-size="12.5" text-anchor="start" style="font-family:'Liberation Sans',sans-serif;font-weight:bold" fill="#111" transform="translate(8.3 170.9)">d</text>
<text font-size="12.5" text-anchor="start" style="font-family:'Liberation Sans',sans-serif;font-weight:bold" fill="#111" transform="translate(190.7 171.2)">e</text>
<text font-size="12.5" text-anchor="start" style="font-family:'Liberation Sans',sans-serif;font-weight:bold" fill="#111" transform="translate(374.4 171.2)">f</text>
<polyline fill="none" stroke="#111" stroke-width="1.5" stroke-linejoin="round" stroke-linecap="round" points="275.87,134.4 276.25,133.78 276.63,133.16 277.01,132.54 277.39,131.92 277.76,131.3 278.14,130.68 278.52,130.06 278.9,129.44 279.27,128.82 279.65,128.2 280.03,127.58 280.41,126.96 280.79,126.33 281.16,125.71 281.54,125.09 281.92,124.47 282.3,123.85 282.67,123.22 283.05,122.6 283.43,121.98 283.81,121.35 284.18,120.73 284.56,120.11 284.94,119.49 285.32,118.86 285.7,118.24 286.08,117.62 286.45,116.99 286.83,116.37 287.21,115.74 287.59,115.12 287.97,114.5 288.35,113.87 288.73,113.25 289.11,112.63 289.49,112 289.87,111.38 290.25,110.76 290.63,110.13 291.01,109.51 291.39,108.89 291.78,108.27 292.16,107.64 292.54,107.02 292.92,106.4 293.31,105.78 293.69,105.15 294.07,104.53 294.46,103.91 294.84,103.29 295.23,102.67 295.61,102.04 296,101.42 296.38,100.8 296.77,100.18 297.16,99.56 297.54,98.94 297.93,98.32 298.32,97.7 298.71,97.08 299.1,96.46 299.48,95.84 299.87,95.22 300.26,94.61 300.66,93.99 301.05,93.37 301.44,92.75 301.83,92.14 302.22,91.52 302.62,90.9 303.01,90.29 303.41,89.67 303.8,89.06 304.2,88.44 304.59,87.83 304.99,87.21 305.39,86.6 305.79,85.99 306.19,85.37 306.58,84.76 306.98,84.15 307.39,83.54 307.79,82.93 308.19,82.32 308.59,81.71 309,81.1 309.4,80.49 309.81,79.88 310.21,79.27 310.62,78.66 311.03,78.06 311.43,77.45 311.84,76.85 312.25,76.24 312.66,75.64 313.07,75.03 313.49,74.43 313.9,73.83 314.31,73.23 314.73,72.62 315.14,72.02 315.56,71.42 315.98,70.82 316.39,70.23 316.81,69.63 317.23,69.03 317.65,68.43 318.07,67.84 318.5,67.24 318.92,66.65 319.35,66.06 319.77,65.46 320.2,64.87 320.62,64.28 321.05,63.69 321.48,63.1 321.91,62.51 322.34,61.92 322.78,61.34 323.21,60.75 323.64,60.16 324.08,59.58 324.52,58.99 324.95,58.41 325.39,57.83 325.83,57.25 326.27,56.67 326.72,56.09 327.16,55.51 327.6,54.93 328.05,54.36 328.5,53.78 328.94,53.2 329.39,52.63 329.84,52.06 330.3,51.49 330.75,50.92 331.2,50.35 331.66,49.78 332.11,49.21 332.57,48.64 333.03,48.08 333.49,47.51 333.95,46.95 334.41,46.38 334.88,45.82 335.34,45.26 335.81,44.7 336.28,44.14 336.75,43.59 337.22,43.03 337.69,42.48 338.16,41.92 338.64,41.37 339.11,40.82 339.59,40.27 340.07,39.72 340.55,39.17 341.03,38.62 341.51,38.08 342,37.53 342.48,36.99 342.97,36.45 343.46,35.91 343.95,35.37 344.44,34.83 344.94,34.29 345.43,33.76 345.93,33.22 346.42,32.69 346.92,32.16 347.42,31.63 347.93,31.1 348.43,30.57 348.94,30.05 349.44,29.52 349.95,29 350.46,28.48 350.97,27.95 351.49,27.43 352,26.92 352.52,26.4 353.04,25.88 353.56,25.37 354.08,24.86 354.6,24.35 355.13,23.84 355.66,23.33 356.19,22.82 356.72,22.32 357.25,21.82 357.78,21.31 358.32,20.81 358.85,20.31 359.39,19.82 359.93,19.32 360.48,18.83 361.02,18.33 361.57,17.84"/>
<path d="M275.87 132.95L277.32 134.4L275.87 135.85L274.42 134.4Z" fill="#111"/>
<path d="M277.23 130.73L278.68 132.18L277.23 133.63L275.78 132.18Z" fill="#111"/>
<path d="M278.58 128.51L280.03 129.96L278.58 131.41L277.13 129.96Z" fill="#111"/>
<path d="M279.93 126.29L281.38 127.74L279.93 129.19L278.48 127.74Z" fill="#111"/>
<path d="M281.28 124.07L282.73 125.52L281.28 126.97L279.83 125.52Z" fill="#111"/>
<path d="M282.63 121.85L284.08 123.3L282.63 124.75L281.18 123.3Z" fill="#111"/>
<path d="M283.98 119.62L285.43 121.07L283.98 122.52L282.53 121.07Z" fill="#111"/>
<path d="M285.33 117.4L286.78 118.85L285.33 120.3L283.88 118.85Z" fill="#111"/>
<path d="M286.68 115.18L288.13 116.63L286.68 118.08L285.23 116.63Z" fill="#111"/>
<path d="M288.03 112.96L289.48 114.41L288.03 115.86L286.58 114.41Z" fill="#111"/>
<path d="M289.38 110.74L290.83 112.19L289.38 113.64L287.93 112.19Z" fill="#111"/>
<path d="M290.74 108.52L292.19 109.97L290.74 111.42L289.29 109.97Z" fill="#111"/>
<path d="M292.09 106.3L293.54 107.75L292.09 109.2L290.64 107.75Z" fill="#111"/>
<path d="M293.46 104.08L294.91 105.53L293.46 106.98L292.01 105.53Z" fill="#111"/>
<path d="M294.82 101.87L296.27 103.32L294.82 104.77L293.37 103.32Z" fill="#111"/>
<path d="M296.19 99.66L297.64 101.11L296.19 102.56L294.74 101.11Z" fill="#111"/>
<path d="M297.56 97.45L299.01 98.9L297.56 100.35L296.11 98.9Z" fill="#111"/>
<path d="M298.94 95.25L300.39 96.7L298.94 98.15L297.49 96.7Z" fill="#111"/>
<path d="M300.33 93.05L301.78 94.5L300.33 95.95L298.88 94.5Z" fill="#111"/>
<path d="M301.72 90.86L303.17 92.31L301.72 93.76L300.27 92.31Z" fill="#111"/>
<path d="M303.12 88.66L304.57 90.11L303.12 91.56L301.67 90.11Z" fill="#111"/>
<path d="M304.53 86.48L305.98 87.93L304.53 89.38L303.08 87.93Z" fill="#111"/>
<path d="M305.94 84.3L307.39 85.75L305.94 87.2L304.49 85.75Z" fill="#111"/>
<path d="M307.36 82.12L308.81 83.57L307.36 85.02L305.91 83.57Z" fill="#111"/>
<path d="M308.8 79.95L310.25 81.4L308.8 82.85L307.35 81.4Z" fill="#111"/>
<path d="M310.24 77.78L311.69 79.23L310.24 80.68L308.79 79.23Z" fill="#111"/>
<path d="M311.69 75.63L313.14 77.08L311.69 78.53L310.24 77.08Z" fill="#111"/>
<path d="M313.15 73.48L314.6 74.93L313.15 76.38L311.7 74.93Z" fill="#111"/>
<path d="M314.62 71.33L316.07 72.78L314.62 74.23L313.17 72.78Z" fill="#111"/>
<path d="M316.1 69.2L317.55 70.65L316.1 72.1L314.65 70.65Z" fill="#111"/>
<path d="M317.59 67.07L319.04 68.52L317.59 69.97L316.14 68.52Z" fill="#111"/>
<path d="M319.1 64.95L320.55 66.4L319.1 67.85L317.65 66.4Z" fill="#111"/>
<path d="M320.62 62.84L322.07 64.29L320.62 65.74L319.17 64.29Z" fill="#111"/>
<path d="M322.15 60.74L323.6 62.19L322.15 63.64L320.7 62.19Z" fill="#111"/>
<path d="M323.7 58.65L325.15 60.1L323.7 61.55L322.25 60.1Z" fill="#111"/>
<path d="M325.25 56.56L326.7 58.01L325.25 59.46L323.8 58.01Z" fill="#111"/>
<path d="M326.83 54.49L328.28 55.94L326.83 57.39L325.38 55.94Z" fill="#111"/>
<path d="M328.41 52.43L329.86 53.88L328.41 55.33L326.96 53.88Z" fill="#111"/>
<path d="M330.02 50.39L331.47 51.84L330.02 53.29L328.57 51.84Z" fill="#111"/>
<path d="M331.64 48.35L333.09 49.8L331.64 51.25L330.19 49.8Z" fill="#111"/>
<path d="M333.27 46.33L334.72 47.78L333.27 49.23L331.82 47.78Z" fill="#111"/>
<path d="M334.92 44.32L336.37 45.77L334.92 47.22L333.47 45.77Z" fill="#111"/>
<path d="M336.59 42.33L338.04 43.78L336.59 45.23L335.14 43.78Z" fill="#111"/>
<path d="M338.27 40.35L339.72 41.8L338.27 43.25L336.82 41.8Z" fill="#111"/>
<path d="M339.97 38.38L341.42 39.83L339.97 41.28L338.52 39.83Z" fill="#111"/>
<path d="M341.69 36.43L343.14 37.88L341.69 39.33L340.24 37.88Z" fill="#111"/>
<path d="M343.43 34.49L344.88 35.94L343.43 37.39L341.98 35.94Z" fill="#111"/>
<path d="M345.18 32.58L346.63 34.03L345.18 35.48L343.73 34.03Z" fill="#111"/>
<path d="M346.96 30.67L348.41 32.12L346.96 33.57L345.51 32.12Z" fill="#111"/>
<path d="M348.75 28.79L350.2 30.24L348.75 31.69L347.3 30.24Z" fill="#111"/>
<path d="M350.56 26.93L352.01 28.38L350.56 29.83L349.11 28.38Z" fill="#111"/>
<path d="M352.39 25.08L353.84 26.53L352.39 27.98L350.94 26.53Z" fill="#111"/>
<path d="M354.24 23.25L355.69 24.7L354.24 26.15L352.79 24.7Z" fill="#111"/>
<path d="M356.11 21.45L357.56 22.9L356.11 24.35L354.66 22.9Z" fill="#111"/>
<path d="M358 19.66L359.45 21.11L358 22.56L356.55 21.11Z" fill="#111"/>
<path d="M359.91 17.89L361.36 19.34L359.91 20.79L358.46 19.34Z" fill="#111"/>
<polyline fill="none" stroke="#ff1010" stroke-width="1.5" stroke-linejoin="round" stroke-linecap="round" points="296.83,134.39 297.11,133.79 297.38,133.19 297.66,132.59 297.93,131.99 298.2,131.38 298.47,130.78 298.73,130.17 299,129.56 299.26,128.94 299.52,128.33 299.78,127.72 300.04,127.1 300.29,126.48 300.55,125.86 300.8,125.24 301.05,124.62 301.3,123.99 301.55,123.37 301.8,122.74 302.04,122.11 302.29,121.48 302.53,120.85 302.77,120.22 303.01,119.59 303.25,118.96 303.49,118.32 303.73,117.69 303.96,117.05 304.2,116.41 304.43,115.77 304.67,115.13 304.9,114.49 305.13,113.85 305.36,113.21 305.59,112.56 305.82,111.92 306.05,111.27 306.28,110.63 306.51,109.98 306.74,109.33 306.96,108.68 307.19,108.04 307.41,107.39 307.64,106.74 307.86,106.09 308.09,105.43 308.31,104.78 308.54,104.13 308.76,103.48 308.98,102.83 309.21,102.17 309.43,101.52 309.65,100.87 309.88,100.21 310.1,99.56 310.32,98.9 310.55,98.25 310.77,97.59 310.99,96.94 311.22,96.28 311.44,95.63 311.67,94.97 311.89,94.32 312.11,93.66 312.34,93.01 312.56,92.35 312.79,91.7 313.02,91.04 313.24,90.39 313.47,89.73 313.7,89.08 313.93,88.42 314.16,87.77 314.39,87.12 314.62,86.46 314.85,85.81 315.08,85.16 315.31,84.5 315.55,83.85 315.78,83.2 316.02,82.55 316.26,81.9 316.49,81.25 316.73,80.6 316.97,79.95 317.21,79.31 317.46,78.66 317.7,78.01 317.95,77.37 318.19,76.72 318.44,76.08 318.69,75.44 318.94,74.79 319.19,74.15 319.44,73.51 319.7,72.87 319.96,72.23 320.21,71.6 320.47,70.96 320.73,70.32 321,69.69 321.26,69.06 321.53,68.43 321.8,67.79 322.07,67.16 322.34,66.54 322.61,65.91 322.89,65.28 323.17,64.66 323.45,64.04 323.73,63.41 324.02,62.79 324.3,62.18 324.59,61.56 324.88,60.94 325.17,60.33 325.47,59.72 325.77,59.1 326.07,58.5 326.37,57.89 326.68,57.28 326.98,56.68 327.29,56.07 327.61,55.47 327.92,54.87 328.24,54.28 328.56,53.68 328.88,53.09 329.21,52.5 329.54,51.91 329.87,51.32 330.21,50.73 330.54,50.15 330.88,49.57 331.23,48.99 331.57,48.41 331.92,47.84 332.28,47.27 332.63,46.69 332.99,46.13 333.35,45.56 333.72,45 334.09,44.43 334.46,43.88 334.83,43.32 335.21,42.76 335.6,42.21 335.98,41.66 336.37,41.12 336.76,40.57 337.16,40.03 337.56,39.49 337.96,38.96 338.37,38.42 338.78,37.89 339.2,37.36 339.62,36.84 340.04,36.31 340.46,35.79 340.89,35.28 341.33,34.76 341.77,34.25 342.21,33.74 342.66,33.24 343.11,32.73 343.56,32.23 344.02,31.74 344.48,31.24 344.95,30.75 345.42,30.27 345.9,29.78 346.38,29.3 346.86,28.82 347.35,28.35 347.85,27.88 348.34,27.41 348.85,26.95 349.35,26.48 349.87,26.03 350.38,25.57 350.9,25.12 351.43,24.67 351.96,24.23 352.5,23.79 353.04,23.35 353.58,22.92 354.13,22.49 354.69,22.07 355.25,21.64 355.81,21.23 356.38,20.81 356.96,20.4 357.54,19.99 358.13,19.59 358.72,19.19 359.31,18.79 359.92,18.4 360.52,18.02 361.13,17.63"/>
<circle cx="296.83" cy="134.39" r="1.15" fill="#ff1010"/>
<circle cx="297.91" cy="132.03" r="1.15" fill="#ff1010"/>
<circle cx="298.96" cy="129.65" r="1.15" fill="#ff1010"/>
<circle cx="299.97" cy="127.25" r="1.15" fill="#ff1010"/>
<circle cx="300.96" cy="124.85" r="1.15" fill="#ff1010"/>
<circle cx="301.92" cy="122.43" r="1.15" fill="#ff1010"/>
<circle cx="302.85" cy="120.01" r="1.15" fill="#ff1010"/>
<circle cx="303.77" cy="117.57" r="1.15" fill="#ff1010"/>
<circle cx="304.67" cy="115.13" r="1.15" fill="#ff1010"/>
<circle cx="305.55" cy="112.69" r="1.15" fill="#ff1010"/>
<circle cx="306.42" cy="110.24" r="1.15" fill="#ff1010"/>
<circle cx="307.28" cy="107.78" r="1.15" fill="#ff1010"/>
<circle cx="308.13" cy="105.33" r="1.15" fill="#ff1010"/>
<circle cx="308.97" cy="102.87" r="1.15" fill="#ff1010"/>
<circle cx="309.81" cy="100.41" r="1.15" fill="#ff1010"/>
<circle cx="310.65" cy="97.94" r="1.15" fill="#ff1010"/>
<circle cx="311.49" cy="95.48" r="1.15" fill="#ff1010"/>
<circle cx="312.33" cy="93.02" r="1.15" fill="#ff1010"/>
<circle cx="313.18" cy="90.57" r="1.15" fill="#ff1010"/>
<circle cx="314.04" cy="88.11" r="1.15" fill="#ff1010"/>
<circle cx="314.9" cy="85.66" r="1.15" fill="#ff1010"/>
<circle cx="315.78" cy="83.21" r="1.15" fill="#ff1010"/>
<circle cx="316.67" cy="80.77" r="1.15" fill="#ff1010"/>
<circle cx="317.58" cy="78.33" r="1.15" fill="#ff1010"/>
<circle cx="318.51" cy="75.9" r="1.15" fill="#ff1010"/>
<circle cx="319.46" cy="73.48" r="1.15" fill="#ff1010"/>
<circle cx="320.43" cy="71.07" r="1.15" fill="#ff1010"/>
<circle cx="321.43" cy="68.67" r="1.15" fill="#ff1010"/>
<circle cx="322.45" cy="66.28" r="1.15" fill="#ff1010"/>
<circle cx="323.51" cy="63.91" r="1.15" fill="#ff1010"/>
<circle cx="324.6" cy="61.55" r="1.15" fill="#ff1010"/>
<circle cx="325.72" cy="59.2" r="1.15" fill="#ff1010"/>
<circle cx="326.88" cy="56.88" r="1.15" fill="#ff1010"/>
<circle cx="328.08" cy="54.57" r="1.15" fill="#ff1010"/>
<circle cx="329.33" cy="52.29" r="1.15" fill="#ff1010"/>
<circle cx="330.62" cy="50.03" r="1.15" fill="#ff1010"/>
<circle cx="331.95" cy="47.8" r="1.15" fill="#ff1010"/>
<circle cx="333.33" cy="45.59" r="1.15" fill="#ff1010"/>
<circle cx="334.76" cy="43.42" r="1.15" fill="#ff1010"/>
<circle cx="336.25" cy="41.29" r="1.15" fill="#ff1010"/>
<circle cx="337.78" cy="39.19" r="1.15" fill="#ff1010"/>
<circle cx="339.38" cy="37.14" r="1.15" fill="#ff1010"/>
<circle cx="341.02" cy="35.12" r="1.15" fill="#ff1010"/>
<circle cx="342.72" cy="33.16" r="1.15" fill="#ff1010"/>
<circle cx="344.48" cy="31.24" r="1.15" fill="#ff1010"/>
<circle cx="346.3" cy="29.38" r="1.15" fill="#ff1010"/>
<circle cx="348.17" cy="27.58" r="1.15" fill="#ff1010"/>
<circle cx="350.09" cy="25.83" r="1.15" fill="#ff1010"/>
<circle cx="352.07" cy="24.14" r="1.15" fill="#ff1010"/>
<circle cx="354.1" cy="22.52" r="1.15" fill="#ff1010"/>
<circle cx="356.18" cy="20.96" r="1.15" fill="#ff1010"/>
<circle cx="358.31" cy="19.47" r="1.15" fill="#ff1010"/>
<circle cx="360.48" cy="18.04" r="1.15" fill="#ff1010"/>
<polyline fill="none" stroke="#ff10d0" stroke-width="1.5" stroke-linejoin="round" stroke-linecap="round" points="256.29,134.53 256.57,133.7 256.86,132.87 257.15,132.05 257.44,131.23 257.74,130.41 258.04,129.6 258.34,128.79 258.65,127.98 258.96,127.17 259.27,126.37 259.59,125.57 259.91,124.77 260.24,123.98 260.57,123.19 260.9,122.4 261.24,121.61 261.58,120.83 261.92,120.04 262.27,119.26 262.62,118.49 262.97,117.71 263.32,116.94 263.68,116.16 264.04,115.4 264.4,114.63 264.77,113.86 265.14,113.1 265.51,112.34 265.88,111.58 266.26,110.82 266.64,110.06 267.02,109.31 267.4,108.55 267.79,107.8 268.18,107.05 268.56,106.3 268.96,105.55 269.35,104.81 269.75,104.06 270.14,103.32 270.54,102.57 270.95,101.83 271.35,101.09 271.75,100.35 272.16,99.61 272.57,98.87 272.98,98.13 273.39,97.4 273.8,96.66 274.21,95.92 274.63,95.19 275.04,94.45 275.46,93.72 275.88,92.99 276.29,92.25 276.71,91.52 277.13,90.79 277.56,90.05 277.98,89.32 278.4,88.59 278.82,87.86 279.25,87.12 279.67,86.39 280.1,85.66 280.52,84.93 280.95,84.19 281.37,83.46 281.8,82.73 282.23,81.99 282.65,81.26 283.08,80.52 283.5,79.79 283.93,79.05 284.36,78.31 284.78,77.58 285.21,76.84 285.63,76.1 286.06,75.36 286.48,74.62 286.9,73.88 287.33,73.13 287.75,72.39 288.17,71.65 288.59,70.9 289.01,70.15 289.43,69.4 289.85,68.65 290.27,67.9 290.68,67.15 291.1,66.39 291.51,65.64 291.92,64.88 292.34,64.12 292.75,63.36 293.15,62.6 293.56,61.84 293.97,61.07 294.38,60.31 294.79,59.54 295.2,58.78 295.61,58.02 296.02,57.25 296.43,56.49 296.84,55.73 297.26,54.97 297.67,54.21 298.09,53.45 298.51,52.69 298.93,51.94 299.36,51.19 299.78,50.44 300.22,49.69 300.65,48.95 301.09,48.21 301.53,47.47 301.97,46.74 302.42,46.01 302.88,45.28 303.34,44.56 303.8,43.84 304.27,43.13 304.74,42.42 305.22,41.72 305.71,41.02 306.2,40.33 306.7,39.65 307.2,38.97 307.72,38.3 308.23,37.63 308.76,36.97 309.29,36.32 309.83,35.67 310.38,35.04 310.94,34.41 311.5,33.78 312.07,33.17 312.65,32.56 313.24,31.97 313.84,31.38 314.44,30.8 315.05,30.23 315.67,29.67 316.3,29.12 316.93,28.58 317.58,28.05 318.23,27.53 318.88,27.02 319.55,26.52 320.22,26.03 320.9,25.55 321.59,25.09 322.28,24.63 322.98,24.19 323.69,23.76 324.41,23.34 325.14,22.94 325.87,22.55 326.61,22.17 327.35,21.8 328.1,21.45 328.87,21.11 329.63,20.78 330.41,20.47 331.19,20.17 331.98,19.89 332.77,19.62 333.58,19.37 334.39,19.13 335.2,18.91 336.02,18.7 336.85,18.5 337.68,18.32 338.52,18.15 339.36,18 340.21,17.85 341.06,17.72 341.92,17.61 342.78,17.6 343.64,17.6 344.51,17.6 345.38,17.6 346.25,17.6 347.12,17.6 348,17.6 348.87,17.6 349.75,17.6 350.63,17.6 351.51,17.6 352.39,17.6 353.27,17.6 354.15,17.6 355.03,17.6 355.9,17.6 356.78,17.6 357.66,17.6 358.53,17.6 359.4,17.6 360.27,17.65 361.14,17.75"/>
<circle cx="256.29" cy="134.53" r="1.15" fill="#ff10d0"/>
<circle cx="257.14" cy="132.07" r="1.15" fill="#ff10d0"/>
<circle cx="258.03" cy="129.62" r="1.15" fill="#ff10d0"/>
<circle cx="258.95" cy="127.19" r="1.15" fill="#ff10d0"/>
<circle cx="259.91" cy="124.78" r="1.15" fill="#ff10d0"/>
<circle cx="260.91" cy="122.38" r="1.15" fill="#ff10d0"/>
<circle cx="261.94" cy="119.99" r="1.15" fill="#ff10d0"/>
<circle cx="263.01" cy="117.62" r="1.15" fill="#ff10d0"/>
<circle cx="264.1" cy="115.26" r="1.15" fill="#ff10d0"/>
<circle cx="265.23" cy="112.92" r="1.15" fill="#ff10d0"/>
<circle cx="266.38" cy="110.58" r="1.15" fill="#ff10d0"/>
<circle cx="267.55" cy="108.26" r="1.15" fill="#ff10d0"/>
<circle cx="268.75" cy="105.95" r="1.15" fill="#ff10d0"/>
<circle cx="269.96" cy="103.66" r="1.15" fill="#ff10d0"/>
<circle cx="271.2" cy="101.37" r="1.15" fill="#ff10d0"/>
<circle cx="272.45" cy="99.09" r="1.15" fill="#ff10d0"/>
<circle cx="273.71" cy="96.82" r="1.15" fill="#ff10d0"/>
<circle cx="274.99" cy="94.55" r="1.15" fill="#ff10d0"/>
<circle cx="276.27" cy="92.29" r="1.15" fill="#ff10d0"/>
<circle cx="277.57" cy="90.04" r="1.15" fill="#ff10d0"/>
<circle cx="278.87" cy="87.78" r="1.15" fill="#ff10d0"/>
<circle cx="280.17" cy="85.53" r="1.15" fill="#ff10d0"/>
<circle cx="281.47" cy="83.29" r="1.15" fill="#ff10d0"/>
<circle cx="282.78" cy="81.04" r="1.15" fill="#ff10d0"/>
<circle cx="284.08" cy="78.79" r="1.15" fill="#ff10d0"/>
<circle cx="285.38" cy="76.53" r="1.15" fill="#ff10d0"/>
<circle cx="286.67" cy="74.28" r="1.15" fill="#ff10d0"/>
<circle cx="287.96" cy="72.02" r="1.15" fill="#ff10d0"/>
<circle cx="289.23" cy="69.75" r="1.15" fill="#ff10d0"/>
<circle cx="290.5" cy="67.48" r="1.15" fill="#ff10d0"/>
<circle cx="291.75" cy="65.2" r="1.15" fill="#ff10d0"/>
<circle cx="292.99" cy="62.91" r="1.15" fill="#ff10d0"/>
<circle cx="294.21" cy="60.62" r="1.15" fill="#ff10d0"/>
<circle cx="295.44" cy="58.33" r="1.15" fill="#ff10d0"/>
<circle cx="296.67" cy="56.04" r="1.15" fill="#ff10d0"/>
<circle cx="297.92" cy="53.76" r="1.15" fill="#ff10d0"/>
<circle cx="299.19" cy="51.49" r="1.15" fill="#ff10d0"/>
<circle cx="300.48" cy="49.24" r="1.15" fill="#ff10d0"/>
<circle cx="301.81" cy="47" r="1.15" fill="#ff10d0"/>
<circle cx="303.19" cy="44.79" r="1.15" fill="#ff10d0"/>
<circle cx="304.61" cy="42.62" r="1.15" fill="#ff10d0"/>
<circle cx="306.09" cy="40.48" r="1.15" fill="#ff10d0"/>
<circle cx="307.64" cy="38.39" r="1.15" fill="#ff10d0"/>
<circle cx="309.26" cy="36.36" r="1.15" fill="#ff10d0"/>
<circle cx="310.95" cy="34.39" r="1.15" fill="#ff10d0"/>
<circle cx="312.73" cy="32.49" r="1.15" fill="#ff10d0"/>
<circle cx="314.58" cy="30.67" r="1.15" fill="#ff10d0"/>
<circle cx="316.52" cy="28.93" r="1.15" fill="#ff10d0"/>
<circle cx="318.53" cy="27.29" r="1.15" fill="#ff10d0"/>
<circle cx="320.63" cy="25.74" r="1.15" fill="#ff10d0"/>
<circle cx="322.79" cy="24.31" r="1.15" fill="#ff10d0"/>
<circle cx="325.04" cy="22.99" r="1.15" fill="#ff10d0"/>
<circle cx="327.35" cy="21.8" r="1.15" fill="#ff10d0"/>
<circle cx="329.72" cy="20.75" r="1.15" fill="#ff10d0"/>
<circle cx="332.16" cy="19.83" r="1.15" fill="#ff10d0"/>
<circle cx="334.64" cy="19.06" r="1.15" fill="#ff10d0"/>
<circle cx="337.16" cy="18.43" r="1.15" fill="#ff10d0"/>
<circle cx="339.71" cy="17.94" r="1.15" fill="#ff10d0"/>
<circle cx="342.29" cy="17.6" r="1.15" fill="#ff10d0"/>
<circle cx="344.89" cy="17.6" r="1.15" fill="#ff10d0"/>
<circle cx="347.49" cy="17.6" r="1.15" fill="#ff10d0"/>
<circle cx="350.09" cy="17.6" r="1.15" fill="#ff10d0"/>
<circle cx="352.69" cy="17.6" r="1.15" fill="#ff10d0"/>
<circle cx="355.29" cy="17.6" r="1.15" fill="#ff10d0"/>
<circle cx="357.89" cy="17.6" r="1.15" fill="#ff10d0"/>
<circle cx="360.49" cy="17.68" r="1.15" fill="#ff10d0"/>
<polyline fill="none" stroke="#1010ff" stroke-width="1.5" stroke-linejoin="round" stroke-linecap="round" points="253.16,134.5 253.54,133.73 253.91,132.96 254.29,132.19 254.67,131.43 255.05,130.66 255.44,129.9 255.83,129.15 256.22,128.39 256.61,127.64 257,126.89 257.4,126.14 257.8,125.39 258.2,124.64 258.6,123.9 259,123.16 259.41,122.42 259.82,121.68 260.23,120.94 260.64,120.21 261.05,119.48 261.47,118.75 261.89,118.02 262.31,117.29 262.73,116.56 263.15,115.84 263.58,115.11 264,114.39 264.43,113.67 264.86,112.95 265.29,112.23 265.72,111.52 266.16,110.8 266.59,110.09 267.03,109.38 267.47,108.66 267.91,107.95 268.35,107.24 268.79,106.54 269.23,105.83 269.68,105.12 270.12,104.42 270.57,103.71 271.02,103.01 271.47,102.3 271.92,101.6 272.37,100.9 272.82,100.2 273.28,99.5 273.73,98.8 274.19,98.1 274.64,97.4 275.1,96.7 275.56,96.01 276.01,95.31 276.47,94.61 276.93,93.92 277.39,93.22 277.85,92.52 278.32,91.83 278.78,91.13 279.24,90.44 279.7,89.74 280.17,89.05 280.63,88.35 281.1,87.66 281.56,86.96 282.03,86.27 282.49,85.57 282.96,84.88 283.42,84.18 283.89,83.49 284.36,82.79 284.82,82.09 285.29,81.4 285.76,80.7 286.22,80 286.69,79.31 287.16,78.61 287.62,77.91 288.09,77.21 288.56,76.51 289.02,75.81 289.49,75.11 289.96,74.41 290.42,73.71 290.89,73 291.35,72.3 291.82,71.59 292.28,70.89 292.75,70.18 293.21,69.47 293.67,68.77 294.13,68.06 294.6,67.35 295.06,66.63 295.52,65.92 295.98,65.21 296.44,64.49 296.9,63.77 297.36,63.06 297.81,62.34 298.27,61.62 298.73,60.9 299.19,60.18 299.65,59.46 300.11,58.74 300.57,58.02 301.03,57.31 301.49,56.59 301.95,55.87 302.41,55.15 302.88,54.44 303.35,53.72 303.81,53.01 304.28,52.3 304.75,51.59 305.23,50.88 305.71,50.18 306.18,49.48 306.66,48.78 307.15,48.08 307.64,47.38 308.12,46.69 308.62,46 309.11,45.32 309.61,44.64 310.12,43.96 310.62,43.28 311.13,42.61 311.65,41.95 312.17,41.29 312.69,40.63 313.22,39.98 313.75,39.33 314.29,38.69 314.83,38.05 315.38,37.42 315.93,36.79 316.49,36.17 317.05,35.55 317.62,34.95 318.19,34.34 318.77,33.75 319.36,33.16 319.95,32.58 320.55,32 321.15,31.43 321.76,30.87 322.38,30.32 323,29.78 323.62,29.24 324.26,28.72 324.9,28.2 325.54,27.69 326.19,27.19 326.85,26.7 327.51,26.22 328.18,25.75 328.86,25.29 329.54,24.84 330.23,24.4 330.93,23.98 331.63,23.56 332.34,23.15 333.05,22.76 333.77,22.38 334.5,22.01 335.23,21.65 335.97,21.31 336.72,20.98 337.48,20.66 338.24,20.35 339,20.06 339.78,19.78 340.56,19.52 341.35,19.27 342.14,19.03 342.95,18.81 343.75,18.61 344.57,18.42 345.39,18.24 346.22,18.08 347.06,17.93 347.9,17.8 348.75,17.69 349.6,17.6 350.47,17.6 351.34,17.6 352.21,17.6 353.09,17.6 353.98,17.6 354.88,17.6 355.78,17.6 356.69,17.6 357.6,17.6 358.53,17.6 359.45,17.62 360.39,17.73 361.33,17.85"/>
<circle cx="253.16" cy="134.5" r="1.15" fill="#1010ff"/>
<circle cx="254.31" cy="132.16" r="1.15" fill="#1010ff"/>
<circle cx="255.47" cy="129.84" r="1.15" fill="#1010ff"/>
<circle cx="256.66" cy="127.53" r="1.15" fill="#1010ff"/>
<circle cx="257.88" cy="125.23" r="1.15" fill="#1010ff"/>
<circle cx="259.12" cy="122.94" r="1.15" fill="#1010ff"/>
<circle cx="260.38" cy="120.67" r="1.15" fill="#1010ff"/>
<circle cx="261.66" cy="118.41" r="1.15" fill="#1010ff"/>
<circle cx="262.96" cy="116.16" r="1.15" fill="#1010ff"/>
<circle cx="264.28" cy="113.92" r="1.15" fill="#1010ff"/>
<circle cx="265.62" cy="111.69" r="1.15" fill="#1010ff"/>
<circle cx="266.97" cy="109.47" r="1.15" fill="#1010ff"/>
<circle cx="268.34" cy="107.26" r="1.15" fill="#1010ff"/>
<circle cx="269.72" cy="105.05" r="1.15" fill="#1010ff"/>
<circle cx="271.12" cy="102.86" r="1.15" fill="#1010ff"/>
<circle cx="272.52" cy="100.67" r="1.15" fill="#1010ff"/>
<circle cx="273.93" cy="98.49" r="1.15" fill="#1010ff"/>
<circle cx="275.36" cy="96.31" r="1.15" fill="#1010ff"/>
<circle cx="276.79" cy="94.14" r="1.15" fill="#1010ff"/>
<circle cx="278.22" cy="91.97" r="1.15" fill="#1010ff"/>
<circle cx="279.66" cy="89.81" r="1.15" fill="#1010ff"/>
<circle cx="281.11" cy="87.64" r="1.15" fill="#1010ff"/>
<circle cx="282.55" cy="85.48" r="1.15" fill="#1010ff"/>
<circle cx="284" cy="83.32" r="1.15" fill="#1010ff"/>
<circle cx="285.45" cy="81.16" r="1.15" fill="#1010ff"/>
<circle cx="286.89" cy="79" r="1.15" fill="#1010ff"/>
<circle cx="288.34" cy="76.84" r="1.15" fill="#1010ff"/>
<circle cx="289.78" cy="74.68" r="1.15" fill="#1010ff"/>
<circle cx="291.21" cy="72.51" r="1.15" fill="#1010ff"/>
<circle cx="292.64" cy="70.34" r="1.15" fill="#1010ff"/>
<circle cx="294.07" cy="68.16" r="1.15" fill="#1010ff"/>
<circle cx="295.48" cy="65.98" r="1.15" fill="#1010ff"/>
<circle cx="296.89" cy="63.79" r="1.15" fill="#1010ff"/>
<circle cx="298.28" cy="61.6" r="1.15" fill="#1010ff"/>
<circle cx="299.68" cy="59.41" r="1.15" fill="#1010ff"/>
<circle cx="301.08" cy="57.22" r="1.15" fill="#1010ff"/>
<circle cx="302.49" cy="55.03" r="1.15" fill="#1010ff"/>
<circle cx="303.92" cy="52.86" r="1.15" fill="#1010ff"/>
<circle cx="305.36" cy="50.69" r="1.15" fill="#1010ff"/>
<circle cx="306.82" cy="48.55" r="1.15" fill="#1010ff"/>
<circle cx="308.32" cy="46.42" r="1.15" fill="#1010ff"/>
<circle cx="309.85" cy="44.32" r="1.15" fill="#1010ff"/>
<circle cx="311.42" cy="42.25" r="1.15" fill="#1010ff"/>
<circle cx="313.03" cy="40.21" r="1.15" fill="#1010ff"/>
<circle cx="314.69" cy="38.21" r="1.15" fill="#1010ff"/>
<circle cx="316.41" cy="36.25" r="1.15" fill="#1010ff"/>
<circle cx="318.18" cy="34.35" r="1.15" fill="#1010ff"/>
<circle cx="320.02" cy="32.51" r="1.15" fill="#1010ff"/>
<circle cx="321.92" cy="30.73" r="1.15" fill="#1010ff"/>
<circle cx="323.88" cy="29.03" r="1.15" fill="#1010ff"/>
<circle cx="325.91" cy="27.41" r="1.15" fill="#1010ff"/>
<circle cx="328.01" cy="25.87" r="1.15" fill="#1010ff"/>
<circle cx="330.18" cy="24.44" r="1.15" fill="#1010ff"/>
<circle cx="332.41" cy="23.11" r="1.15" fill="#1010ff"/>
<circle cx="334.72" cy="21.91" r="1.15" fill="#1010ff"/>
<circle cx="337.08" cy="20.83" r="1.15" fill="#1010ff"/>
<circle cx="339.5" cy="19.88" r="1.15" fill="#1010ff"/>
<circle cx="341.98" cy="19.08" r="1.15" fill="#1010ff"/>
<circle cx="344.49" cy="18.43" r="1.15" fill="#1010ff"/>
<circle cx="347.05" cy="17.93" r="1.15" fill="#1010ff"/>
<circle cx="349.62" cy="17.6" r="1.15" fill="#1010ff"/>
<circle cx="352.22" cy="17.6" r="1.15" fill="#1010ff"/>
<circle cx="354.82" cy="17.6" r="1.15" fill="#1010ff"/>
<circle cx="357.42" cy="17.6" r="1.15" fill="#1010ff"/>
<circle cx="360.02" cy="17.69" r="1.15" fill="#1010ff"/>
<rect x="218" y="17.5" width="144" height="117" fill="none" stroke="#262626" stroke-width="1.2"/>
<line x1="217.8" y1="134.5" x2="217.8" y2="136.7" stroke="#262626" stroke-width="0.9"/>
<line x1="253.8" y1="134.5" x2="253.8" y2="136.7" stroke="#262626" stroke-width="0.9"/>
<line x1="289.9" y1="134.5" x2="289.9" y2="136.7" stroke="#262626" stroke-width="0.9"/>
<line x1="325.9" y1="134.5" x2="325.9" y2="136.7" stroke="#262626" stroke-width="0.9"/>
<line x1="362" y1="134.5" x2="362" y2="136.7" stroke="#262626" stroke-width="0.9"/>
<line x1="235.8" y1="134.5" x2="235.8" y2="135.82" stroke="#262626" stroke-width="0.8"/>
<line x1="271.8" y1="134.5" x2="271.8" y2="135.82" stroke="#262626" stroke-width="0.8"/>
<line x1="307.9" y1="134.5" x2="307.9" y2="135.82" stroke="#262626" stroke-width="0.8"/>
<line x1="343.9" y1="134.5" x2="343.9" y2="135.82" stroke="#262626" stroke-width="0.8"/>
<text font-size="6.2" text-anchor="middle" style="font-family:'Liberation Serif',serif;font-weight:bold;stroke:#222;stroke-width:0.32px" fill="#1a1a1a" transform="translate(217.8 143.5)">-0.4</text>
<text font-size="6.2" text-anchor="middle" style="font-family:'Liberation Serif',serif;font-weight:bold;stroke:#222;stroke-width:0.32px" fill="#1a1a1a" transform="translate(253.8 143.5)">-0.3</text>
<text font-size="6.2" text-anchor="middle" style="font-family:'Liberation Serif',serif;font-weight:bold;stroke:#222;stroke-width:0.32px" fill="#1a1a1a" transform="translate(289.9 143.5)">-0.2</text>
<text font-size="6.2" text-anchor="middle" style="font-family:'Liberation Serif',serif;font-weight:bold;stroke:#222;stroke-width:0.32px" fill="#1a1a1a" transform="translate(325.9 143.5)">-0.1</text>
<text font-size="6.2" text-anchor="middle" style="font-family:'Liberation Serif',serif;font-weight:bold;stroke:#222;stroke-width:0.32px" fill="#1a1a1a" transform="translate(362 143.5)">0.0</text>
<line x1="215.8" y1="17.5" x2="218" y2="17.5" stroke="#262626" stroke-width="0.9"/>
<line x1="215.8" y1="76" x2="218" y2="76" stroke="#262626" stroke-width="0.9"/>
<line x1="215.8" y1="134.5" x2="218" y2="134.5" stroke="#262626" stroke-width="0.9"/>
<line x1="216.68" y1="46.75" x2="218" y2="46.75" stroke="#262626" stroke-width="0.8"/>
<line x1="216.68" y1="105.25" x2="218" y2="105.25" stroke="#262626" stroke-width="0.8"/>
<text font-size="6.5" text-anchor="end" style="font-family:'Liberation Serif',serif;font-weight:bold;stroke:#222;stroke-width:0.32px" fill="#1a1a1a" transform="translate(214.3 19.1)">0</text>
<text font-size="6.5" text-anchor="end" style="font-family:'Liberation Serif',serif;font-weight:bold;stroke:#222;stroke-width:0.32px" fill="#1a1a1a" transform="translate(214.3 77.6)">-100</text>
<text font-size="6.5" text-anchor="end" style="font-family:'Liberation Serif',serif;font-weight:bold;stroke:#222;stroke-width:0.32px" fill="#1a1a1a" transform="translate(214.3 136.1)">-200</text>
<text font-size="6.8" text-anchor="middle" style="font-family:'Liberation Serif',serif;font-weight:bold;stroke:#222;stroke-width:0.32px" fill="#1a1a1a" transform="translate(290 152.6)">E&#160;&#160;(V&#160;vs&#160;RHE)</text>
<text font-size="7.0" text-anchor="middle" style="font-family:'Liberation Serif',serif;font-weight:bold;stroke:#222;stroke-width:0.32px" fill="#1a1a1a" transform="translate(199 75) rotate(-90)">Current Density (mA cm<tspan font-size="4.5" baseline-shift="2.5">-2</tspan>)</text>
<line x1="221.2" y1="24.3" x2="233.3" y2="24.3" stroke="#111" stroke-width="1.1"/>
<path d="M227.2 22.5L229 24.3L227.2 26.1L225.4 24.3Z" fill="#111"/>
<text font-size="6.8" text-anchor="start" style="font-family:'Liberation Serif',serif;font-weight:bold;stroke:#222;stroke-width:0.32px" fill="#1a1a1a" transform="translate(235.5 26.6)">Pt/CC</text>
<line x1="221.2" y1="32.2" x2="233.3" y2="32.2" stroke="#ff1010" stroke-width="1.1"/>
<circle cx="227.2" cy="32.2" r="1.45" fill="#ff1010"/>
<text font-size="6.8" text-anchor="start" style="font-family:'Liberation Serif',serif;font-weight:bold;stroke:#222;stroke-width:0.32px" fill="#1a1a1a" transform="translate(235.5 34.5)">N-Co<tspan font-size="4.5" baseline-shift="-1.5">2</tspan>P/CC</text>
<line x1="221.2" y1="39.9" x2="233.3" y2="39.9" stroke="#1010ff" stroke-width="1.1"/>
<circle cx="227.2" cy="39.9" r="1.45" fill="#1010ff"/>
<text font-size="6.8" text-anchor="start" style="font-family:'Liberation Serif',serif;font-weight:bold;stroke:#222;stroke-width:0.32px" fill="#1a1a1a" transform="translate(235.5 42.2)">CoP/CC</text>
<line x1="221.2" y1="48.1" x2="233.3" y2="48.1" stroke="#ff10d0" stroke-width="1.1"/>
<circle cx="227.2" cy="48.1" r="1.45" fill="#ff10d0"/>
<text font-size="6.8" text-anchor="start" style="font-family:'Liberation Serif',serif;font-weight:bold;stroke:#222;stroke-width:0.32px" fill="#1a1a1a" transform="translate(235.5 50.4)">Co<tspan font-size="4.5" baseline-shift="-1.5">2</tspan>P/CC</text>
<line x1="442.5" y1="122.5" x2="519.5" y2="110" stroke="#111" stroke-width="1.2"/>
<path d="M442.5 120.8L444.2 122.5L442.5 124.2L440.8 122.5Z" fill="#111"/>
<path d="M446.84 120.1L448.54 121.8L446.84 123.5L445.14 121.8Z" fill="#111"/>
<path d="M451.05 119.41L452.75 121.11L451.05 122.81L449.35 121.11Z" fill="#111"/>
<path d="M455.13 118.75L456.83 120.45L455.13 122.15L453.43 120.45Z" fill="#111"/>
<path d="M459.09 118.11L460.79 119.81L459.09 121.51L457.39 119.81Z" fill="#111"/>
<path d="M462.93 117.48L464.63 119.18L462.93 120.88L461.23 119.18Z" fill="#111"/>
<path d="M466.64 116.88L468.34 118.58L466.64 120.28L464.94 118.58Z" fill="#111"/>
<path d="M470.22 116.3L471.92 118L470.22 119.7L468.52 118Z" fill="#111"/>
<path d="M473.68 115.74L475.38 117.44L473.68 119.14L471.98 117.44Z" fill="#111"/>
<path d="M477.01 115.2L478.71 116.9L477.01 118.6L475.31 116.9Z" fill="#111"/>
<path d="M480.21 114.68L481.91 116.38L480.21 118.08L478.51 116.38Z" fill="#111"/>
<path d="M483.29 114.18L484.99 115.88L483.29 117.58L481.59 115.88Z" fill="#111"/>
<path d="M486.25 113.7L487.95 115.4L486.25 117.1L484.55 115.4Z" fill="#111"/>
<path d="M489.08 113.24L490.78 114.94L489.08 116.64L487.38 114.94Z" fill="#111"/>
<path d="M491.78 112.8L493.48 114.5L491.78 116.2L490.08 114.5Z" fill="#111"/>
<path d="M494.36 112.38L496.06 114.08L494.36 115.78L492.66 114.08Z" fill="#111"/>
<path d="M496.81 111.98L498.51 113.68L496.81 115.38L495.11 113.68Z" fill="#111"/>
<path d="M499.13 111.61L500.83 113.31L499.13 115.01L497.43 113.31Z" fill="#111"/>
<path d="M501.33 111.25L503.03 112.95L501.33 114.65L499.63 112.95Z" fill="#111"/>
<path d="M503.41 110.91L505.11 112.61L503.41 114.31L501.71 112.61Z" fill="#111"/>
<path d="M505.36 110.6L507.06 112.3L505.36 114L503.66 112.3Z" fill="#111"/>
<path d="M507.18 110.3L508.88 112L507.18 113.7L505.48 112Z" fill="#111"/>
<path d="M508.88 110.02L510.58 111.72L508.88 113.42L507.18 111.72Z" fill="#111"/>
<path d="M510.45 109.77L512.15 111.47L510.45 113.17L508.75 111.47Z" fill="#111"/>
<path d="M511.89 109.53L513.59 111.23L511.89 112.93L510.19 111.23Z" fill="#111"/>
<path d="M513.21 109.32L514.91 111.02L513.21 112.72L511.51 111.02Z" fill="#111"/>
<path d="M514.41 109.13L516.11 110.83L514.41 112.53L512.71 110.83Z" fill="#111"/>
<path d="M515.48 108.95L517.18 110.65L515.48 112.35L513.78 110.65Z" fill="#111"/>
<path d="M516.42 108.8L518.12 110.5L516.42 112.2L514.72 110.5Z" fill="#111"/>
<path d="M517.24 108.67L518.94 110.37L517.24 112.07L515.54 110.37Z" fill="#111"/>
<path d="M517.93 108.56L519.63 110.26L517.93 111.96L516.23 110.26Z" fill="#111"/>
<path d="M518.49 108.46L520.19 110.16L518.49 111.86L516.79 110.16Z" fill="#111"/>
<path d="M518.93 108.39L520.63 110.09L518.93 111.79L517.23 110.09Z" fill="#111"/>
<path d="M519.25 108.34L520.95 110.04L519.25 111.74L517.55 110.04Z" fill="#111"/>
<path d="M519.44 108.31L521.14 110.01L519.44 111.71L517.74 110.01Z" fill="#111"/>
<path d="M519.5 108.3L521.2 110L519.5 111.7L517.8 110Z" fill="#111"/>
<line x1="454.5" y1="118.9" x2="542" y2="100.2" stroke="#ff1010" stroke-width="2.1"/>
<circle cx="454.5" cy="118.9" r="1.45" fill="#ff1010"/>
<circle cx="457.66" cy="118.22" r="1.45" fill="#ff1010"/>
<circle cx="460.78" cy="117.56" r="1.45" fill="#ff1010"/>
<circle cx="463.85" cy="116.9" r="1.45" fill="#ff1010"/>
<circle cx="466.88" cy="116.26" r="1.45" fill="#ff1010"/>
<circle cx="469.86" cy="115.62" r="1.45" fill="#ff1010"/>
<circle cx="472.79" cy="114.99" r="1.45" fill="#ff1010"/>
<circle cx="475.69" cy="114.37" r="1.45" fill="#ff1010"/>
<circle cx="478.53" cy="113.76" r="1.45" fill="#ff1010"/>
<circle cx="481.33" cy="113.17" r="1.45" fill="#ff1010"/>
<circle cx="484.08" cy="112.58" r="1.45" fill="#ff1010"/>
<circle cx="486.78" cy="112" r="1.45" fill="#ff1010"/>
<circle cx="489.43" cy="111.43" r="1.45" fill="#ff1010"/>
<circle cx="492.04" cy="110.88" r="1.45" fill="#ff1010"/>
<circle cx="494.59" cy="110.33" r="1.45" fill="#ff1010"/>
<circle cx="497.09" cy="109.8" r="1.45" fill="#ff1010"/>
<circle cx="499.54" cy="109.27" r="1.45" fill="#ff1010"/>
<circle cx="501.94" cy="108.76" r="1.45" fill="#ff1010"/>
<circle cx="504.29" cy="108.26" r="1.45" fill="#ff1010"/>
<circle cx="506.58" cy="107.77" r="1.45" fill="#ff1010"/>
<circle cx="508.82" cy="107.29" r="1.45" fill="#ff1010"/>
<circle cx="511.01" cy="106.82" r="1.45" fill="#ff1010"/>
<circle cx="513.14" cy="106.37" r="1.45" fill="#ff1010"/>
<circle cx="515.21" cy="105.93" r="1.45" fill="#ff1010"/>
<circle cx="517.22" cy="105.5" r="1.45" fill="#ff1010"/>
<circle cx="519.17" cy="105.08" r="1.45" fill="#ff1010"/>
<circle cx="521.06" cy="104.67" r="1.45" fill="#ff1010"/>
<circle cx="522.89" cy="104.28" r="1.45" fill="#ff1010"/>
<circle cx="524.66" cy="103.91" r="1.45" fill="#ff1010"/>
<circle cx="526.36" cy="103.54" r="1.45" fill="#ff1010"/>
<circle cx="527.99" cy="103.19" r="1.45" fill="#ff1010"/>
<circle cx="529.56" cy="102.86" r="1.45" fill="#ff1010"/>
<circle cx="531.06" cy="102.54" r="1.45" fill="#ff1010"/>
<circle cx="532.48" cy="102.23" r="1.45" fill="#ff1010"/>
<circle cx="533.83" cy="101.95" r="1.45" fill="#ff1010"/>
<circle cx="535.09" cy="101.68" r="1.45" fill="#ff1010"/>
<circle cx="536.28" cy="101.42" r="1.45" fill="#ff1010"/>
<circle cx="537.38" cy="101.19" r="1.45" fill="#ff1010"/>
<circle cx="538.39" cy="100.97" r="1.45" fill="#ff1010"/>
<circle cx="539.3" cy="100.78" r="1.45" fill="#ff1010"/>
<circle cx="540.11" cy="100.6" r="1.45" fill="#ff1010"/>
<circle cx="540.81" cy="100.45" r="1.45" fill="#ff1010"/>
<circle cx="541.38" cy="100.33" r="1.45" fill="#ff1010"/>
<circle cx="541.79" cy="100.24" r="1.45" fill="#ff1010"/>
<circle cx="542" cy="100.2" r="1.45" fill="#ff1010"/>
<line x1="429" y1="95.4" x2="519.8" y2="70.5" stroke="#1010ff" stroke-width="2.1"/>
<circle cx="429" cy="95.4" r="1.45" fill="#1010ff"/>
<circle cx="432.07" cy="94.56" r="1.45" fill="#1010ff"/>
<circle cx="435.1" cy="93.73" r="1.45" fill="#1010ff"/>
<circle cx="438.09" cy="92.91" r="1.45" fill="#1010ff"/>
<circle cx="441.04" cy="92.1" r="1.45" fill="#1010ff"/>
<circle cx="443.95" cy="91.3" r="1.45" fill="#1010ff"/>
<circle cx="446.82" cy="90.51" r="1.45" fill="#1010ff"/>
<circle cx="449.65" cy="89.74" r="1.45" fill="#1010ff"/>
<circle cx="452.44" cy="88.97" r="1.45" fill="#1010ff"/>
<circle cx="455.18" cy="88.22" r="1.45" fill="#1010ff"/>
<circle cx="457.88" cy="87.48" r="1.45" fill="#1010ff"/>
<circle cx="460.53" cy="86.75" r="1.45" fill="#1010ff"/>
<circle cx="463.15" cy="86.04" r="1.45" fill="#1010ff"/>
<circle cx="465.71" cy="85.33" r="1.45" fill="#1010ff"/>
<circle cx="468.24" cy="84.64" r="1.45" fill="#1010ff"/>
<circle cx="470.71" cy="83.96" r="1.45" fill="#1010ff"/>
<circle cx="473.14" cy="83.29" r="1.45" fill="#1010ff"/>
<circle cx="475.53" cy="82.64" r="1.45" fill="#1010ff"/>
<circle cx="477.87" cy="82" r="1.45" fill="#1010ff"/>
<circle cx="480.16" cy="81.37" r="1.45" fill="#1010ff"/>
<circle cx="482.4" cy="80.76" r="1.45" fill="#1010ff"/>
<circle cx="484.59" cy="80.16" r="1.45" fill="#1010ff"/>
<circle cx="486.73" cy="79.57" r="1.45" fill="#1010ff"/>
<circle cx="488.82" cy="79" r="1.45" fill="#1010ff"/>
<circle cx="490.86" cy="78.44" r="1.45" fill="#1010ff"/>
<circle cx="492.85" cy="77.89" r="1.45" fill="#1010ff"/>
<circle cx="494.78" cy="77.36" r="1.45" fill="#1010ff"/>
<circle cx="496.66" cy="76.85" r="1.45" fill="#1010ff"/>
<circle cx="498.48" cy="76.35" r="1.45" fill="#1010ff"/>
<circle cx="500.25" cy="75.86" r="1.45" fill="#1010ff"/>
<circle cx="501.96" cy="75.39" r="1.45" fill="#1010ff"/>
<circle cx="503.61" cy="74.94" r="1.45" fill="#1010ff"/>
<circle cx="505.2" cy="74.5" r="1.45" fill="#1010ff"/>
<circle cx="506.72" cy="74.09" r="1.45" fill="#1010ff"/>
<circle cx="508.18" cy="73.69" r="1.45" fill="#1010ff"/>
<circle cx="509.58" cy="73.3" r="1.45" fill="#1010ff"/>
<circle cx="510.91" cy="72.94" r="1.45" fill="#1010ff"/>
<circle cx="512.17" cy="72.59" r="1.45" fill="#1010ff"/>
<circle cx="513.35" cy="72.27" r="1.45" fill="#1010ff"/>
<circle cx="514.46" cy="71.96" r="1.45" fill="#1010ff"/>
<circle cx="515.49" cy="71.68" r="1.45" fill="#1010ff"/>
<circle cx="516.43" cy="71.42" r="1.45" fill="#1010ff"/>
<circle cx="517.28" cy="71.19" r="1.45" fill="#1010ff"/>
<circle cx="518.04" cy="70.98" r="1.45" fill="#1010ff"/>
<circle cx="518.69" cy="70.8" r="1.45" fill="#1010ff"/>
<circle cx="519.22" cy="70.66" r="1.45" fill="#1010ff"/>
<circle cx="519.61" cy="70.55" r="1.45" fill="#1010ff"/>
<circle cx="519.8" cy="70.5" r="1.45" fill="#1010ff"/>
<line x1="443.6" y1="77.6" x2="535.8" y2="53.3" stroke="#ff10d0" stroke-width="2.1"/>
<circle cx="443.6" cy="77.6" r="1.45" fill="#ff10d0"/>
<circle cx="446.72" cy="76.78" r="1.45" fill="#ff10d0"/>
<circle cx="449.8" cy="75.97" r="1.45" fill="#ff10d0"/>
<circle cx="452.83" cy="75.17" r="1.45" fill="#ff10d0"/>
<circle cx="455.83" cy="74.38" r="1.45" fill="#ff10d0"/>
<circle cx="458.79" cy="73.6" r="1.45" fill="#ff10d0"/>
<circle cx="461.7" cy="72.83" r="1.45" fill="#ff10d0"/>
<circle cx="464.57" cy="72.07" r="1.45" fill="#ff10d0"/>
<circle cx="467.4" cy="71.33" r="1.45" fill="#ff10d0"/>
<circle cx="470.18" cy="70.59" r="1.45" fill="#ff10d0"/>
<circle cx="472.92" cy="69.87" r="1.45" fill="#ff10d0"/>
<circle cx="475.62" cy="69.16" r="1.45" fill="#ff10d0"/>
<circle cx="478.27" cy="68.46" r="1.45" fill="#ff10d0"/>
<circle cx="480.88" cy="67.77" r="1.45" fill="#ff10d0"/>
<circle cx="483.44" cy="67.1" r="1.45" fill="#ff10d0"/>
<circle cx="485.96" cy="66.44" r="1.45" fill="#ff10d0"/>
<circle cx="488.42" cy="65.79" r="1.45" fill="#ff10d0"/>
<circle cx="490.85" cy="65.15" r="1.45" fill="#ff10d0"/>
<circle cx="493.22" cy="64.52" r="1.45" fill="#ff10d0"/>
<circle cx="495.54" cy="63.91" r="1.45" fill="#ff10d0"/>
<circle cx="497.82" cy="63.31" r="1.45" fill="#ff10d0"/>
<circle cx="500.05" cy="62.72" r="1.45" fill="#ff10d0"/>
<circle cx="502.22" cy="62.15" r="1.45" fill="#ff10d0"/>
<circle cx="504.34" cy="61.59" r="1.45" fill="#ff10d0"/>
<circle cx="506.41" cy="61.04" r="1.45" fill="#ff10d0"/>
<circle cx="508.43" cy="60.51" r="1.45" fill="#ff10d0"/>
<circle cx="510.39" cy="60" r="1.45" fill="#ff10d0"/>
<circle cx="512.3" cy="59.49" r="1.45" fill="#ff10d0"/>
<circle cx="514.15" cy="59" r="1.45" fill="#ff10d0"/>
<circle cx="515.95" cy="58.53" r="1.45" fill="#ff10d0"/>
<circle cx="517.68" cy="58.07" r="1.45" fill="#ff10d0"/>
<circle cx="519.36" cy="57.63" r="1.45" fill="#ff10d0"/>
<circle cx="520.97" cy="57.21" r="1.45" fill="#ff10d0"/>
<circle cx="522.52" cy="56.8" r="1.45" fill="#ff10d0"/>
<circle cx="524.01" cy="56.41" r="1.45" fill="#ff10d0"/>
<circle cx="525.42" cy="56.03" r="1.45" fill="#ff10d0"/>
<circle cx="526.77" cy="55.68" r="1.45" fill="#ff10d0"/>
<circle cx="528.05" cy="55.34" r="1.45" fill="#ff10d0"/>
<circle cx="529.25" cy="55.03" r="1.45" fill="#ff10d0"/>
<circle cx="530.38" cy="54.73" r="1.45" fill="#ff10d0"/>
<circle cx="531.42" cy="54.45" r="1.45" fill="#ff10d0"/>
<circle cx="532.38" cy="54.2" r="1.45" fill="#ff10d0"/>
<circle cx="533.24" cy="53.97" r="1.45" fill="#ff10d0"/>
<circle cx="534.01" cy="53.77" r="1.45" fill="#ff10d0"/>
<circle cx="534.67" cy="53.6" r="1.45" fill="#ff10d0"/>
<circle cx="535.21" cy="53.46" r="1.45" fill="#ff10d0"/>
<circle cx="535.61" cy="53.35" r="1.45" fill="#ff10d0"/>
<circle cx="535.8" cy="53.3" r="1.45" fill="#ff10d0"/>
<rect x="400" y="17.5" width="144" height="116.7" fill="none" stroke="#262626" stroke-width="1.2"/>
<line x1="472" y1="134.2" x2="472" y2="136.4" stroke="#262626" stroke-width="0.9"/>
<text font-size="6.5" text-anchor="middle" style="font-family:'Liberation Serif',serif;font-weight:bold;stroke:#222;stroke-width:0.32px" fill="#1a1a1a" transform="translate(472 141.8)">1</text>
<line x1="397.8" y1="134.2" x2="400" y2="134.2" stroke="#262626" stroke-width="0.9"/>
<line x1="397.8" y1="105" x2="400" y2="105" stroke="#262626" stroke-width="0.9"/>
<line x1="397.8" y1="75.85" x2="400" y2="75.85" stroke="#262626" stroke-width="0.9"/>
<line x1="397.8" y1="46.7" x2="400" y2="46.7" stroke="#262626" stroke-width="0.9"/>
<line x1="397.8" y1="17.5" x2="400" y2="17.5" stroke="#262626" stroke-width="0.9"/>
<line x1="398.68" y1="119.6" x2="400" y2="119.6" stroke="#262626" stroke-width="0.8"/>
<line x1="398.68" y1="90.4" x2="400" y2="90.4" stroke="#262626" stroke-width="0.8"/>
<line x1="398.68" y1="61.3" x2="400" y2="61.3" stroke="#262626" stroke-width="0.8"/>
<line x1="398.68" y1="32.1" x2="400" y2="32.1" stroke="#262626" stroke-width="0.8"/>
<text font-size="6.5" text-anchor="end" style="font-family:'Liberation Serif',serif;font-weight:bold;stroke:#222;stroke-width:0.32px" fill="#1a1a1a" transform="translate(397 136.4)">0.00</text>
<text font-size="6.5" text-anchor="end" style="font-family:'Liberation Serif',serif;font-weight:bold;stroke:#222;stroke-width:0.32px" fill="#1a1a1a" transform="translate(397 107.2)">0.05</text>
<text font-size="6.5" text-anchor="end" style="font-family:'Liberation Serif',serif;font-weight:bold;stroke:#222;stroke-width:0.32px" fill="#1a1a1a" transform="translate(397 78.05)">0.10</text>
<text font-size="6.5" text-anchor="end" style="font-family:'Liberation Serif',serif;font-weight:bold;stroke:#222;stroke-width:0.32px" fill="#1a1a1a" transform="translate(397 48.9)">0.15</text>
<text font-size="6.5" text-anchor="end" style="font-family:'Liberation Serif',serif;font-weight:bold;stroke:#222;stroke-width:0.32px" fill="#1a1a1a" transform="translate(397 19.7)">0.20</text>
<text font-size="6.5" text-anchor="middle" style="font-family:'Liberation Serif',serif;font-weight:bold;stroke:#222;stroke-width:0.32px" fill="#1a1a1a" transform="translate(473.5 150.5)">log [<tspan font-style="italic">j</tspan> (mA cm<tspan font-size="4.5" baseline-shift="2.5">-2</tspan>)]</text>
<text font-size="6.3" text-anchor="middle" style="font-family:'Liberation Serif',serif;font-weight:bold;stroke:#222;stroke-width:0.32px" fill="#1a1a1a" transform="translate(379.6 79.4) rotate(-90)" letter-spacing="0.4">E (V vs RHE)</text>
<line x1="408.4" y1="25.5" x2="420.3" y2="25.5" stroke="#111" stroke-width="1.1"/>
<path d="M414.7 23.7L416.5 25.5L414.7 27.3L412.9 25.5Z" fill="#111"/>
<text font-size="6.5" text-anchor="start" style="font-family:'Liberation Serif',serif;font-weight:bold;stroke:#222;stroke-width:0.32px" fill="#1a1a1a" transform="translate(423.8 27.7)">Pt/CC</text>
<line x1="408.4" y1="34" x2="420.3" y2="34" stroke="#ff1010" stroke-width="1.1"/>
<circle cx="414.7" cy="34" r="1.45" fill="#ff1010"/>
<text font-size="6.5" text-anchor="start" style="font-family:'Liberation Serif',serif;font-weight:bold;stroke:#222;stroke-width:0.32px" fill="#1a1a1a" transform="translate(421.7 36.2)">N-Co<tspan font-size="4.5" baseline-shift="-1.5">2</tspan>P/CC</text>
<line x1="408.4" y1="44.5" x2="420.3" y2="44.5" stroke="#1010ff" stroke-width="1.1"/>
<circle cx="414.7" cy="44.5" r="1.45" fill="#1010ff"/>
<text font-size="6.5" text-anchor="start" style="font-family:'Liberation Serif',serif;font-weight:bold;stroke:#222;stroke-width:0.32px" fill="#1a1a1a" transform="translate(421.7 46.7)">CoP/CC</text>
<line x1="408.4" y1="52.7" x2="420.3" y2="52.7" stroke="#ff10d0" stroke-width="1.1"/>
<circle cx="414.7" cy="52.7" r="1.45" fill="#ff10d0"/>
<text font-size="6.5" text-anchor="start" style="font-family:'Liberation Serif',serif;font-weight:bold;stroke:#222;stroke-width:0.32px" fill="#1a1a1a" transform="translate(421.7 54.9)">Co<tspan font-size="4.5" baseline-shift="-1.5">2</tspan>P/CC</text>
<text font-size="5.9" text-anchor="middle" style="font-family:'Liberation Serif',serif;font-weight:bold;stroke:#222;stroke-width:0.32px" fill="#1a1a1a" transform="translate(494 58.5)" letter-spacing="0.3">71 mV dec<tspan font-size="4.5" baseline-shift="2.5">-1</tspan></text>
<text font-size="5.9" text-anchor="middle" style="font-family:'Liberation Serif',serif;font-weight:bold;stroke:#222;stroke-width:0.32px" fill="#1a1a1a" transform="translate(503.5 88.6)" letter-spacing="0.3">66 mV dec<tspan font-size="4.5" baseline-shift="2.5">-1</tspan></text>
<text font-size="5.9" text-anchor="middle" style="font-family:'Liberation Serif',serif;font-weight:bold;stroke:#222;stroke-width:0.32px" fill="#1a1a1a" transform="translate(498 103.2)" letter-spacing="0.3">51 mV dec<tspan font-size="4.5" baseline-shift="2.5">-1</tspan></text>
<text font-size="5.9" text-anchor="middle" style="font-family:'Liberation Serif',serif;font-weight:bold;stroke:#222;stroke-width:0.32px" fill="#1a1a1a" transform="translate(503 124.7)" letter-spacing="0.3">42 mV dec<tspan font-size="4.5" baseline-shift="2.5">-1</tspan></text>
<rect x="57" y="216.3" width="58" height="46.7" fill="none" stroke="#333" stroke-width="0.6"/>
<line x1="57" y1="263" x2="115" y2="263" stroke="#333" stroke-width="0.9"/>
<line x1="57" y1="216.3" x2="57" y2="263" stroke="#333" stroke-width="0.8"/>
<line x1="57" y1="231.2" x2="115" y2="231.2" stroke="#222" stroke-width="0.9"/>
<line x1="55.8" y1="219.9" x2="57" y2="219.9" stroke="#444" stroke-width="0.5"/>
<text font-size="4.2" text-anchor="end" style="font-family:'Liberation Serif',serif;font-weight:bold;stroke:#222;stroke-width:0.12px" fill="#1a1a1a" transform="translate(54.8 221.35)">0.2</text>
<line x1="55.8" y1="228.4" x2="57" y2="228.4" stroke="#444" stroke-width="0.5"/>
<text font-size="4.2" text-anchor="end" style="font-family:'Liberation Serif',serif;font-weight:bold;stroke:#222;stroke-width:0.12px" fill="#1a1a1a" transform="translate(54.8 229.85)">0.0</text>
<line x1="55.8" y1="236.9" x2="57" y2="236.9" stroke="#444" stroke-width="0.5"/>
<text font-size="4.2" text-anchor="end" style="font-family:'Liberation Serif',serif;font-weight:bold;stroke:#222;stroke-width:0.12px" fill="#1a1a1a" transform="translate(54.8 238.35)">-0.2</text>
<line x1="55.8" y1="245.4" x2="57" y2="245.4" stroke="#444" stroke-width="0.5"/>
<text font-size="4.2" text-anchor="end" style="font-family:'Liberation Serif',serif;font-weight:bold;stroke:#222;stroke-width:0.12px" fill="#1a1a1a" transform="translate(54.8 246.85)">-0.4</text>
<line x1="55.8" y1="253.9" x2="57" y2="253.9" stroke="#444" stroke-width="0.5"/>
<text font-size="4.2" text-anchor="end" style="font-family:'Liberation Serif',serif;font-weight:bold;stroke:#222;stroke-width:0.12px" fill="#1a1a1a" transform="translate(54.8 255.35)">-0.6</text>
<line x1="55.8" y1="262.4" x2="57" y2="262.4" stroke="#444" stroke-width="0.5"/>
<text font-size="4.2" text-anchor="end" style="font-family:'Liberation Serif',serif;font-weight:bold;stroke:#222;stroke-width:0.12px" fill="#1a1a1a" transform="translate(54.8 263.85)">-0.8</text>
<line x1="57" y1="263" x2="57" y2="264.2" stroke="#444" stroke-width="0.5"/>
<text font-size="4.2" text-anchor="middle" style="font-family:'Liberation Serif',serif;font-weight:bold;stroke:#222;stroke-width:0.12px" fill="#1a1a1a" transform="translate(57 268)">0</text>
<line x1="76.2" y1="263" x2="76.2" y2="264.2" stroke="#444" stroke-width="0.5"/>
<text font-size="4.2" text-anchor="middle" style="font-family:'Liberation Serif',serif;font-weight:bold;stroke:#222;stroke-width:0.12px" fill="#1a1a1a" transform="translate(76.2 268)">4000</text>
<line x1="95.3" y1="263" x2="95.3" y2="264.2" stroke="#444" stroke-width="0.5"/>
<text font-size="4.2" text-anchor="middle" style="font-family:'Liberation Serif',serif;font-weight:bold;stroke:#222;stroke-width:0.12px" fill="#1a1a1a" transform="translate(95.3 268)">8000</text>
<line x1="114.5" y1="263" x2="114.5" y2="264.2" stroke="#444" stroke-width="0.5"/>
<text font-size="4.2" text-anchor="middle" style="font-family:'Liberation Serif',serif;font-weight:bold;stroke:#222;stroke-width:0.12px" fill="#1a1a1a" transform="translate(114.5 268)">12000</text>
<text font-size="4.4" text-anchor="middle" style="font-family:'Liberation Serif',serif;font-weight:bold;stroke:#222;stroke-width:0.12px" fill="#1a1a1a" transform="translate(85.3 273.4)" letter-spacing="0.2">Time (s)</text>
<text font-size="5.0" text-anchor="middle" style="font-family:'Liberation Serif',serif;font-weight:bold;stroke:#222;stroke-width:0.12px" fill="#1a1a1a" transform="translate(47.2 243.5) rotate(-90)">E(V vs RHE)</text>
<polyline fill="none" stroke="#111" stroke-width="1.0" stroke-linejoin="round" stroke-linecap="round" points="179.5,177.6 176.36,178.1 174.35,178.6 172.84,179.1 171.62,179.6 170.59,180.1 169.68,180.6 168.87,181.1 168.14,181.6 167.46,182.1 166.83,182.6 166.24,183.1 165.69,183.6 165.16,184.1 164.65,184.6 164.17,185.1 163.71,185.6 163.26,186.1 162.83,186.6 162.41,187.1 162.01,187.6 161.61,188.1 161.23,188.6 160.85,189.1 160.49,189.6 160.13,190.1 159.78,190.6 159.43,191.1 159.09,191.6 158.76,192.1 158.43,192.6 158.11,193.1 157.79,193.6 157.47,194.1 157.17,194.6 156.86,195.1 156.56,195.6 156.26,196.1 155.97,196.6 155.67,197.1 155.39,197.6 155.1,198.1 154.82,198.6 154.54,199.1 154.26,199.6 153.98,200.1 153.71,200.6 153.44,201.1 153.17,201.6 152.91,202.1 152.64,202.6 152.38,203.1 152.12,203.6 151.86,204.1 151.6,204.6 151.35,205.1 151.09,205.6 150.84,206.1 150.59,206.6 150.34,207.1 150.09,207.6 149.84,208.1 149.6,208.6 149.35,209.1 149.11,209.6 148.87,210.1 148.62,210.6 148.38,211.1 148.15,211.6 147.91,212.1 147.67,212.6 147.43,213.1 147.2,213.6 146.97,214.1 146.73,214.6 146.5,215.1 146.27,215.6 146.04,216.1 145.81,216.6 145.58,217.1 145.35,217.6 145.12,218.1 144.9,218.6 144.67,219.1 144.45,219.6 144.22,220.1 144,220.6 143.77,221.1 143.55,221.6 143.33,222.1 143.11,222.6 142.89,223.1 142.67,223.6 142.45,224.1 142.23,224.6 142.01,225.1 141.79,225.6 141.57,226.1 141.35,226.6 141.14,227.1 140.92,227.6 140.71,228.1 140.49,228.6 140.28,229.1 140.06,229.6 139.85,230.1 139.64,230.6 139.42,231.1 139.21,231.6 139,232.1 138.79,232.6 138.57,233.1 138.36,233.6 138.15,234.1 137.94,234.6 137.73,235.1 137.52,235.6 137.32,236.1 137.11,236.6 136.9,237.1 136.69,237.6 136.48,238.1 136.28,238.6 136.07,239.1 135.86,239.6 135.66,240.1 135.45,240.6 135.24,241.1 135.04,241.6 134.83,242.1 134.63,242.6 134.42,243.1 134.22,243.6 134.02,244.1 133.81,244.6 133.61,245.1 133.4,245.6 133.2,246.1 133,246.6 132.8,247.1 132.59,247.6 132.39,248.1 132.19,248.6 131.99,249.1 131.79,249.6 131.59,250.1 131.39,250.6 131.19,251.1 130.99,251.6 130.79,252.1 130.59,252.6 130.39,253.1 130.19,253.6 129.99,254.1 129.79,254.6 129.59,255.1 129.39,255.6 129.19,256.1 128.99,256.6 128.8,257.1 128.6,257.6 128.4,258.1 128.2,258.6 128.01,259.1 127.81,259.6 127.61,260.1 127.42,260.6 127.22,261.1 127.02,261.6 126.83,262.1 126.63,262.6 126.44,263.1 126.24,263.6 126.04,264.1 125.85,264.6 125.65,265.1 125.46,265.6 125.26,266.1 125.07,266.6 124.87,267.1 124.68,267.6 124.49,268.1 124.29,268.6 124.1,269.1 123.9,269.6 123.71,270.1 123.52,270.6 123.32,271.1 123.13,271.6 122.94,272.1 122.74,272.6 122.55,273.1 122.36,273.6 122.17,274.1 121.97,274.6 121.78,275.1 121.59,275.6 121.4,276.1 121.21,276.6 121.01,277.1 120.82,277.6 120.63,278.1 120.44,278.6 120.25,279.1 120.06,279.6 119.87,280.1 119.67,280.6 119.48,281.1 119.29,281.6 119.1,282.1 118.91,282.6 118.72,283.1 118.53,283.6 118.34,284.1 118.15,284.6 117.96,285.1 117.77,285.6 117.58,286.1 117.39,286.6 117.2,287.1 117.01,287.6 116.82,288.1 116.63,288.6 116.45,289.1 116.26,289.6 116.07,290.1 115.88,290.6 115.69,291.1 115.5,291.6 115.31,292.1 115.12,292.6 114.94,293.1 114.75,293.6 114.56,294.1"/>
<polyline fill="none" stroke="#ff1010" stroke-width="1.3" stroke-linejoin="round" stroke-linecap="round" points="179.5,177.6 176.36,178.1 174.35,178.6 172.84,179.1 171.62,179.6 170.59,180.1 169.68,180.6 168.87,181.1 168.14,181.6 167.46,182.1 166.83,182.6 166.24,183.1 165.69,183.6 165.16,184.1 164.65,184.6 164.17,185.1 163.71,185.6 163.26,186.1 162.83,186.6 162.41,187.1 162.01,187.6 161.61,188.1 161.23,188.6 160.85,189.1 160.49,189.6 160.13,190.1 159.78,190.6 159.43,191.1 159.09,191.6 158.76,192.1 158.43,192.6 158.11,193.1 157.79,193.6 157.47,194.1 157.17,194.6 156.86,195.1 156.56,195.6 156.26,196.1 155.97,196.6 155.67,197.1 155.39,197.6 155.1,198.1 154.82,198.6 154.54,199.1 154.26,199.6 153.98,200.1 153.71,200.6 153.44,201.1 153.17,201.6 152.91,202.1 152.64,202.6 152.38,203.1 152.12,203.6 151.86,204.1 151.6,204.6 151.35,205.1 151.09,205.6 150.84,206.1 150.59,206.6 150.34,207.1 150.09,207.6 149.84,208.1 149.6,208.6 149.35,209.1 149.11,209.6 148.87,210.1 148.62,210.6 148.38,211.1 148.15,211.6 147.91,212.1 147.67,212.6 147.43,213.1 147.2,213.6 146.97,214.1 146.73,214.6 146.5,215.1 146.27,215.6 146.04,216.1 145.81,216.6 145.58,217.1 145.35,217.6 145.12,218.1 144.9,218.6 144.67,219.1 144.45,219.6 144.22,220.1 144,220.6 143.77,221.1 143.55,221.6 143.33,222.1 143.11,222.6 142.89,223.1 142.67,223.6 142.45,224.1 142.23,224.6 142.01,225.1 141.79,225.6 141.57,226.1 141.35,226.6 141.14,227.1 140.92,227.6 140.71,228.1 140.49,228.6 140.28,229.1 140.06,229.6 139.85,230.1 139.64,230.6 139.42,231.1 139.21,231.6 139,232.1 138.79,232.6 138.57,233.1 138.36,233.6 138.15,234.1 137.94,234.6 137.73,235.1 137.52,235.6 137.32,236.1 137.11,236.6 136.9,237.1 136.69,237.6 136.48,238.1 136.28,238.6 136.07,239.1 135.86,239.6 135.66,240.1 135.45,240.6 135.24,241.1 135.04,241.6 134.83,242.1 134.63,242.6 134.42,243.1 134.22,243.6 134.02,244.1 133.81,244.6 133.61,245.1 133.4,245.6 133.2,246.1 133,246.6 132.8,247.1 132.59,247.6 132.39,248.1 132.19,248.6 131.99,249.1 131.79,249.6 131.59,250.1 131.39,250.6 131.19,251.1 130.99,251.6 130.79,252.1 130.59,252.6 130.39,253.1 130.19,253.6 129.99,254.1 129.79,254.6 129.59,255.1 129.39,255.6 129.19,256.1 128.99,256.6 128.8,257.1 128.6,257.6 128.4,258.1 128.2,258.6 128.01,259.1 127.81,259.6 127.61,260.1 127.42,260.6 127.22,261.1 127.02,261.6 126.83,262.1 126.63,262.6 126.44,263.1 126.24,263.6 126.04,264.1 125.85,264.6 125.65,265.1 125.46,265.6 125.26,266.1 125.07,266.6 124.87,267.1 124.68,267.6 124.49,268.1 124.29,268.6 124.1,269.1 123.9,269.6 123.71,270.1 123.52,270.6 123.32,271.1 123.13,271.6 122.94,272.1 122.74,272.6 122.55,273.1 122.36,273.6 122.17,274.1 121.97,274.6 121.78,275.1 121.59,275.6 121.4,276.1 121.21,276.6 121.01,277.1 120.82,277.6 120.63,278.1 120.44,278.6 120.25,279.1 120.06,279.6 119.87,280.1 119.67,280.6 119.48,281.1 119.29,281.6 119.1,282.1 118.91,282.6 118.72,283.1 118.53,283.6 118.34,284.1 118.15,284.6 117.96,285.1 117.77,285.6 117.58,286.1 117.39,286.6 117.2,287.1 117.01,287.6 116.82,288.1 116.63,288.6 116.45,289.1 116.26,289.6 116.07,290.1 115.88,290.6 115.69,291.1 115.5,291.6 115.31,292.1 115.12,292.6 114.94,293.1 114.75,293.6 114.56,294.1"/>
<circle cx="179.5" cy="177.6" r="1.55" fill="#ff1010"/>
<circle cx="174.59" cy="178.54" r="1.55" fill="#ff1010"/>
<circle cx="169.98" cy="180.43" r="1.55" fill="#ff1010"/>
<circle cx="165.94" cy="183.37" r="1.55" fill="#ff1010"/>
<circle cx="162.51" cy="186.99" r="1.55" fill="#ff1010"/>
<circle cx="159.51" cy="190.99" r="1.55" fill="#ff1010"/>
<circle cx="156.8" cy="195.19" r="1.55" fill="#ff1010"/>
<circle cx="154.3" cy="199.52" r="1.55" fill="#ff1010"/>
<circle cx="151.95" cy="203.93" r="1.55" fill="#ff1010"/>
<circle cx="149.7" cy="208.4" r="1.55" fill="#ff1010"/>
<circle cx="147.53" cy="212.9" r="1.55" fill="#ff1010"/>
<circle cx="145.42" cy="217.44" r="1.55" fill="#ff1010"/>
<circle cx="143.37" cy="222" r="1.55" fill="#ff1010"/>
<circle cx="141.36" cy="226.58" r="1.55" fill="#ff1010"/>
<circle cx="139.39" cy="231.17" r="1.55" fill="#ff1010"/>
<circle cx="137.45" cy="235.78" r="1.55" fill="#ff1010"/>
<circle cx="135.53" cy="240.4" r="1.55" fill="#ff1010"/>
<circle cx="133.64" cy="245.03" r="1.55" fill="#ff1010"/>
<circle cx="131.76" cy="249.66" r="1.55" fill="#ff1010"/>
<circle cx="129.91" cy="254.3" r="1.55" fill="#ff1010"/>
<circle cx="128.07" cy="258.95" r="1.55" fill="#ff1010"/>
<circle cx="126.24" cy="263.61" r="1.55" fill="#ff1010"/>
<circle cx="124.42" cy="268.26" r="1.55" fill="#ff1010"/>
<circle cx="122.62" cy="272.93" r="1.55" fill="#ff1010"/>
<circle cx="120.82" cy="277.59" r="1.55" fill="#ff1010"/>
<circle cx="119.04" cy="282.27" r="1.55" fill="#ff1010"/>
<circle cx="117.26" cy="286.94" r="1.55" fill="#ff1010"/>
<circle cx="115.5" cy="291.62" r="1.55" fill="#ff1010"/>
<rect x="35.2" y="177.6" width="144.4" height="116.7" fill="none" stroke="#262626" stroke-width="1.2"/>
<line x1="35.2" y1="294.3" x2="35.2" y2="296.5" stroke="#262626" stroke-width="0.9"/>
<line x1="71.3" y1="294.3" x2="71.3" y2="296.5" stroke="#262626" stroke-width="0.9"/>
<line x1="107.4" y1="294.3" x2="107.4" y2="296.5" stroke="#262626" stroke-width="0.9"/>
<line x1="143.5" y1="294.3" x2="143.5" y2="296.5" stroke="#262626" stroke-width="0.9"/>
<line x1="179.6" y1="294.3" x2="179.6" y2="296.5" stroke="#262626" stroke-width="0.9"/>
<line x1="53.25" y1="294.3" x2="53.25" y2="295.62" stroke="#262626" stroke-width="0.8"/>
<line x1="89.35" y1="294.3" x2="89.35" y2="295.62" stroke="#262626" stroke-width="0.8"/>
<line x1="125.45" y1="294.3" x2="125.45" y2="295.62" stroke="#262626" stroke-width="0.8"/>
<line x1="161.55" y1="294.3" x2="161.55" y2="295.62" stroke="#262626" stroke-width="0.8"/>
<text font-size="6.2" text-anchor="middle" style="font-family:'Liberation Serif',serif;font-weight:bold;stroke:#222;stroke-width:0.32px" fill="#1a1a1a" transform="translate(35.2 303.3)">-0.4</text>
<text font-size="6.2" text-anchor="middle" style="font-family:'Liberation Serif',serif;font-weight:bold;stroke:#222;stroke-width:0.32px" fill="#1a1a1a" transform="translate(71.3 303.3)">-0.3</text>
<text font-size="6.2" text-anchor="middle" style="font-family:'Liberation Serif',serif;font-weight:bold;stroke:#222;stroke-width:0.32px" fill="#1a1a1a" transform="translate(107.4 303.3)">-0.2</text>
<text font-size="6.2" text-anchor="middle" style="font-family:'Liberation Serif',serif;font-weight:bold;stroke:#222;stroke-width:0.32px" fill="#1a1a1a" transform="translate(143.5 303.3)">-0.1</text>
<text font-size="6.2" text-anchor="middle" style="font-family:'Liberation Serif',serif;font-weight:bold;stroke:#222;stroke-width:0.32px" fill="#1a1a1a" transform="translate(179.6 303.3)">0.0</text>
<line x1="33" y1="177.6" x2="35.2" y2="177.6" stroke="#262626" stroke-width="0.9"/>
<line x1="33" y1="235.95" x2="35.2" y2="235.95" stroke="#262626" stroke-width="0.9"/>
<line x1="33" y1="294.3" x2="35.2" y2="294.3" stroke="#262626" stroke-width="0.9"/>
<line x1="33.88" y1="206.8" x2="35.2" y2="206.8" stroke="#262626" stroke-width="0.8"/>
<line x1="33.88" y1="265.1" x2="35.2" y2="265.1" stroke="#262626" stroke-width="0.8"/>
<text font-size="6.5" text-anchor="end" style="font-family:'Liberation Serif',serif;font-weight:bold;stroke:#222;stroke-width:0.32px" fill="#1a1a1a" transform="translate(29.4 179.2)">0</text>
<text font-size="6.5" text-anchor="end" style="font-family:'Liberation Serif',serif;font-weight:bold;stroke:#222;stroke-width:0.32px" fill="#1a1a1a" transform="translate(29.4 237.55)">-100</text>
<text font-size="6.5" text-anchor="end" style="font-family:'Liberation Serif',serif;font-weight:bold;stroke:#222;stroke-width:0.32px" fill="#1a1a1a" transform="translate(29.4 295.9)">-200</text>
<text font-size="6.6" text-anchor="middle" style="font-family:'Liberation Serif',serif;font-weight:bold;stroke:#222;stroke-width:0.32px" fill="#1a1a1a" transform="translate(107.4 313.6)">E&#160;&#160;(V&#160;vs&#160;RHE)</text>
<text font-size="7.2" text-anchor="middle" style="font-family:'Liberation Serif',serif;font-weight:bold;stroke:#222;stroke-width:0.32px" fill="#1a1a1a" transform="translate(13.2 238.2) rotate(-90)">Current Density (mA cm<tspan font-size="4.5" baseline-shift="2.5">-2</tspan>)</text>
<line x1="51.2" y1="191.3" x2="62.5" y2="191.3" stroke="#ff1010" stroke-width="1.1"/>
<circle cx="57" cy="191.3" r="1.6" fill="#ff1010"/>
<text font-size="6.5" text-anchor="start" style="font-family:'Liberation Serif',serif;font-weight:bold;stroke:#222;stroke-width:0.32px" fill="#1a1a1a" transform="translate(66.3 193.5)">N-Co<tspan font-size="4.5" baseline-shift="-1.5">2</tspan>P/CC</text>
<line x1="51.2" y1="203" x2="62.5" y2="203" stroke="#111" stroke-width="1.1"/>
<path d="M57 201.2L58.8 203L57 204.8L55.2 203Z" fill="#111"/>
<text font-size="6.5" text-anchor="start" style="font-family:'Liberation Serif',serif;font-weight:bold;stroke:#222;stroke-width:0.32px" fill="#1a1a1a" transform="translate(66.3 205.2)">after 3000 cycle</text>
<polyline fill="none" stroke="#888" stroke-width="0.6" stroke-linejoin="round" stroke-linecap="round" points="349.3,235 345.75,223.5 341.25,212.5 334.25,203 325,195 314.5,190 303.25,187.5 292.5,186 281.25,188.25 270.6,195 261.25,203 253.25,210.75 246.75,219 240.9,227.3 237.5,235.1 234.6,242.6 231.9,249.3 229.6,255 227.8,259.9 226.3,264.4 224.9,268.2 224.27,270.7 223.74,272.86 223.27,274.71 222.88,276.3 222.53,277.67 222.24,278.85 221.99,279.86 221.77,280.73 221.58,281.48 221.42,282.12 221.28,282.68 221.15,283.21 221.01,283.74 220.88,284.28 220.75,284.81 220.61,285.34 220.48,285.88 220.35,286.41 220.21,286.94 220.08,287.48 219.95,288.01 219.81,288.55 219.68,289.08 219.55,289.61 219.41,290.15 219.28,290.68 219.15,291.21 219.01,291.75 218.88,292.28 218.75,292.81 218.61,293.35 218.48,293.88 218.35,294.41 218.3,294.6"/>
<rect x="348.1" y="233.8" width="2.4" height="2.4" fill="#111"/>
<rect x="344.55" y="222.3" width="2.4" height="2.4" fill="#111"/>
<rect x="340.05" y="211.3" width="2.4" height="2.4" fill="#111"/>
<rect x="333.05" y="201.8" width="2.4" height="2.4" fill="#111"/>
<rect x="323.8" y="193.8" width="2.4" height="2.4" fill="#111"/>
<rect x="313.3" y="188.8" width="2.4" height="2.4" fill="#111"/>
<rect x="302.05" y="186.3" width="2.4" height="2.4" fill="#111"/>
<rect x="291.3" y="184.8" width="2.4" height="2.4" fill="#111"/>
<rect x="280.05" y="187.05" width="2.4" height="2.4" fill="#111"/>
<rect x="269.4" y="193.8" width="2.4" height="2.4" fill="#111"/>
<rect x="260.05" y="201.8" width="2.4" height="2.4" fill="#111"/>
<rect x="252.05" y="209.55" width="2.4" height="2.4" fill="#111"/>
<rect x="245.55" y="217.8" width="2.4" height="2.4" fill="#111"/>
<rect x="239.7" y="226.1" width="2.4" height="2.4" fill="#111"/>
<rect x="236.3" y="233.9" width="2.4" height="2.4" fill="#111"/>
<rect x="233.4" y="241.4" width="2.4" height="2.4" fill="#111"/>
<rect x="230.7" y="248.1" width="2.4" height="2.4" fill="#111"/>
<rect x="228.4" y="253.8" width="2.4" height="2.4" fill="#111"/>
<rect x="226.6" y="258.7" width="2.4" height="2.4" fill="#111"/>
<rect x="225.1" y="263.2" width="2.4" height="2.4" fill="#111"/>
<rect x="223.7" y="267" width="2.4" height="2.4" fill="#111"/>
<rect x="223.07" y="269.5" width="2.4" height="2.4" fill="#111"/>
<rect x="222.54" y="271.66" width="2.4" height="2.4" fill="#111"/>
<rect x="222.07" y="273.51" width="2.4" height="2.4" fill="#111"/>
<rect x="221.68" y="275.1" width="2.4" height="2.4" fill="#111"/>
<rect x="221.33" y="276.47" width="2.4" height="2.4" fill="#111"/>
<rect x="221.04" y="277.65" width="2.4" height="2.4" fill="#111"/>
<rect x="220.79" y="278.66" width="2.4" height="2.4" fill="#111"/>
<rect x="220.57" y="279.53" width="2.4" height="2.4" fill="#111"/>
<rect x="220.38" y="280.28" width="2.4" height="2.4" fill="#111"/>
<rect x="220.22" y="280.92" width="2.4" height="2.4" fill="#111"/>
<rect x="220.08" y="281.48" width="2.4" height="2.4" fill="#111"/>
<rect x="219.95" y="282.01" width="2.4" height="2.4" fill="#111"/>
<rect x="219.81" y="282.54" width="2.4" height="2.4" fill="#111"/>
<rect x="219.68" y="283.08" width="2.4" height="2.4" fill="#111"/>
<rect x="219.55" y="283.61" width="2.4" height="2.4" fill="#111"/>
<rect x="219.41" y="284.14" width="2.4" height="2.4" fill="#111"/>
<rect x="219.28" y="284.68" width="2.4" height="2.4" fill="#111"/>
<rect x="219.15" y="285.21" width="2.4" height="2.4" fill="#111"/>
<rect x="219.01" y="285.74" width="2.4" height="2.4" fill="#111"/>
<rect x="218.88" y="286.28" width="2.4" height="2.4" fill="#111"/>
<rect x="218.75" y="286.81" width="2.4" height="2.4" fill="#111"/>
<rect x="218.61" y="287.35" width="2.4" height="2.4" fill="#111"/>
<rect x="218.48" y="287.88" width="2.4" height="2.4" fill="#111"/>
<rect x="218.35" y="288.41" width="2.4" height="2.4" fill="#111"/>
<rect x="218.21" y="288.95" width="2.4" height="2.4" fill="#111"/>
<rect x="218.08" y="289.48" width="2.4" height="2.4" fill="#111"/>
<rect x="217.95" y="290.01" width="2.4" height="2.4" fill="#111"/>
<rect x="217.81" y="290.55" width="2.4" height="2.4" fill="#111"/>
<rect x="217.68" y="291.08" width="2.4" height="2.4" fill="#111"/>
<rect x="217.55" y="291.61" width="2.4" height="2.4" fill="#111"/>
<rect x="217.41" y="292.15" width="2.4" height="2.4" fill="#111"/>
<rect x="217.28" y="292.68" width="2.4" height="2.4" fill="#111"/>
<rect x="217.15" y="293.21" width="2.4" height="2.4" fill="#111"/>
<rect x="217.1" y="293.4" width="2.4" height="2.4" fill="#111"/>
<polyline fill="none" stroke="#ff1010" stroke-width="2.9" stroke-linejoin="round" stroke-linecap="round" points="218.6,295.2 218.73,294.41 218.9,293.63 219.11,292.85 219.35,292.09 219.63,291.34 219.94,290.61 220.28,289.91 220.65,289.23 221.05,288.58 221.47,287.97 221.92,287.4 222.39,286.86 222.87,286.37 223.37,285.92 223.89,285.52 224.42,285.17 224.95,284.87 225.49,284.63 226.03,284.44 226.57,284.3 227.11,284.22 227.65,284.2 228.17,284.23 228.69,284.32 229.19,284.47 229.67,284.67 230.14,284.92 230.58,285.23 231,285.59 231.39,286 231.76,286.45 232.1,286.95 232.4,287.5 232.68,288.08 232.91,288.7 233.12,289.35 233.28,290.03 233.41,290.74 233.5,291.47"/>
<rect x="217.7" y="177.5" width="145.8" height="117.5" fill="none" stroke="#262626" stroke-width="1.2"/>
<line x1="217.7" y1="295" x2="217.7" y2="297.2" stroke="#262626" stroke-width="0.9"/>
<line x1="240.02" y1="295" x2="240.02" y2="297.2" stroke="#262626" stroke-width="0.9"/>
<line x1="262.34" y1="295" x2="262.34" y2="297.2" stroke="#262626" stroke-width="0.9"/>
<line x1="284.66" y1="295" x2="284.66" y2="297.2" stroke="#262626" stroke-width="0.9"/>
<line x1="306.98" y1="295" x2="306.98" y2="297.2" stroke="#262626" stroke-width="0.9"/>
<line x1="329.3" y1="295" x2="329.3" y2="297.2" stroke="#262626" stroke-width="0.9"/>
<line x1="351.62" y1="295" x2="351.62" y2="297.2" stroke="#262626" stroke-width="0.9"/>
<line x1="228.86" y1="295" x2="228.86" y2="296.32" stroke="#262626" stroke-width="0.8"/>
<line x1="251.18" y1="295" x2="251.18" y2="296.32" stroke="#262626" stroke-width="0.8"/>
<line x1="273.5" y1="295" x2="273.5" y2="296.32" stroke="#262626" stroke-width="0.8"/>
<line x1="295.82" y1="295" x2="295.82" y2="296.32" stroke="#262626" stroke-width="0.8"/>
<line x1="318.14" y1="295" x2="318.14" y2="296.32" stroke="#262626" stroke-width="0.8"/>
<line x1="340.46" y1="295" x2="340.46" y2="296.32" stroke="#262626" stroke-width="0.8"/>
<text font-size="6.5" text-anchor="middle" style="font-family:'Liberation Serif',serif;font-weight:bold;stroke:#222;stroke-width:0.32px" fill="#1a1a1a" transform="translate(217.7 303.5)">0</text>
<text font-size="6.5" text-anchor="middle" style="font-family:'Liberation Serif',serif;font-weight:bold;stroke:#222;stroke-width:0.32px" fill="#1a1a1a" transform="translate(240.02 303.5)">50</text>
<text font-size="6.5" text-anchor="middle" style="font-family:'Liberation Serif',serif;font-weight:bold;stroke:#222;stroke-width:0.32px" fill="#1a1a1a" transform="translate(262.34 303.5)">100</text>
<text font-size="6.5" text-anchor="middle" style="font-family:'Liberation Serif',serif;font-weight:bold;stroke:#222;stroke-width:0.32px" fill="#1a1a1a" transform="translate(284.66 303.5)">150</text>
<text font-size="6.5" text-anchor="middle" style="font-family:'Liberation Serif',serif;font-weight:bold;stroke:#222;stroke-width:0.32px" fill="#1a1a1a" transform="translate(306.98 303.5)">200</text>
<text font-size="6.5" text-anchor="middle" style="font-family:'Liberation Serif',serif;font-weight:bold;stroke:#222;stroke-width:0.32px" fill="#1a1a1a" transform="translate(329.3 303.5)">250</text>
<text font-size="6.5" text-anchor="middle" style="font-family:'Liberation Serif',serif;font-weight:bold;stroke:#222;stroke-width:0.32px" fill="#1a1a1a" transform="translate(351.62 303.5)">300</text>
<line x1="215.5" y1="295" x2="217.7" y2="295" stroke="#262626" stroke-width="0.9"/>
<line x1="215.5" y1="265.62" x2="217.7" y2="265.62" stroke="#262626" stroke-width="0.9"/>
<line x1="215.5" y1="236.25" x2="217.7" y2="236.25" stroke="#262626" stroke-width="0.9"/>
<line x1="215.5" y1="206.88" x2="217.7" y2="206.88" stroke="#262626" stroke-width="0.9"/>
<line x1="215.5" y1="177.5" x2="217.7" y2="177.5" stroke="#262626" stroke-width="0.9"/>
<line x1="216.38" y1="280.31" x2="217.7" y2="280.31" stroke="#262626" stroke-width="0.8"/>
<line x1="216.38" y1="250.94" x2="217.7" y2="250.94" stroke="#262626" stroke-width="0.8"/>
<line x1="216.38" y1="221.56" x2="217.7" y2="221.56" stroke="#262626" stroke-width="0.8"/>
<line x1="216.38" y1="192.19" x2="217.7" y2="192.19" stroke="#262626" stroke-width="0.8"/>
<text font-size="6.5" text-anchor="end" style="font-family:'Liberation Serif',serif;font-weight:bold;stroke:#222;stroke-width:0.32px" fill="#1a1a1a" transform="translate(214.5 297.2)">0</text>
<text font-size="6.5" text-anchor="end" style="font-family:'Liberation Serif',serif;font-weight:bold;stroke:#222;stroke-width:0.32px" fill="#1a1a1a" transform="translate(214.5 267.82)">40</text>
<text font-size="6.5" text-anchor="end" style="font-family:'Liberation Serif',serif;font-weight:bold;stroke:#222;stroke-width:0.32px" fill="#1a1a1a" transform="translate(214.5 238.45)">80</text>
<text font-size="6.5" text-anchor="end" style="font-family:'Liberation Serif',serif;font-weight:bold;stroke:#222;stroke-width:0.32px" fill="#1a1a1a" transform="translate(214.5 209.07)">120</text>
<text font-size="6.5" text-anchor="end" style="font-family:'Liberation Serif',serif;font-weight:bold;stroke:#222;stroke-width:0.32px" fill="#1a1a1a" transform="translate(214.5 179.7)">160</text>
<text font-size="6.8" text-anchor="middle" style="font-family:'Liberation Serif',serif;font-weight:bold;stroke:#222;stroke-width:0.32px" fill="#1a1a1a" transform="translate(290.5 315.5)">Z'/ohm</text>
<text font-size="6.5" text-anchor="middle" style="font-family:'Liberation Serif',serif;font-weight:bold;stroke:#222;stroke-width:0.32px" fill="#1a1a1a" transform="translate(205.3 227) rotate(-90)">-Z''/ohm</text>
<line x1="242.4" y1="250.2" x2="257.6" y2="250.2" stroke="#333" stroke-width="1.1"/>
<rect x="257.6" y="246.8" width="17.4" height="7.2" fill="#fff" stroke="#333" stroke-width="1.1"/>
<text font-size="6.4" text-anchor="middle" style="font-family:'Liberation Serif',serif;font-weight:bold;stroke:#222;stroke-width:0.32px" fill="#1a1a1a" transform="translate(265.8 252.9)">R<tspan font-size="3.8" baseline-shift="-1.5">s</tspan></text>
<line x1="275" y1="250.2" x2="289.2" y2="250.2" stroke="#333" stroke-width="1.1"/>
<rect x="289.2" y="242.2" width="41.6" height="16" rx="1.2" fill="none" stroke="#333" stroke-width="1.1"/>
<line x1="330.8" y1="250.2" x2="345.2" y2="250.2" stroke="#333" stroke-width="1.1"/>
<rect x="301" y="238.4" width="18" height="7.6" fill="#fff" stroke="#333" stroke-width="1.1"/>
<text font-size="6.4" text-anchor="middle" style="font-family:'Liberation Serif',serif;font-weight:bold;stroke:#222;stroke-width:0.32px" fill="#1a1a1a" transform="translate(310.3 244.6)">R<tspan font-size="3.8" baseline-shift="-1.5">ct</tspan></text>
<rect x="301" y="254.6" width="18" height="8.4" fill="#fff" stroke="#333" stroke-width="1.1"/>
<text font-size="6.2" text-anchor="middle" style="font-family:'Liberation Serif',serif;font-weight:bold;stroke:#222;stroke-width:0.32px" fill="#1a1a1a" transform="translate(310.2 261.2)">CPE</text>
<line x1="294.7" y1="272.7" x2="303.7" y2="272.7" stroke="#888" stroke-width="0.6"/>
<rect x="297.8" y="271.2" width="3" height="3" fill="#111"/>
<text font-size="6.8" text-anchor="start" style="font-family:'Liberation Serif',serif;font-weight:bold;stroke:#222;stroke-width:0.32px" fill="#1a1a1a" transform="translate(309.4 275)">Co<tspan font-size="4.5" baseline-shift="-1.5">2</tspan>P/CC</text>
<line x1="294.7" y1="283.4" x2="303.7" y2="283.4" stroke="#faa" stroke-width="0.6"/>
<circle cx="299.3" cy="283.4" r="1.7" fill="#ff1010"/>
<text font-size="6.8" text-anchor="start" style="font-family:'Liberation Serif',serif;font-weight:bold;stroke:#222;stroke-width:0.32px" fill="#1a1a1a" transform="translate(309.4 285.7)">N-Co<tspan font-size="4.5" baseline-shift="-1.5">2</tspan>P/CC</text>
<line x1="413" y1="246.86" x2="531" y2="194.96" stroke="#ff1010" stroke-width="0.9" stroke-dasharray="1 1"/>
<rect x="412.8" y="245.04" width="3.4" height="3.4" fill="#ff1010"/>
<rect x="441.49" y="231.62" width="3.4" height="3.4" fill="#ff1010"/>
<rect x="470.18" y="219.09" width="3.4" height="3.4" fill="#ff1010"/>
<rect x="498.87" y="205.66" width="3.4" height="3.4" fill="#ff1010"/>
<rect x="527.56" y="194.92" width="3.4" height="3.4" fill="#ff1010"/>
<line x1="413" y1="274.3" x2="531" y2="232.34" stroke="#ff8c1a" stroke-width="0.9" stroke-dasharray="1 1"/>
<rect x="412.8" y="272.78" width="3.4" height="3.4" fill="#ff8c1a"/>
<rect x="441.49" y="261.15" width="3.4" height="3.4" fill="#ff8c1a"/>
<rect x="470.18" y="251.31" width="3.4" height="3.4" fill="#ff8c1a"/>
<rect x="498.87" y="241.46" width="3.4" height="3.4" fill="#ff8c1a"/>
<rect x="527.56" y="231.62" width="3.4" height="3.4" fill="#ff8c1a"/>
<line x1="413" y1="292.06" x2="531" y2="272.73" stroke="#1010ff" stroke-width="0.9" stroke-dasharray="1 1"/>
<rect x="412.8" y="290.51" width="3.4" height="3.4" fill="#1010ff"/>
<rect x="441.49" y="285.05" width="3.4" height="3.4" fill="#1010ff"/>
<rect x="470.18" y="280.3" width="3.4" height="3.4" fill="#1010ff"/>
<rect x="498.87" y="276.37" width="3.4" height="3.4" fill="#1010ff"/>
<rect x="527.56" y="271.35" width="3.4" height="3.4" fill="#1010ff"/>
<rect x="400.5" y="178" width="143.5" height="115.75" fill="none" stroke="#262626" stroke-width="1.2"/>
<line x1="414.5" y1="293.75" x2="414.5" y2="295.95" stroke="#262626" stroke-width="0.9"/>
<line x1="443.19" y1="293.75" x2="443.19" y2="295.95" stroke="#262626" stroke-width="0.9"/>
<line x1="471.88" y1="293.75" x2="471.88" y2="295.95" stroke="#262626" stroke-width="0.9"/>
<line x1="500.57" y1="293.75" x2="500.57" y2="295.95" stroke="#262626" stroke-width="0.9"/>
<line x1="529.26" y1="293.75" x2="529.26" y2="295.95" stroke="#262626" stroke-width="0.9"/>
<line x1="428.85" y1="293.75" x2="428.85" y2="295.07" stroke="#262626" stroke-width="0.8"/>
<line x1="457.54" y1="293.75" x2="457.54" y2="295.07" stroke="#262626" stroke-width="0.8"/>
<line x1="486.23" y1="293.75" x2="486.23" y2="295.07" stroke="#262626" stroke-width="0.8"/>
<line x1="514.92" y1="293.75" x2="514.92" y2="295.07" stroke="#262626" stroke-width="0.8"/>
<line x1="400.5" y1="293.75" x2="400.5" y2="295.07" stroke="#262626" stroke-width="0.8"/>
<text font-size="6.5" text-anchor="middle" style="font-family:'Liberation Serif',serif;font-weight:bold;stroke:#222;stroke-width:0.32px" fill="#1a1a1a" transform="translate(414.5 302.5)">10</text>
<text font-size="6.5" text-anchor="middle" style="font-family:'Liberation Serif',serif;font-weight:bold;stroke:#222;stroke-width:0.32px" fill="#1a1a1a" transform="translate(443.19 302.5)">20</text>
<text font-size="6.5" text-anchor="middle" style="font-family:'Liberation Serif',serif;font-weight:bold;stroke:#222;stroke-width:0.32px" fill="#1a1a1a" transform="translate(471.88 302.5)">30</text>
<text font-size="6.5" text-anchor="middle" style="font-family:'Liberation Serif',serif;font-weight:bold;stroke:#222;stroke-width:0.32px" fill="#1a1a1a" transform="translate(500.57 302.5)">40</text>
<text font-size="6.5" text-anchor="middle" style="font-family:'Liberation Serif',serif;font-weight:bold;stroke:#222;stroke-width:0.32px" fill="#1a1a1a" transform="translate(529.26 302.5)">50</text>
<line x1="398.3" y1="280.75" x2="400.5" y2="280.75" stroke="#262626" stroke-width="0.9"/>
<line x1="398.3" y1="262.85" x2="400.5" y2="262.85" stroke="#262626" stroke-width="0.9"/>
<line x1="398.3" y1="244.95" x2="400.5" y2="244.95" stroke="#262626" stroke-width="0.9"/>
<line x1="398.3" y1="227.05" x2="400.5" y2="227.05" stroke="#262626" stroke-width="0.9"/>
<line x1="398.3" y1="209.15" x2="400.5" y2="209.15" stroke="#262626" stroke-width="0.9"/>
<line x1="398.3" y1="191.25" x2="400.5" y2="191.25" stroke="#262626" stroke-width="0.9"/>
<line x1="399.18" y1="280.75" x2="400.5" y2="280.75" stroke="#262626" stroke-width="0.8"/>
<line x1="399.18" y1="271.8" x2="400.5" y2="271.8" stroke="#262626" stroke-width="0.8"/>
<line x1="399.18" y1="253.9" x2="400.5" y2="253.9" stroke="#262626" stroke-width="0.8"/>
<line x1="399.18" y1="236" x2="400.5" y2="236" stroke="#262626" stroke-width="0.8"/>
<line x1="399.18" y1="218.1" x2="400.5" y2="218.1" stroke="#262626" stroke-width="0.8"/>
<line x1="399.18" y1="200.2" x2="400.5" y2="200.2" stroke="#262626" stroke-width="0.8"/>
<line x1="399.18" y1="182.3" x2="400.5" y2="182.3" stroke="#262626" stroke-width="0.8"/>
<text font-size="6.5" text-anchor="end" style="font-family:'Liberation Serif',serif;font-weight:bold;stroke:#222;stroke-width:0.32px" fill="#1a1a1a" transform="translate(396.6 282.65)">2</text>
<text font-size="6.5" text-anchor="end" style="font-family:'Liberation Serif',serif;font-weight:bold;stroke:#222;stroke-width:0.32px" fill="#1a1a1a" transform="translate(396.6 264.75)">4</text>
<text font-size="6.5" text-anchor="end" style="font-family:'Liberation Serif',serif;font-weight:bold;stroke:#222;stroke-width:0.32px" fill="#1a1a1a" transform="translate(396.6 246.85)">6</text>
<text font-size="6.5" text-anchor="end" style="font-family:'Liberation Serif',serif;font-weight:bold;stroke:#222;stroke-width:0.32px" fill="#1a1a1a" transform="translate(396.6 228.95)">8</text>
<text font-size="6.5" text-anchor="end" style="font-family:'Liberation Serif',serif;font-weight:bold;stroke:#222;stroke-width:0.32px" fill="#1a1a1a" transform="translate(396.6 211.05)">10</text>
<text font-size="6.5" text-anchor="end" style="font-family:'Liberation Serif',serif;font-weight:bold;stroke:#222;stroke-width:0.32px" fill="#1a1a1a" transform="translate(396.6 193.15)">12</text>
<text font-size="6.4" text-anchor="middle" style="font-family:'Liberation Serif',serif;font-weight:bold;stroke:#222;stroke-width:0.32px" fill="#1a1a1a" transform="translate(474.8 312.6)" letter-spacing="0.15">Scan rate (mV s<tspan font-size="4.5" baseline-shift="2.5">-1</tspan>)</text>
<text font-size="6.4" text-anchor="middle" style="font-family:'Liberation Serif',serif;font-weight:bold;stroke:#222;stroke-width:0.32px" fill="#1a1a1a" transform="translate(387.4 236.8) rotate(-90)" letter-spacing="0.35">&#916;<tspan font-style="italic">j</tspan> /2 (mA cm<tspan font-size="4.5" baseline-shift="2.5">-2</tspan>)</text>
<rect x="408.4" y="186.4" width="3.2" height="3.2" fill="#ff1010"/>
<text font-size="6.8" text-anchor="start" style="font-family:'Liberation Serif',serif;font-weight:bold;stroke:#222;stroke-width:0.32px" fill="#1a1a1a" transform="translate(418.2 190.3)">N-Co<tspan font-size="4.5" baseline-shift="-1.5">2</tspan>P/CC</text>
<rect x="408.4" y="195.15" width="3.2" height="3.2" fill="#ff8c1a"/>
<text font-size="6.8" text-anchor="start" style="font-family:'Liberation Serif',serif;font-weight:bold;stroke:#222;stroke-width:0.32px" fill="#1a1a1a" transform="translate(418.2 199.05)">CoP/CC</text>
<rect x="408.4" y="203.9" width="3.2" height="3.2" fill="#1010ff"/>
<text font-size="6.8" text-anchor="start" style="font-family:'Liberation Serif',serif;font-weight:bold;stroke:#222;stroke-width:0.32px" fill="#1a1a1a" transform="translate(418.2 207.8)">Co<tspan font-size="4.5" baseline-shift="-1.5">2</tspan>P/CC</text>
<text font-size="6.2" text-anchor="middle" style="font-family:'Liberation Serif',serif;font-weight:bold;stroke:#222;stroke-width:0.32px" fill="#1a1a1a" transform="translate(502.2 223.6)" letter-spacing="0.35">141 mF cm<tspan font-size="4.5" baseline-shift="2.5">-2</tspan></text>
<text font-size="6.2" text-anchor="middle" style="font-family:'Liberation Serif',serif;font-weight:bold;stroke:#222;stroke-width:0.32px" fill="#1a1a1a" transform="translate(502.7 256.6)" letter-spacing="0.35">116 mF cm<tspan font-size="4.5" baseline-shift="2.5">-2</tspan></text>
<text font-size="6.2" text-anchor="middle" style="font-family:'Liberation Serif',serif;font-weight:bold;stroke:#222;stroke-width:0.32px" fill="#1a1a1a" transform="translate(501.8 288.1)" letter-spacing="0.35">53 mF cm<tspan font-size="4.5" baseline-shift="2.5">-2</tspan></text>
</g>
</svg>
</body></html>
